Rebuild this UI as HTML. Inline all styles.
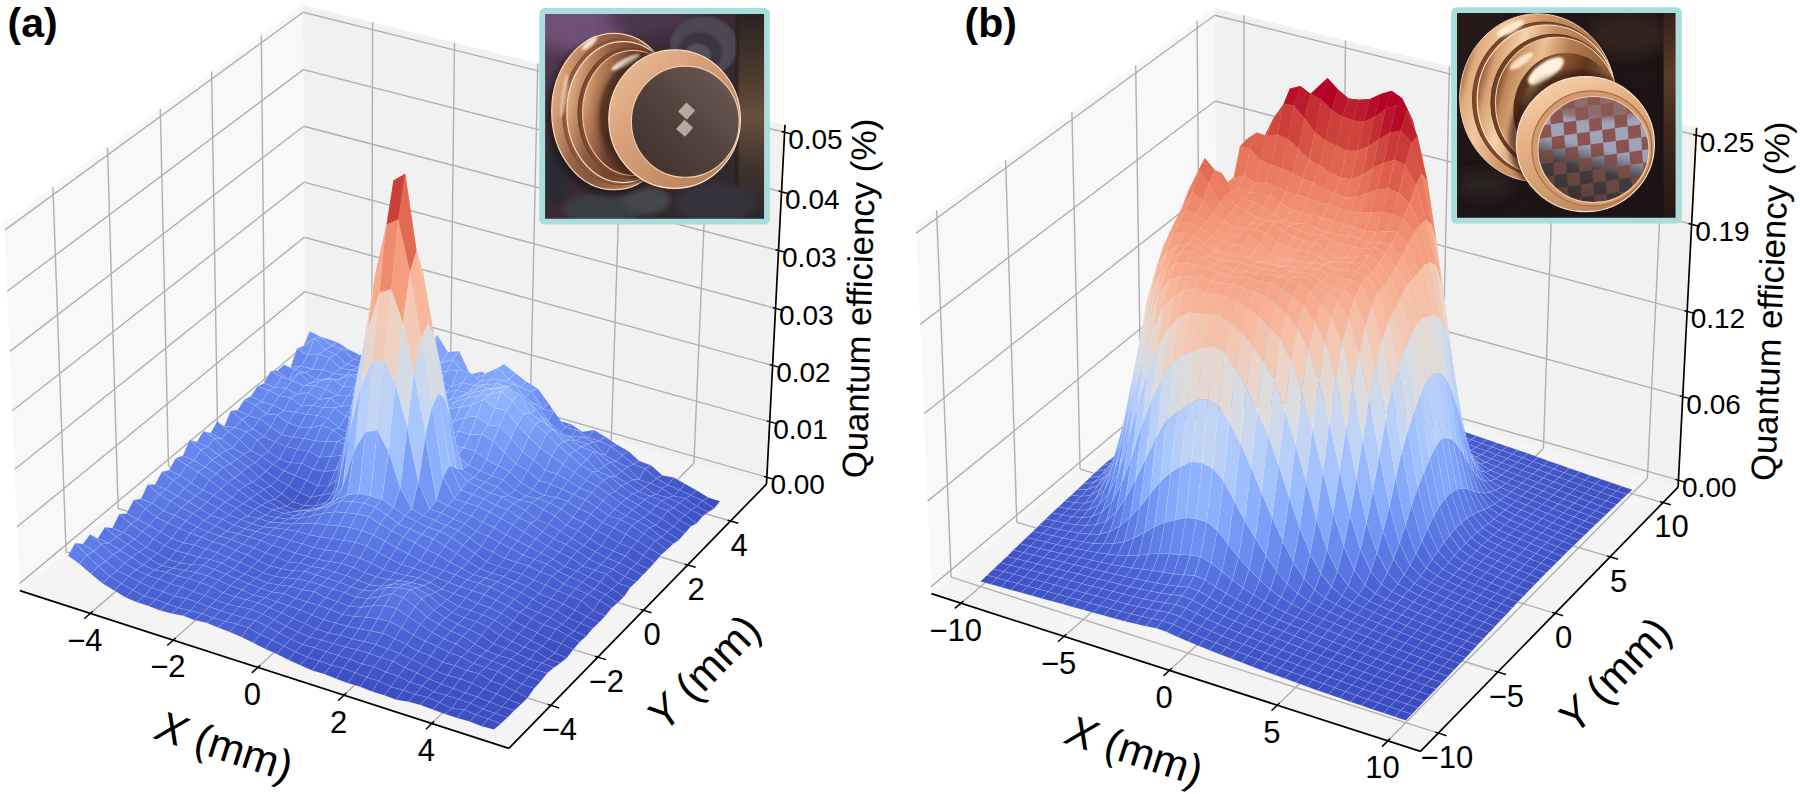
<!DOCTYPE html>
<html><head><meta charset="utf-8"><title>Quantum efficiency maps</title>
<style>html,body{margin:0;padding:0;background:#fff}svg{display:block}</style></head>
<body>
<svg width="1800" height="794" viewBox="0 0 1800 794" font-family="Liberation Sans, Arial, Helvetica, sans-serif" fill="#000">
<rect width="1800" height="794" fill="#fff"/>
<g id="pa"><polygon points="19.8,590.6 508.9,748.4 766.5,484.1 305.1,352" fill="#f4f4f4"/>
<polygon points="19.8,590.6 305.1,352 303,5 4.4,222.4" fill="#f8f8f8"/>
<polygon points="305.1,352 766.5,484.1 785,124.8 303,5" fill="#f1f1f1"/>
<g><line x1="90.3" y1="613.4" x2="371.8" y2="371.1" stroke="#b0b0b0" stroke-width="1.4" /><line x1="371.8" y1="371.1" x2="372.6" y2="22.3" stroke="#b0b0b0" stroke-width="1.4" /><line x1="173.3" y1="640.1" x2="450.3" y2="393.6" stroke="#b0b0b0" stroke-width="1.4" /><line x1="450.3" y1="393.6" x2="454.5" y2="42.7" stroke="#b0b0b0" stroke-width="1.4" /><line x1="257.8" y1="667.4" x2="530.1" y2="416.4" stroke="#b0b0b0" stroke-width="1.4" /><line x1="530.1" y1="416.4" x2="537.8" y2="63.4" stroke="#b0b0b0" stroke-width="1.4" /><line x1="343.9" y1="695.2" x2="611.3" y2="439.7" stroke="#b0b0b0" stroke-width="1.4" /><line x1="611.3" y1="439.7" x2="622.7" y2="84.5" stroke="#b0b0b0" stroke-width="1.4" /><line x1="431.7" y1="723.5" x2="693.9" y2="463.3" stroke="#b0b0b0" stroke-width="1.4" /><line x1="693.9" y1="463.3" x2="709" y2="105.9" stroke="#b0b0b0" stroke-width="1.4" /><line x1="66.1" y1="551.9" x2="550.9" y2="705.4" stroke="#b0b0b0" stroke-width="1.4" /><line x1="66.1" y1="551.9" x2="52.9" y2="187.1" stroke="#b0b0b0" stroke-width="1.4" /><line x1="118.1" y1="508.4" x2="597.9" y2="657.1" stroke="#b0b0b0" stroke-width="1.4" /><line x1="118.1" y1="508.4" x2="107.5" y2="147.4" stroke="#b0b0b0" stroke-width="1.4" /><line x1="168.5" y1="466.2" x2="643.5" y2="610.3" stroke="#b0b0b0" stroke-width="1.4" /><line x1="168.5" y1="466.2" x2="160.3" y2="108.9" stroke="#b0b0b0" stroke-width="1.4" /><line x1="217.5" y1="425.2" x2="687.7" y2="565" stroke="#b0b0b0" stroke-width="1.4" /><line x1="217.5" y1="425.2" x2="211.6" y2="71.6" stroke="#b0b0b0" stroke-width="1.4" /><line x1="265" y1="385.5" x2="730.5" y2="521" stroke="#b0b0b0" stroke-width="1.4" /><line x1="265" y1="385.5" x2="261.3" y2="35.4" stroke="#b0b0b0" stroke-width="1.4" /><line x1="19.5" y1="583.6" x2="305" y2="345.3" stroke="#b0b0b0" stroke-width="1.4" /><line x1="305" y1="345.3" x2="766.9" y2="477.2" stroke="#b0b0b0" stroke-width="1.4" /><line x1="17.1" y1="526.8" x2="304.7" y2="291.6" stroke="#b0b0b0" stroke-width="1.4" /><line x1="304.7" y1="291.6" x2="769.7" y2="421.7" stroke="#b0b0b0" stroke-width="1.4" /><line x1="14.7" y1="469.2" x2="304.4" y2="237.2" stroke="#b0b0b0" stroke-width="1.4" /><line x1="304.4" y1="237.2" x2="772.6" y2="365.5" stroke="#b0b0b0" stroke-width="1.4" /><line x1="12.3" y1="410.7" x2="304.1" y2="182.1" stroke="#b0b0b0" stroke-width="1.4" /><line x1="304.1" y1="182.1" x2="775.5" y2="308.4" stroke="#b0b0b0" stroke-width="1.4" /><line x1="9.8" y1="351.4" x2="303.7" y2="126.3" stroke="#b0b0b0" stroke-width="1.4" /><line x1="303.7" y1="126.3" x2="778.5" y2="250.5" stroke="#b0b0b0" stroke-width="1.4" /><line x1="7.2" y1="291.2" x2="303.4" y2="69.6" stroke="#b0b0b0" stroke-width="1.4" /><line x1="303.4" y1="69.6" x2="781.5" y2="191.8" stroke="#b0b0b0" stroke-width="1.4" /><line x1="4.7" y1="230.1" x2="303.1" y2="12.3" stroke="#b0b0b0" stroke-width="1.4" /><line x1="303.1" y1="12.3" x2="784.6" y2="132.3" stroke="#b0b0b0" stroke-width="1.4" /></g>
<g transform="scale(.1)" stroke="#fff" stroke-width="5.5" stroke-linejoin="round"><g stroke-opacity="0.22">
<path d="m3098 3312l109 58 64 17-108-16z" fill="#6f92f3"/>
<path d="m3207 3370l108 88 64-32-108-39z" fill="#6e90f2"/>
<path d="m3315 3458l109 33 64 5-109-70z" fill="#6b8df0"/>
<path d="m3424 3491l109 105 64-46-109-54z" fill="#6788ee"/>
<path d="m3533 3596l109 13 64-77-109 18z" fill="#6687ed"/>
<path d="m3642 3609l110 63 63-73-109-67z" fill="#6687ed"/>
<path d="m3752 3672l110-91 64-90-111 108z" fill="#6b8df0"/>
<path d="m3862 3581l110 61 63-95-109-56z" fill="#7093f3"/>
<path d="m3972 3642l111-52 63-1-111-42z" fill="#7295f4"/>
<path d="m4083 3590l111 74 63-126-111 51z" fill="#7597f6"/>
<path d="m4194 3664l111-54 65-265-113 193z" fill="#7ea1fa"/>
<path d="m4305 3610l112 17 63-107-110-175z" fill="#82a6fb"/>
<path d="m4417 3627l112-30 63-87-112 10z" fill="#82a6fb"/>
<path d="m4529 3597l111 135 61 14-109-236z" fill="#7da0f9"/>
<path d="m4640 3732l112 56 62-74-113 32z" fill="#7699f6"/>
<path d="m4752 3788l113-59 61 49-112-64z" fill="#779af7"/>
<path d="m4865 3729l115-49 61-40-115 138z" fill="#80a3fa"/>
<path d="m4980 3680l111 116 62-66-112-90z" fill="#84a7fc"/>
<path d="m5091 3796l113 75 61-53-112-88z" fill="#7da0f9"/>
<path d="m5204 3871l113 46 61-32-113-67z" fill="#799cf8"/>
<path d="m5317 3917l110 173 61-56-110-149z" fill="#7093f3"/>
<path d="m5427 4090l114 25 57 93-110-174z" fill="#6687ed"/>
<path d="m5541 4115l111 161 60-34-114-34z" fill="#5f7fe8"/>
<path d="m5652 4276l115 24 58 18-113-76z" fill="#5b7ae5"/>
<path d="m5767 4300l113 78 61-78-116 18z" fill="#5b7ae5"/>
<path d="m5880 4378l115 32 59-42-113-68z" fill="#5a78e4"/>
<path d="m5995 4410l114 55 59-19-114-78z" fill="#5875e1"/>
<path d="m6109 4465l113 88 60-44-114-63z" fill="#5470de"/>
<path d="m6222 4553l114 88 58-31-112-101z" fill="#4f69d9"/>
<path d="m6336 4641l115 47 59-35-116-43z" fill="#4b64d5"/>
<path d="m6451 4688l114 96 58-32-113-99z" fill="#485fd1"/>
<path d="m6565 4784l114 66 60-74-116-24z" fill="#445acc"/>
<path d="m6679 4850l116 49 59-60-115-63z" fill="#4358cb"/>
<path d="m6795 4899l116 55 58-48-115-67z" fill="#4055c8"/>
<path d="m6911 4954l116 53 57-32-115-69z" fill="#3e51c5"/>
<path d="m7027 5007l115 77 59-71-117-38z" fill="#3c4ec2"/>
<path d="m3034 3461l108-77 65-14-109-58z" fill="#7396f5"/>
<path d="m3142 3384l109 116 64-42-108-88z" fill="#7295f4"/>
<path d="m3251 3500l109 44 64-53-109-33z" fill="#6e90f2"/>
<path d="m3360 3544l109 100 64-48-109-105z" fill="#688aef"/>
<path d="m3469 3644l110 29 63-64-109-13z" fill="#6687ed"/>
<path d="m3579 3673l110-39 63 38-110-63z" fill="#6788ee"/>
<path d="m3689 3634l109 53 64-106-110 91z" fill="#6b8df0"/>
<path d="m3798 3687l111 32 63-77-110-61z" fill="#6c8ff1"/>
<path d="m3909 3719l110-13 64-116-111 52z" fill="#6f92f3"/>
<path d="m4019 3706l111 12 64-54-111-74z" fill="#7295f4"/>
<path d="m4130 3718l111 76 64-184-111 54z" fill="#7396f5"/>
<path d="m4241 3794l113-64 63-103-112-17z" fill="#779af7"/>
<path d="m4354 3730l112-18 63-115-112 30z" fill="#7da0f9"/>
<path d="m4466 3712l112-6 62 26-111-135z" fill="#7ea1fa"/>
<path d="m4578 3706l113 13 61 69-112-56z" fill="#7da0f9"/>
<path d="m4691 3719l112 96 62-86-113 59z" fill="#7da0f9"/>
<path d="m4803 3815l114-27 63-108-115 49z" fill="#81a4fb"/>
<path d="m4917 3788l113 15 61-7-111-116z" fill="#84a7fc"/>
<path d="m5030 3803l114 41 60 27-113-75z" fill="#80a3fa"/>
<path d="m5144 3844l111 137 62-64-113-46z" fill="#7b9ff9"/>
<path d="m5255 3981l113 67 59 42-110-173z" fill="#7396f5"/>
<path d="m5368 4048l111 160 62-93-114-25z" fill="#6c8ff1"/>
<path d="m5479 4208l112 133 61-65-111-161z" fill="#6384eb"/>
<path d="m5591 4341l115 23 61-64-115-24z" fill="#5e7de7"/>
<path d="m5706 4364l115 5 59 9-113-78z" fill="#5e7de7"/>
<path d="m5821 4369l115 54 59-13-115-32z" fill="#5d7ce6"/>
<path d="m5936 4423l112 128 61-86-114-55z" fill="#5977e3"/>
<path d="m6048 4551l114 65 60-63-113-88z" fill="#5470de"/>
<path d="m6162 4616l115 56 59-31-114-88z" fill="#506bda"/>
<path d="m6277 4672l113 123 61-107-115-47z" fill="#4c66d6"/>
<path d="m6390 4795l116 38 59-49-114-96z" fill="#485fd1"/>
<path d="m6506 4833l115 51 58-34-114-66z" fill="#455cce"/>
<path d="m6621 4884l115 77 59-62-116-49z" fill="#4358cb"/>
<path d="m6736 4961l117 23 58-30-116-55z" fill="#4257c9"/>
<path d="m6853 4984l115 81 59-58-116-53z" fill="#3f53c6"/>
<path d="m6968 5065l117 54 57-35-115-77z" fill="#3d50c3"/>
<path d="m2969 3486l109 66 64-168-108 77z" fill="#6f92f3"/>
<path d="m3078 3552l109-12 64-40-109-116z" fill="#7093f3"/>
<path d="m3187 3540l109 40 64-36-109-44z" fill="#6e90f2"/>
<path d="m3296 3580l109 104 64-40-109-100z" fill="#6a8bef"/>
<path d="m3405 3684l110 17 64-28-110-29z" fill="#6788ee"/>
<path d="m3515 3701l110 23 64-90-110 39z" fill="#6a8bef"/>
<path d="m3625 3724l110 1 63-38-109-53z" fill="#6b8df0"/>
<path d="m3735 3725l110 98 64-104-111-32z" fill="#6a8bef"/>
<path d="m3845 3823l111-21 63-96-110 13z" fill="#6b8df0"/>
<path d="m3956 3802l111-16 63-68-111-12z" fill="#6f92f3"/>
<path d="m4067 3786l111 65 63-57-111-76z" fill="#6f92f3"/>
<path d="m4178 3851l112-25 64-96-113 64z" fill="#7093f3"/>
<path d="m4290 3826l112-12 64-102-112 18z" fill="#779af7"/>
<path d="m4402 3814l112 56 64-164-112 6z" fill="#7a9df8"/>
<path d="m4514 3870l114-42 63-109-113-13z" fill="#7da0f9"/>
<path d="m4628 3828l112 27 63-40-112-96z" fill="#7ea1fa"/>
<path d="m4740 3855l114-11 63-56-114 27z" fill="#80a3fa"/>
<path d="m4854 3844l114-7 62-34-113-15z" fill="#84a7fc"/>
<path d="m4968 3837l114 29 62-22-114-41z" fill="#85a8fc"/>
<path d="m5082 3866l112 145 61-30-111-137z" fill="#80a3fa"/>
<path d="m5194 4011l114 23 60 14-113-67z" fill="#799cf8"/>
<path d="m5308 4034l112 142 59 32-111-160z" fill="#7295f4"/>
<path d="m5420 4176l113 79 58 86-112-133z" fill="#6788ee"/>
<path d="m5533 4255l114 92 59 17-115-23z" fill="#6384eb"/>
<path d="m5647 4347l114 59 60-37-115-5z" fill="#6282ea"/>
<path d="m5761 4406l115 35 60-18-115-54z" fill="#6180e9"/>
<path d="m5876 4441l114 96 58 14-112-128z" fill="#5d7ce6"/>
<path d="m5990 4537l114 87 58-8-114-65z" fill="#5673e0"/>
<path d="m6104 4624l114 88 59-40-115-56z" fill="#536edd"/>
<path d="m6218 4712l114 86 58-3-113-123z" fill="#4e68d8"/>
<path d="m6332 4798l115 76 59-41-116-38z" fill="#4961d2"/>
<path d="m6447 4874l115 71 59-61-115-51z" fill="#465ecf"/>
<path d="m6562 4945l116 31 58-15-115-77z" fill="#445acc"/>
<path d="m6678 4976l117 54 58-46-117-23z" fill="#4358cb"/>
<path d="m6795 5030l116 67 57-32-115-81z" fill="#4257c9"/>
<path d="m6911 5097l116 65 58-43-117-54z" fill="#3e51c5"/>
<path d="m2905 3674l108-14 65-108-109-66z" fill="#688aef"/>
<path d="m3013 3660l109 32 65-152-109 12z" fill="#6a8bef"/>
<path d="m3122 3692l109 6 65-118-109-40z" fill="#6b8df0"/>
<path d="m3231 3698l110 39 64-53-109-104z" fill="#6a8bef"/>
<path d="m3341 3737l109 16 65-52-110-17z" fill="#688aef"/>
<path d="m3450 3753l110-5 65-24-110-23z" fill="#6a8bef"/>
<path d="m3560 3748l111 20 64-43-110-1z" fill="#6c8ff1"/>
<path d="m3671 3768l110 30 64 25-110-98z" fill="#6b8df0"/>
<path d="m3781 3798l111 52 64-48-111 21z" fill="#6b8df0"/>
<path d="m3892 3850l111 15 64-79-111 16z" fill="#6e90f2"/>
<path d="m4003 3865l111 115 64-129-111-65z" fill="#6c8ff1"/>
<path d="m4114 3980l113-79 63-75-112 25z" fill="#6e90f2"/>
<path d="m4227 3901l112 30 63-117-112 12z" fill="#7396f5"/>
<path d="m4339 3931l112-1 63-60-112-56z" fill="#7597f6"/>
<path d="m4451 3930l114-28 63-74-114 42z" fill="#799cf8"/>
<path d="m4565 3902l113 28 62-75-112-27z" fill="#7da0f9"/>
<path d="m4678 3930l114-69 62-17-114 11z" fill="#81a4fb"/>
<path d="m4792 3861l114 26 62-50-114 7z" fill="#85a8fc"/>
<path d="m4906 3887l115-21 61 0-114-29z" fill="#88abfd"/>
<path d="m5021 3866l113 70 60 75-112-145z" fill="#85a8fc"/>
<path d="m5134 3936l114 68 60 30-114-23z" fill="#81a4fb"/>
<path d="m5248 4004l114 89 58 83-112-142z" fill="#7b9ff9"/>
<path d="m5362 4093l112 154 59 8-113-79z" fill="#7396f5"/>
<path d="m5474 4247l113 85 60 15-114-92z" fill="#6c8ff1"/>
<path d="m5587 4332l114 69 60 5-114-59z" fill="#6788ee"/>
<path d="m5701 4401l115 67 60-27-115-35z" fill="#6485ec"/>
<path d="m5816 4468l115 50 59 19-114-96z" fill="#6282ea"/>
<path d="m5931 4518l113 139 60-33-114-87z" fill="#5b7ae5"/>
<path d="m6044 4657l113 107 61-52-114-88z" fill="#5572df"/>
<path d="m6157 4764l115 72 60-38-114-86z" fill="#506bda"/>
<path d="m6272 4836l115 79 60-41-115-76z" fill="#4b64d5"/>
<path d="m6387 4915l116 47 59-17-115-71z" fill="#4961d2"/>
<path d="m6503 4962l117 46 58-32-116-31z" fill="#465ecf"/>
<path d="m6620 5008l116 72 59-50-117-54z" fill="#455cce"/>
<path d="m6736 5080l116 73 59-56-116-67z" fill="#4358cb"/>
<path d="m6852 5153l115 79 60-70-116-65z" fill="#3f53c6"/>
<path d="m2839 3647l109 47 65-34-108 14z" fill="#6687ed"/>
<path d="m2948 3694l109 34 65-36-109-32z" fill="#6788ee"/>
<path d="m3057 3728l110 66 64-96-109-6z" fill="#6687ed"/>
<path d="m3167 3794l109-8 65-49-110-39z" fill="#6788ee"/>
<path d="m3276 3786l110 10 64-43-109-16z" fill="#688aef"/>
<path d="m3386 3796l110-50 64 2-110 5z" fill="#6c8ff1"/>
<path d="m3496 3746l111 63 64-41-111-20z" fill="#6f92f3"/>
<path d="m3607 3809l110 19 64-30-110-30z" fill="#6f92f3"/>
<path d="m3717 3828l111 21 64 1-111-52z" fill="#6f92f3"/>
<path d="m3828 3849l112 58 63-42-111-15z" fill="#6f92f3"/>
<path d="m3940 3907l111 63 63 10-111-115z" fill="#6b8df0"/>
<path d="m4051 3970l112 11 64-80-113 79z" fill="#6c8ff1"/>
<path d="m4163 3981l112 62 64-112-112-30z" fill="#6f92f3"/>
<path d="m4275 4043l113-50 63-63-112 1z" fill="#7295f4"/>
<path d="m4388 3993l113 6 64-97-114 28z" fill="#7699f6"/>
<path d="m4501 3999l114-39 63-30-113-28z" fill="#7b9ff9"/>
<path d="m4615 3960l114-33 63-66-114 69z" fill="#81a4fb"/>
<path d="m4729 3927l115-27 62-13-114-26z" fill="#88abfd"/>
<path d="m4844 3900l115-11 62-23-115 21z" fill="#8caffe"/>
<path d="m4959 3889l115-14 60 61-113-70z" fill="#8fb1fe"/>
<path d="m5074 3875l114 62 60 67-114-68z" fill="#8db0fe"/>
<path d="m5188 3937l112 195 62-39-114-89z" fill="#85a8fc"/>
<path d="m5300 4132l114 74 60 41-112-154z" fill="#7b9ff9"/>
<path d="m5414 4206l114 87 59 39-113-85z" fill="#7597f6"/>
<path d="m5528 4293l113 122 60-14-114-69z" fill="#6f92f3"/>
<path d="m5641 4415l114 89 61-36-115-67z" fill="#688aef"/>
<path d="m5755 4504l115 93 61-79-115-50z" fill="#6485ec"/>
<path d="m5870 4597l113 116 61-56-113-139z" fill="#5e7de7"/>
<path d="m5983 4713l116 51 58 0-113-107z" fill="#5875e1"/>
<path d="m6099 4764l114 96 59-24-115-72z" fill="#536edd"/>
<path d="m6213 4860l115 78 59-23-115-79z" fill="#4e68d8"/>
<path d="m6328 4938l116 62 59-38-116-47z" fill="#4b64d5"/>
<path d="m6444 5000l116 59 60-51-117-46z" fill="#4961d2"/>
<path d="m6560 5059l117 52 59-31-116-72z" fill="#485fd1"/>
<path d="m6677 5111l116 91 59-49-116-73z" fill="#445acc"/>
<path d="m6793 5202l116 63 58-33-115-79z" fill="#3f53c6"/>
<path d="m2774 3705l109 97 65-108-109-47z" fill="#6788ee"/>
<path d="m2883 3802l109-76 65 2-109-34z" fill="#6788ee"/>
<path d="m2992 3726l110 108 65-40-110-66z" fill="#6788ee"/>
<path d="m3102 3834l109-28 65-20-109 8z" fill="#6788ee"/>
<path d="m3211 3806l110-16 65 6-110-10z" fill="#6b8df0"/>
<path d="m3321 3790l110 77 65-121-110 50z" fill="#6f92f3"/>
<path d="m3431 3867l111 4 65-62-111-63z" fill="#6f92f3"/>
<path d="m3542 3871l111 54 64-97-110-19z" fill="#6f92f3"/>
<path d="m3653 3925l111 0 64-76-111-21z" fill="#7093f3"/>
<path d="m3764 3925l111 53 65-71-112-58z" fill="#7093f3"/>
<path d="m3875 3978l112 16 64-24-111-63z" fill="#6e90f2"/>
<path d="m3987 3994l112 65 64-78-112-11z" fill="#6e90f2"/>
<path d="m4099 4059l112 59 64-75-112-62z" fill="#6b8df0"/>
<path d="m4211 4118l113-35 64-90-113 50z" fill="#6e90f2"/>
<path d="m4324 4083l114-42 63-42-113-6z" fill="#7597f6"/>
<path d="m4438 4041l114-20 63-61-114 39z" fill="#7b9ff9"/>
<path d="m4552 4021l114-39 63-55-114 33z" fill="#82a6fb"/>
<path d="m4666 3982l115-26 63-56-115 27z" fill="#88abfd"/>
<path d="m4781 3956l115-13 63-54-115 11z" fill="#8db0fe"/>
<path d="m4896 3943l116-29 62-39-115 14z" fill="#93b5fe"/>
<path d="m5012 3914l113 100 63-77-114-62z" fill="#93b5fe"/>
<path d="m5125 4014l114 123 61-5-112-195z" fill="#8badfd"/>
<path d="m5239 4137l113 110 62-41-114-74z" fill="#81a4fb"/>
<path d="m5352 4247l114 91 62-45-114-87z" fill="#7a9df8"/>
<path d="m5466 4338l114 117 61-40-113-122z" fill="#7396f5"/>
<path d="m5580 4455l114 90 61-41-114-89z" fill="#6b8df0"/>
<path d="m5694 4545l114 104 62-52-115-93z" fill="#6687ed"/>
<path d="m5808 4649l116 69 59-5-113-116z" fill="#5f7fe8"/>
<path d="m5924 4718l114 86 61-40-116-51z" fill="#5a78e4"/>
<path d="m6038 4804l115 112 60-56-114-96z" fill="#5572df"/>
<path d="m6153 4916l115 69 60-47-115-78z" fill="#506bda"/>
<path d="m6268 4985l116 64 60-49-116-62z" fill="#4c66d6"/>
<path d="m6384 5049l116 76 60-66-116-59z" fill="#4a63d3"/>
<path d="m6500 5125l117 61 60-75-117-52z" fill="#485fd1"/>
<path d="m6617 5186l116 79 60-63-116-91z" fill="#445acc"/>
<path d="m6733 5265l116 68 60-68-116-63z" fill="#4055c8"/>
<path d="m2707 3711l110 59 66 32-109-97z" fill="#6a8bef"/>
<path d="m2817 3770l109 37 66-81-109 76z" fill="#6a8bef"/>
<path d="m2926 3807l110 51 66-24-110-108z" fill="#6a8bef"/>
<path d="m3036 3858l110 0 65-52-109 28z" fill="#6a8bef"/>
<path d="m3146 3858l110 33 65-101-110 16z" fill="#6e90f2"/>
<path d="m3256 3891l111 61 64-85-110-77z" fill="#6c8ff1"/>
<path d="m3367 3952l110 11 65-92-111-4z" fill="#6b8df0"/>
<path d="m3477 3963l111-35 65-3-111-54z" fill="#6e90f2"/>
<path d="m3588 3928l112 52 64-55-111 0z" fill="#6f92f3"/>
<path d="m3700 3980l111 33 64-35-111-53z" fill="#6f92f3"/>
<path d="m3811 4013l112 89 64-108-112-16z" fill="#6e90f2"/>
<path d="m3923 4102l112 43 64-86-112-65z" fill="#6b8df0"/>
<path d="m4035 4145l112 18 64-45-112-59z" fill="#6a8bef"/>
<path d="m4147 4163l113 30 64-110-113 35z" fill="#6c8ff1"/>
<path d="m4260 4193l113-11 65-141-114 42z" fill="#7093f3"/>
<path d="m4373 4182l115-96 64-65-114 20z" fill="#799cf8"/>
<path d="m4488 4086l114-11 64-93-114 39z" fill="#81a4fb"/>
<path d="m4602 4075l115-27 64-92-115 26z" fill="#86a9fc"/>
<path d="m4717 4048l116-53 63-52-115 13z" fill="#8db0fe"/>
<path d="m4833 3995l114 86 65-167-116 29z" fill="#92b4fe"/>
<path d="m4947 4081l115 25 63-92-113-100z" fill="#90b2fe"/>
<path d="m5062 4106l113 147 64-116-114-123z" fill="#89acfd"/>
<path d="m5175 4253l113 116 64-122-113-110z" fill="#80a3fa"/>
<path d="m5288 4369l114 112 64-143-114-91z" fill="#779af7"/>
<path d="m5402 4481l115 80 63-106-114-117z" fill="#7093f3"/>
<path d="m5517 4561l114 85 63-101-114-90z" fill="#6a8bef"/>
<path d="m5631 4646l115 80 62-77-114-104z" fill="#6485ec"/>
<path d="m5746 4726l116 77 62-85-116-69z" fill="#5f7fe8"/>
<path d="m5862 4803l115 60 61-59-114-86z" fill="#5b7ae5"/>
<path d="m5977 4863l116 80 60-27-115-112z" fill="#5673e0"/>
<path d="m6093 4943l115 88 60-46-115-69z" fill="#516ddb"/>
<path d="m6208 5031l116 69 60-51-116-64z" fill="#4e68d8"/>
<path d="m6324 5100l116 74 60-49-116-76z" fill="#4a63d3"/>
<path d="m6440 5174l116 78 61-66-117-61z" fill="#485fd1"/>
<path d="m6556 5252l117 68 60-55-116-79z" fill="#445acc"/>
<path d="m6673 5320l117 80 59-67-116-68z" fill="#4055c8"/>
<path d="m2642 3830l109 47 66-107-110-59z" fill="#6a8bef"/>
<path d="m2751 3877l110 5 65-75-109-37z" fill="#6a8bef"/>
<path d="m2861 3882l110 64 65-88-110-51z" fill="#688aef"/>
<path d="m2971 3946l109-19 66-69-110 0z" fill="#6a8bef"/>
<path d="m3080 3927l111 67 65-103-110-33z" fill="#6b8df0"/>
<path d="m3191 3994l110-12 66-30-111-61z" fill="#6a8bef"/>
<path d="m3301 3982l111 83 65-102-110-11z" fill="#6a8bef"/>
<path d="m3412 4065l111-13 65-124-111 35z" fill="#6b8df0"/>
<path d="m3523 4052l112 27 65-99-112-52z" fill="#6e90f2"/>
<path d="m3635 4079l111 41 65-107-111-33z" fill="#6e90f2"/>
<path d="m3746 4120l112 16 65-34-112-89z" fill="#6c8ff1"/>
<path d="m3858 4136l112 93 65-84-112-43z" fill="#6a8bef"/>
<path d="m3970 4229l113-6 64-60-112-18z" fill="#688aef"/>
<path d="m4083 4223l113 26 64-56-113-30z" fill="#6b8df0"/>
<path d="m4196 4249l113 50 64-117-113 11z" fill="#6b8df0"/>
<path d="m4309 4299l114-42 65-171-115 96z" fill="#7295f4"/>
<path d="m4423 4257l115-42 64-140-114 11z" fill="#7a9df8"/>
<path d="m4538 4215l115-40 64-127-115 27z" fill="#81a4fb"/>
<path d="m4653 4175l115-12 65-168-116 53z" fill="#88abfd"/>
<path d="m4768 4163l114 88 65-170-114-86z" fill="#88abfd"/>
<path d="m4882 4251l115 10 65-155-115-25z" fill="#86a9fc"/>
<path d="m4997 4261l114 121 64-129-113-147z" fill="#82a6fb"/>
<path d="m5111 4382l113 135 64-148-113-116z" fill="#779af7"/>
<path d="m5224 4517l114 84 64-120-114-112z" fill="#6f92f3"/>
<path d="m5338 4601l115 103 64-143-115-80z" fill="#688aef"/>
<path d="m5453 4704l116 36 62-94-114-85z" fill="#6485ec"/>
<path d="m5569 4740l115 67 62-81-115-80z" fill="#6282ea"/>
<path d="m5684 4807l115 72 63-76-116-77z" fill="#5e7de7"/>
<path d="m5799 4879l117 51 61-67-115-60z" fill="#5a78e4"/>
<path d="m5916 4930l115 79 62-66-116-80z" fill="#5875e1"/>
<path d="m6031 5009l116 83 61-61-115-88z" fill="#536edd"/>
<path d="m6147 5092l116 68 61-60-116-69z" fill="#4f69d9"/>
<path d="m6263 5160l117 53 60-39-116-74z" fill="#4b64d5"/>
<path d="m6380 5213l117 65 59-26-116-78z" fill="#4961d2"/>
<path d="m6497 5278l116 94 60-52-117-68z" fill="#445acc"/>
<path d="m6613 5372l117 67 60-39-117-80z" fill="#4055c8"/>
<path d="m2575 3862l110 42 66-27-109-47z" fill="#688aef"/>
<path d="m2685 3904l110 51 66-73-110-5z" fill="#6788ee"/>
<path d="m2795 3955l110 25 66-34-110-64z" fill="#6788ee"/>
<path d="m2905 3980l110 80 65-133-109 19z" fill="#6788ee"/>
<path d="m3015 4060l110-4 66-62-111-67z" fill="#6788ee"/>
<path d="m3125 4056l111 19 65-93-110 12z" fill="#688aef"/>
<path d="m3236 4075l111 2 65-12-111-83z" fill="#6a8bef"/>
<path d="m3347 4077l111 88 65-113-111 13z" fill="#688aef"/>
<path d="m3458 4165l112 47 65-133-112-27z" fill="#688aef"/>
<path d="m3570 4212l111 52 65-144-111-41z" fill="#6788ee"/>
<path d="m3681 4264l113-15 64-113-112-16z" fill="#688aef"/>
<path d="m3794 4249l112 28 64-48-112-93z" fill="#688aef"/>
<path d="m3906 4277l112 66 65-120-113 6z" fill="#6788ee"/>
<path d="m4018 4343l113 23 65-117-113-26z" fill="#6788ee"/>
<path d="m4131 4366l114-15 64-52-113-50z" fill="#688aef"/>
<path d="m4245 4351l114-29 64-65-114 42z" fill="#6c8ff1"/>
<path d="m4359 4322l114 26 65-133-115 42z" fill="#7396f5"/>
<path d="m4473 4348l115-39 65-134-115 40z" fill="#799cf8"/>
<path d="m4588 4309l114 40 66-186-115 12z" fill="#7ea1fa"/>
<path d="m4702 4349l116-7 64-91-114-88z" fill="#7ea1fa"/>
<path d="m4818 4342l114 69 65-150-115-10z" fill="#7da0f9"/>
<path d="m4932 4411l114 117 65-146-114-121z" fill="#799cf8"/>
<path d="m5046 4528l114 112 64-123-113-135z" fill="#6f92f3"/>
<path d="m5160 4640l115 66 63-105-114-84z" fill="#688aef"/>
<path d="m5275 4706l114 101 64-103-115-103z" fill="#6384eb"/>
<path d="m5389 4807l116 36 64-103-116-36z" fill="#5f7fe8"/>
<path d="m5505 4843l116 51 63-87-115-67z" fill="#5e7de7"/>
<path d="m5621 4894l116 50 62-65-115-72z" fill="#5b7ae5"/>
<path d="m5737 4944l117 56 62-70-117-51z" fill="#5977e3"/>
<path d="m5854 5000l116 76 61-67-115-79z" fill="#5673e0"/>
<path d="m5970 5076l116 79 61-63-116-83z" fill="#536edd"/>
<path d="m6086 5155l117 40 60-35-116-68z" fill="#4f69d9"/>
<path d="m6203 5195l117 62 60-44-117-53z" fill="#4c66d6"/>
<path d="m6320 5257l117 81 60-60-117-65z" fill="#4a63d3"/>
<path d="m6437 5338l117 73 59-39-116-94z" fill="#465ecf"/>
<path d="m6554 5411l116 87 60-59-117-67z" fill="#4257c9"/>
<path d="m2509 3961l110 60 66-117-110-42z" fill="#6788ee"/>
<path d="m2619 4021l110 29 66-95-110-51z" fill="#6687ed"/>
<path d="m2729 4050l110 57 66-127-110-25z" fill="#6485ec"/>
<path d="m2839 4107l110 14 66-61-110-80z" fill="#6384eb"/>
<path d="m2949 4121l111 22 65-87-110 4z" fill="#6384eb"/>
<path d="m3060 4143l110 12 66-80-111-19z" fill="#6687ed"/>
<path d="m3170 4155l111 31 66-109-111-2z" fill="#6788ee"/>
<path d="m3281 4186l112 95 65-116-111-88z" fill="#6687ed"/>
<path d="m3393 4281l112 56 65-125-112-47z" fill="#6282ea"/>
<path d="m3505 4337l111-9 65-64-111-52z" fill="#6180e9"/>
<path d="m3616 4328l112 27 66-106-113 15z" fill="#6384eb"/>
<path d="m3728 4355l113-10 65-68-112-28z" fill="#6687ed"/>
<path d="m3841 4345l113 34 64-36-112-66z" fill="#6687ed"/>
<path d="m3954 4379l114-90 63 77-113-23z" fill="#688aef"/>
<path d="m4068 4289l115-174 62 236-114 15z" fill="#7295f4"/>
<path d="m4183 4115l114-13 62 220-114 29z" fill="#7b9ff9"/>
<path d="m4297 4102l113 152 63 94-114-26z" fill="#7b9ff9"/>
<path d="m4410 4254l113 195 65-140-115 39z" fill="#7699f6"/>
<path d="m4523 4449l114 28 65-128-114-40z" fill="#7597f6"/>
<path d="m4637 4477l115 34 66-169-116 7z" fill="#7597f6"/>
<path d="m4752 4511l115 88 65-188-114-69z" fill="#7396f5"/>
<path d="m4867 4599l114 58 65-129-114-117z" fill="#6f92f3"/>
<path d="m4981 4657l115 61 64-78-114-112z" fill="#6a8bef"/>
<path d="m5096 4718l115 108 64-120-115-66z" fill="#6384eb"/>
<path d="m5211 4826l115 71 63-90-114-101z" fill="#5e7de7"/>
<path d="m5326 4897l116 59 63-113-116-36z" fill="#5b7ae5"/>
<path d="m5442 4956l117 17 62-79-116-51z" fill="#5a78e4"/>
<path d="m5559 4973l116 41 62-70-116-50z" fill="#5a78e4"/>
<path d="m5675 5014l116 73 63-87-117-56z" fill="#5875e1"/>
<path d="m5791 5087l117 52 62-63-116-76z" fill="#5572df"/>
<path d="m5908 5139l116 85 62-69-116-79z" fill="#516ddb"/>
<path d="m6024 5224l117 56 62-85-117-40z" fill="#4f69d9"/>
<path d="m6141 5280l117 64 62-87-117-62z" fill="#4c66d6"/>
<path d="m6258 5344l117 67 62-73-117-81z" fill="#4a63d3"/>
<path d="m6375 5411l117 72 62-72-117-73z" fill="#465ecf"/>
<path d="m6492 5483l118 67 60-52-116-87z" fill="#4358cb"/>
<path d="m2442 3998l110 54 67-31-110-60z" fill="#6485ec"/>
<path d="m2552 4052l111 87 66-89-110-29z" fill="#6384eb"/>
<path d="m2663 4139l110 10 66-42-110-57z" fill="#6180e9"/>
<path d="m2773 4149l110 81 66-109-110-14z" fill="#6180e9"/>
<path d="m2883 4230l111 39 66-126-111-22z" fill="#5f7fe8"/>
<path d="m2994 4269l111 10 65-124-110-12z" fill="#6180e9"/>
<path d="m3105 4279l111-27 65-66-111-31z" fill="#6384eb"/>
<path d="m3216 4252l111 46 66-17-112-95z" fill="#6384eb"/>
<path d="m3327 4298l112 88 66-49-112-56z" fill="#5f7fe8"/>
<path d="m3439 4386l112 3 65-61-111 9z" fill="#5f7fe8"/>
<path d="m3551 4389l112-10 65-24-112-27z" fill="#6282ea"/>
<path d="m3663 4379l113 49 65-83-113 10z" fill="#6485ec"/>
<path d="m3776 4428l115-376 63 327-113-34z" fill="#6f92f3"/>
<path d="m3891 4052l116-386 61 623-114 90z" fill="#88abfd"/>
</g>
<g stroke-opacity="0.1">
<path d="m4007 3666l116-175 60 624-115 174z" fill="#a1c0ff"/>
<path d="m4123 3491l115-7 59 618-114 13z" fill="#aec9fc"/>
<path d="m4238 3484l114 232 58 538-113-152z" fill="#a9c6fd"/>
</g>
<g stroke-opacity="0.22">
<path d="m4352 3716l111 374 60 359-113-195z" fill="#93b5fe"/>
<path d="m4463 4090l110 467 64-80-114-28z" fill="#7a9df8"/>
<path d="m4573 4557l114 96 65-142-115-34z" fill="#6e90f2"/>
<path d="m4687 4653l115 56 65-110-115-88z" fill="#6a8bef"/>
<path d="m4802 4709l115 49 64-101-114-58z" fill="#6788ee"/>
<path d="m4917 4758l116 43 63-83-115-61z" fill="#6687ed"/>
<path d="m5033 4801l114 98 64-73-115-108z" fill="#6180e9"/>
<path d="m5147 4899l116 60 63-62-115-71z" fill="#5b7ae5"/>
<path d="m5263 4959l117 26 62-29-116-59z" fill="#5a78e4"/>
<path d="m5380 4985l116 42 63-54-117-17z" fill="#5a78e4"/>
<path d="m5496 5027l116 63 63-76-116-41z" fill="#5977e3"/>
<path d="m5612 5090l116 85 63-88-116-73z" fill="#5673e0"/>
<path d="m5728 5175l117 54 63-90-117-52z" fill="#536edd"/>
<path d="m5845 5229l117 76 62-81-116-85z" fill="#506bda"/>
<path d="m5962 5305l117 58 62-83-117-56z" fill="#4c66d6"/>
<path d="m6079 5363l117 72 62-91-117-64z" fill="#4a63d3"/>
<path d="m6196 5435l118 44 61-68-117-67z" fill="#485fd1"/>
<path d="m6314 5479l117 76 61-72-117-72z" fill="#455cce"/>
<path d="m6431 5555l118 67 61-72-118-67z" fill="#4257c9"/>
<path d="m2376 4100l110 58 66-106-110-54z" fill="#6384eb"/>
<path d="m2486 4158l110 28 67-47-111-87z" fill="#6282ea"/>
<path d="m2596 4186l111 82 66-119-110-10z" fill="#5f7fe8"/>
<path d="m2707 4268l110 79 66-117-110-81z" fill="#5d7ce6"/>
<path d="m2817 4347l111 25 66-103-111-39z" fill="#5a78e4"/>
<path d="m2928 4372l111 13 66-106-111-10z" fill="#5b7ae5"/>
<path d="m3039 4385l111 24 66-157-111 27z" fill="#5e7de7"/>
<path d="m3150 4409l112 5 65-116-111-46z" fill="#6180e9"/>
<path d="m3262 4414l111 0 66-28-112-88z" fill="#5f7fe8"/>
<path d="m3373 4414l112 40 66-65-112-3z" fill="#5f7fe8"/>
<path d="m3485 4454l113-4 65-71-112 10z" fill="#6282ea"/>
<path d="m3598 4450l113-299 65 277-113-49z" fill="#6c8ff1"/>
<path d="m3711 4151l116-520 64 421-115 376z" fill="#8fb1fe"/>
</g>
<g stroke-opacity="0.1">
<path d="m3827 3631l117-499 63 534-116 386z" fill="#bfd3f6"/>
<path d="m3944 3132l118-243 61 602-116 175z" fill="#dddcdc"/>
<path d="m4062 2889l116-9 60 604-115 7z" fill="#e7d7ce"/>
<path d="m4178 2880l114 301 60 535-114-232z" fill="#e0dbd8"/>
<path d="m4292 3181l112 468 59 441-111-374z" fill="#c7d7f0"/>
</g>
<g stroke-opacity="0.22">
<path d="m4404 3649l110 583 59 325-110-467z" fill="#9dbdff"/>
<path d="m4514 4232l109 462 64-41-114-96z" fill="#7699f6"/>
<path d="m4623 4694l115 83 64-68-115-56z" fill="#6788ee"/>
<path d="m4738 4777l115 45 64-64-115-49z" fill="#6485ec"/>
<path d="m4853 4822l116 46 64-67-116-43z" fill="#6384eb"/>
<path d="m4969 4868l115 89 63-58-114-98z" fill="#5f7fe8"/>
<path d="m5084 4957l116 44 63-42-116-60z" fill="#5b7ae5"/>
<path d="m5200 5001l117 27 63-43-117-26z" fill="#5b7ae5"/>
<path d="m5317 5028l116 69 63-70-116-42z" fill="#5b7ae5"/>
<path d="m5433 5097l117 61 62-68-116-63z" fill="#5977e3"/>
<path d="m5550 5158l115 97 63-80-116-85z" fill="#5572df"/>
<path d="m5665 5255l117 51 63-77-117-54z" fill="#516ddb"/>
<path d="m5782 5306l117 83 63-84-117-76z" fill="#4e68d8"/>
<path d="m5899 5389l117 71 63-97-117-58z" fill="#4a63d3"/>
<path d="m6016 5460l118 50 62-75-117-72z" fill="#485fd1"/>
<path d="m6134 5510l118 51 62-82-118-44z" fill="#465ecf"/>
<path d="m6252 5561l117 76 62-82-117-76z" fill="#445acc"/>
<path d="m6369 5637l119 53 61-68-118-67z" fill="#4055c8"/>
<path d="m2308 4108l110 88 68-38-110-58z" fill="#6384eb"/>
<path d="m2418 4196l111 95 67-105-110-28z" fill="#5f7fe8"/>
<path d="m2529 4291l111 76 67-99-111-82z" fill="#5b7ae5"/>
<path d="m2640 4367l111 52 66-72-110-79z" fill="#5875e1"/>
<path d="m2751 4419l111 49 66-96-111-25z" fill="#5673e0"/>
<path d="m2862 4468l111 23 66-106-111-13z" fill="#5673e0"/>
<path d="m2973 4491l111 24 66-106-111-24z" fill="#5875e1"/>
<path d="m3084 4515l112 57 66-158-112-5z" fill="#5977e3"/>
<path d="m3196 4572l112-6 65-152-111 0z" fill="#5a78e4"/>
<path d="m3308 4566l112-10 65-102-112-40z" fill="#5d7ce6"/>
<path d="m3420 4556l112 21 66-127-113 4z" fill="#5f7fe8"/>
<path d="m3532 4577l114-616 65 190-113 299z" fill="#7a9df8"/>
</g>
<g stroke-opacity="0.1">
<path d="m3646 3961l116-597 65 267-116 520z" fill="#b2ccfb"/>
<path d="m3762 3364l118-599 64 367-117 499z" fill="#e4d9d2"/>
<path d="m3880 2765l119-441 63 565-118 243z" fill="#f7b89c"/>
<path d="m3999 2324l117 12 62 544-116 9z" fill="#f6a385"/>
<path d="m4116 2336l115 388 61 457-114-301z" fill="#f7b194"/>
<path d="m4231 2724l111 634 62 291-112-468z" fill="#ecd3c5"/>
<path d="m4342 3358l110 642 62 232-110-583z" fill="#c1d4f4"/>
</g>
<g stroke-opacity="0.22">
<path d="m4452 4000l108 679 63 15-109-462z" fill="#89acfd"/>
<path d="m4560 4679l114 134 64-36-115-83z" fill="#6a8bef"/>
<path d="m4674 4813l116 59 63-50-115-45z" fill="#6485ec"/>
<path d="m4790 4872l115 61 64-65-116-46z" fill="#6384eb"/>
<path d="m4905 4933l116 37 63-13-115-89z" fill="#6180e9"/>
<path d="m5021 4970l116 68 63-37-116-44z" fill="#5e7de7"/>
<path d="m5137 5038l116 68 64-78-117-27z" fill="#5d7ce6"/>
<path d="m5253 5106l116 90 64-99-116-69z" fill="#5a78e4"/>
<path d="m5369 5196l117 47 64-85-117-61z" fill="#5673e0"/>
<path d="m5486 5243l117 68 62-56-115-97z" fill="#5470de"/>
<path d="m5603 5311l117 73 62-78-117-51z" fill="#506bda"/>
<path d="m5720 5384l117 71 62-66-117-83z" fill="#4c66d6"/>
<path d="m5837 5455l117 63 62-58-117-71z" fill="#4961d2"/>
<path d="m5954 5518l118 61 62-69-118-50z" fill="#465ecf"/>
<path d="m6072 5579l118 50 62-68-118-51z" fill="#455cce"/>
<path d="m6190 5629l118 58 61-50-117-76z" fill="#4358cb"/>
<path d="m6308 5687l118 65 62-62-119-53z" fill="#4055c8"/>
<path d="m2242 4263l109 11 67-78-110-88z" fill="#6282ea"/>
<path d="m2351 4274l111 45 67-28-111-95z" fill="#5f7fe8"/>
<path d="m2462 4319l111 81 67-33-111-76z" fill="#5b7ae5"/>
<path d="m2573 4400l111 117 67-98-111-52z" fill="#5673e0"/>
<path d="m2684 4517l112 74 66-123-111-49z" fill="#536edd"/>
<path d="m2796 4591l111 38 66-138-111-23z" fill="#516ddb"/>
<path d="m2907 4629l111 4 66-118-111-24z" fill="#516ddb"/>
<path d="m3018 4633l112 59 66-120-112-57z" fill="#516ddb"/>
<path d="m3130 4692l112 23 66-149-112 6z" fill="#516ddb"/>
<path d="m3242 4715l112-9 66-150-112 10z" fill="#5572df"/>
<path d="m3354 4706l112-92 66-37-112-21z" fill="#5a78e4"/>
<path d="m3466 4614l114-649 66-4-114 616z" fill="#80a3fa"/>
</g>
<g stroke-opacity="0.1">
<path d="m3580 3965l115-664 67 63-116 597z" fill="#c4d5f3"/>
<path d="m3695 3301l118-673 67 137-118 599z" fill="#f2c9b4"/>
<path d="m3813 2628l121-822 65 518-119 441z" fill="#ee8669"/>
<path d="m3934 1806l119-69 63 599-117-12z" fill="#d65244"/>
<path d="m4053 1737l113 775 65 212-115-388z" fill="#e8765c"/>
<path d="m4166 2512l112 726 64 120-111-634z" fill="#f7ba9f"/>
<path d="m4278 3238l110 698 64 64-110-642z" fill="#d6dce4"/>
</g>
<g stroke-opacity="0.22">
<path d="m4388 3936l108 713 64 30-108-679z" fill="#98b9ff"/>
<path d="m4496 4649l113 250 65-86-114-134z" fill="#6e90f2"/>
<path d="m4609 4899l116 45 65-72-116-59z" fill="#6485ec"/>
<path d="m4725 4944l116 47 64-58-115-61z" fill="#6384eb"/>
<path d="m4841 4991l116 62 64-83-116-37z" fill="#6180e9"/>
<path d="m4957 5053l117 42 63-57-116-68z" fill="#5f7fe8"/>
<path d="m5074 5095l116 82 63-71-116-68z" fill="#5d7ce6"/>
<path d="m5190 5177l116 56 63-37-116-90z" fill="#5977e3"/>
<path d="m5306 5233l117 84 63-74-117-47z" fill="#5572df"/>
<path d="m5423 5317l117 70 63-76-117-68z" fill="#536edd"/>
<path d="m5540 5387l117 58 63-61-117-73z" fill="#4f69d9"/>
<path d="m5657 5445l117 66 63-56-117-71z" fill="#4c66d6"/>
<path d="m5774 5511l117 79 63-72-117-63z" fill="#4961d2"/>
<path d="m5891 5590l118 58 63-69-118-61z" fill="#465ecf"/>
<path d="m6009 5648l119 45 62-64-118-50z" fill="#455cce"/>
<path d="m6128 5693l118 71 62-77-118-58z" fill="#4358cb"/>
<path d="m6246 5764l119 54 61-66-118-65z" fill="#4055c8"/>
<path d="m2172 4212l111 102 68-40-109-11z" fill="#6282ea"/>
<path d="m2283 4314l111 81 68-76-111-45z" fill="#5f7fe8"/>
<path d="m2394 4395l112 109 67-104-111-81z" fill="#5a78e4"/>
<path d="m2506 4504l111 60 67-47-111-117z" fill="#5572df"/>
<path d="m2617 4564l112 81 67-54-112-74z" fill="#506bda"/>
<path d="m2729 4645l111 64 67-80-111-38z" fill="#4c66d6"/>
<path d="m2840 4709l112 45 66-121-111-4z" fill="#4c66d6"/>
<path d="m2952 4754l112 50 66-112-112-59z" fill="#4c66d6"/>
<path d="m3064 4804l112 57 66-146-112-23z" fill="#4b64d5"/>
<path d="m3176 4861l112-1 66-154-112 9z" fill="#4c66d6"/>
<path d="m3288 4860l112-89 66-157-112 92z" fill="#5470de"/>
<path d="m3400 4771l113-636 67-170-114 649z" fill="#7da0f9"/>
</g>
<g stroke-opacity="0.1">
<path d="m3513 4135l115-657 67-177-115 664z" fill="#c3d5f4"/>
<path d="m3628 3478l117-695 68-155-118 673z" fill="#f3c8b2"/>
<path d="m3745 2783l120-538 69-439-121 822z" fill="#ea7b60"/>
<path d="m3865 2245l118-48 70-460-119 69z" fill="#cc403a"/>
<path d="m3983 2197l115 526 68-211-113-775z" fill="#e26952"/>
<path d="m4098 2723l113 662 67-147-112-726z" fill="#f7b599"/>
<path d="m4211 3385l111 679 66-128-110-698z" fill="#d8dce2"/>
</g>
<g stroke-opacity="0.22">
<path d="m4322 4064l109 703 65-118-108-713z" fill="#9bbcff"/>
<path d="m4431 4767l113 220 65-88-113-250z" fill="#6c8ff1"/>
<path d="m4544 4987l116 40 65-83-116-45z" fill="#6282ea"/>
<path d="m4660 5027l117 36 64-72-116-47z" fill="#6282ea"/>
<path d="m4777 5063l116 56 64-66-116-62z" fill="#6180e9"/>
<path d="m4893 5119l116 65 65-89-117-42z" fill="#5e7de7"/>
<path d="m5009 5184l117 65 64-72-116-82z" fill="#5b7ae5"/>
<path d="m5126 5249l116 75 64-91-116-56z" fill="#5875e1"/>
<path d="m5242 5324l117 67 64-74-117-84z" fill="#5572df"/>
<path d="m5359 5391l117 69 64-73-117-70z" fill="#516ddb"/>
<path d="m5476 5460l117 63 64-78-117-58z" fill="#4e68d8"/>
<path d="m5593 5523l118 57 63-69-117-66z" fill="#4b64d5"/>
<path d="m5711 5580l117 80 63-70-117-79z" fill="#4961d2"/>
<path d="m5828 5660l119 42 62-54-118-58z" fill="#465ecf"/>
<path d="m5947 5702l119 40 62-49-119-45z" fill="#455cce"/>
<path d="m6066 5742l118 93 62-71-118-71z" fill="#4358cb"/>
<path d="m6184 5835l119 40 62-57-119-54z" fill="#4055c8"/>
<path d="m2105 4331l110 57 68-74-111-102z" fill="#6384eb"/>
<path d="m2215 4388l112 93 67-86-111-81z" fill="#5e7de7"/>
<path d="m2327 4481l111 64 68-41-112-109z" fill="#5977e3"/>
<path d="m2438 4545l112 82 67-63-111-60z" fill="#5470de"/>
<path d="m2550 4627l111 85 68-67-112-81z" fill="#506bda"/>
<path d="m2661 4712l112 83 67-86-111-64z" fill="#4b64d5"/>
<path d="m2773 4795l112 62 67-103-112-45z" fill="#4961d2"/>
<path d="m2885 4857l112 68 67-121-112-50z" fill="#465ecf"/>
<path d="m2997 4925l112 49 67-113-112-57z" fill="#455cce"/>
<path d="m3109 4974l112-24 67-90-112 1z" fill="#465ecf"/>
<path d="m3221 4950l113-23 66-156-112 89z" fill="#4c66d6"/>
<path d="m3334 4927l112-490 67-302-113 636z" fill="#6e90f2"/>
</g>
<g stroke-opacity="0.1">
<path d="m3446 4437l115-614 67-345-115 657z" fill="#afcafc"/>
<path d="m3561 3823l116-524 68-516-117 695z" fill="#e7d7ce"/>
<path d="m3677 3299l118-371 70-683-120 538z" fill="#f7aa8c"/>
<path d="m3795 2928l117-33 71-698-118 48z" fill="#f08a6c"/>
<path d="m3912 2895l116 336 70-508-115-526z" fill="#f59d7e"/>
<path d="m4028 3231l114 517 69-363-113-662z" fill="#f2cab5"/>
<path d="m4142 3748l111 619 69-303-111-679z" fill="#cad8ef"/>
</g>
<g stroke-opacity="0.22">
<path d="m4253 4367l111 635 67-235-109-703z" fill="#8caffe"/>
<path d="m4364 5002l115 55 65-70-113-220z" fill="#6687ed"/>
<path d="m4479 5057l116 54 65-84-116-40z" fill="#6180e9"/>
<path d="m4595 5111l117 50 65-98-117-36z" fill="#5f7fe8"/>
<path d="m4712 5161l116 62 65-104-116-56z" fill="#5e7de7"/>
<path d="m4828 5223l116 55 65-94-116-65z" fill="#5b7ae5"/>
<path d="m4944 5278l117 73 65-102-117-65z" fill="#5977e3"/>
<path d="m5061 5351l117 60 64-87-116-75z" fill="#5572df"/>
<path d="m5178 5411l117 58 64-78-117-67z" fill="#536edd"/>
<path d="m5295 5469l117 62 64-71-117-69z" fill="#506bda"/>
<path d="m5412 5531l118 58 63-66-117-63z" fill="#4e68d8"/>
<path d="m5530 5589l118 76 63-85-118-57z" fill="#4a63d3"/>
<path d="m5648 5665l118 44 62-49-117-80z" fill="#485fd1"/>
<path d="m5766 5709l118 58 63-65-119-42z" fill="#465ecf"/>
<path d="m5884 5767l119 56 63-81-119-40z" fill="#455cce"/>
<path d="m6003 5823l119 67 62-55-118-93z" fill="#4358cb"/>
<path d="m6122 5890l118 78 63-93-119-40z" fill="#3f53c6"/>
<path d="m2035 4310l111 74 69 4-110-57z" fill="#6485ec"/>
<path d="m2146 4384l112 122 69-25-112-93z" fill="#5f7fe8"/>
<path d="m2258 4506l112 88 68-49-111-64z" fill="#5977e3"/>
<path d="m2370 4594l112 77 68-44-112-82z" fill="#5572df"/>
<path d="m2482 4671l112 100 67-59-111-85z" fill="#506bda"/>
<path d="m2594 4771l112 88 67-64-112-83z" fill="#4b64d5"/>
<path d="m2706 4859l112 79 67-81-112-62z" fill="#465ecf"/>
<path d="m2818 4938l112 82 67-95-112-68z" fill="#4358cb"/>
<path d="m2930 5020l113 34 66-80-112-49z" fill="#4055c8"/>
<path d="m3043 5054l112 7 66-111-112 24z" fill="#4358cb"/>
<path d="m3155 5061l112-42 67-92-113 23z" fill="#485fd1"/>
<path d="m3267 5019l113-153 66-429-112 490z" fill="#5b7ae5"/>
<path d="m3380 4866l114-531 67-512-115 614z" fill="#8db0fe"/>
</g>
<g stroke-opacity="0.1">
<path d="m3494 4335l115-472 68-564-116 524z" fill="#c6d6f1"/>
<path d="m3609 3863l116-247 70-688-118 371z" fill="#e8d6cc"/>
<path d="m3725 3616l117-13 70-708-117 33z" fill="#f2cab5"/>
<path d="m3842 3603l116 262 70-634-116-336z" fill="#edd1c2"/>
<path d="m3958 3865l114 418 70-535-114-517z" fill="#d5dbe5"/>
<path d="m4072 4283l112 536 69-452-111-619z" fill="#a9c6fd"/>
</g>
<g stroke-opacity="0.22">
<path d="m4184 4819l114 275 66-92-111-635z" fill="#7699f6"/>
<path d="m4298 5094l116 34 65-71-115-55z" fill="#6180e9"/>
<path d="m4414 5128l116 61 65-78-116-54z" fill="#5f7fe8"/>
<path d="m4530 5189l116 49 66-77-117-50z" fill="#5d7ce6"/>
<path d="m4646 5238l117 75 65-90-116-62z" fill="#5a78e4"/>
<path d="m4763 5313l117 50 64-85-116-55z" fill="#5875e1"/>
<path d="m4880 5363l116 65 65-77-117-73z" fill="#5673e0"/>
<path d="m4996 5428l117 59 65-76-117-60z" fill="#536edd"/>
<path d="m5113 5487l118 62 64-80-117-58z" fill="#506bda"/>
<path d="m5231 5549l118 47 63-65-117-62z" fill="#4f69d9"/>
<path d="m5349 5596l118 45 63-52-118-58z" fill="#4c66d6"/>
<path d="m5467 5641l118 72 63-48-118-76z" fill="#4a63d3"/>
<path d="m5585 5713l118 56 63-60-118-44z" fill="#485fd1"/>
<path d="m5703 5769l119 53 62-55-118-58z" fill="#465ecf"/>
<path d="m5822 5822l118 68 63-67-119-56z" fill="#445acc"/>
<path d="m5940 5890l119 55 63-55-119-67z" fill="#4257c9"/>
<path d="m6059 5945l119 83 62-60-118-78z" fill="#3f53c6"/>
<path d="m1967 4420l111 47 68-83-111-74z" fill="#6687ed"/>
<path d="m2078 4467l112 85 68-46-112-122z" fill="#6282ea"/>
<path d="m2190 4552l112 85 68-43-112-88z" fill="#5b7ae5"/>
<path d="m2302 4637l112 87 68-53-112-77z" fill="#5673e0"/>
<path d="m2414 4724l112 98 68-51-112-100z" fill="#506bda"/>
<path d="m2526 4822l112 70 68-33-112-88z" fill="#4b64d5"/>
<path d="m2638 4892l113 98 67-52-112-79z" fill="#465ecf"/>
<path d="m2751 4990l112 72 67-42-112-82z" fill="#4257c9"/>
<path d="m2863 5062l112 45 68-53-113-34z" fill="#4055c8"/>
<path d="m2975 5107l113-11 67-35-112-7z" fill="#4257c9"/>
<path d="m3088 5096l112-22 67-55-112 42z" fill="#465ecf"/>
<path d="m3200 5074l114-54 66-154-113 153z" fill="#506bda"/>
<path d="m3314 5020l113-155 67-530-114 531z" fill="#688aef"/>
<path d="m3427 4865l114-359 68-643-115 472z" fill="#94b6ff"/>
</g>
<g stroke-opacity="0.1">
<path d="m3541 4506l116-183 68-707-116 247z" fill="#b7cff9"/>
<path d="m3657 4323l116-18 69-702-117 13z" fill="#c5d6f2"/>
<path d="m3773 4305l115 213 70-653-116-262z" fill="#bed2f6"/>
<path d="m3888 4518l114 360 70-595-114-418z" fill="#a2c1ff"/>
</g>
<g stroke-opacity="0.22">
<path d="m4002 4878l115 213 67-272-112-536z" fill="#7ea1fa"/>
<path d="m4117 5091l115 65 66-62-114-275z" fill="#6687ed"/>
<path d="m4232 5156l116 49 66-77-116-34z" fill="#5f7fe8"/>
<path d="m4348 5205l117 49 65-65-116-61z" fill="#5e7de7"/>
<path d="m4465 5254l116 50 65-66-116-49z" fill="#5b7ae5"/>
<path d="m4581 5304l117 74 65-65-117-75z" fill="#5977e3"/>
<path d="m4698 5378l116 88 66-103-117-50z" fill="#5673e0"/>
<path d="m4814 5466l117 54 65-92-116-65z" fill="#536edd"/>
<path d="m4931 5520l117 65 65-98-117-59z" fill="#506bda"/>
<path d="m5048 5585l118 37 65-73-118-62z" fill="#4f69d9"/>
<path d="m5166 5622l119 38 64-64-118-47z" fill="#4e68d8"/>
<path d="m5285 5660l118 59 64-78-118-45z" fill="#4c66d6"/>
<path d="m5403 5719l118 44 64-50-118-72z" fill="#4b64d5"/>
<path d="m5521 5763l118 79 64-73-118-56z" fill="#4961d2"/>
<path d="m5639 5842l119 45 64-65-119-53z" fill="#465ecf"/>
<path d="m5758 5887l120 56 62-53-118-68z" fill="#455cce"/>
<path d="m5878 5943l119 64 62-62-119-55z" fill="#4358cb"/>
<path d="m5997 6007l119 72 62-51-119-83z" fill="#3f53c6"/>
<path d="m1896 4400l113 100 69-33-111-47z" fill="#6788ee"/>
<path d="m2009 4500l112 100 69-48-112-85z" fill="#6282ea"/>
<path d="m2121 4600l112 76 69-39-112-85z" fill="#5d7ce6"/>
<path d="m2233 4676l112 103 69-55-112-87z" fill="#5875e1"/>
<path d="m2345 4779l112 77 69-34-112-98z" fill="#516ddb"/>
<path d="m2457 4856l113 85 68-49-112-70z" fill="#4c66d6"/>
<path d="m2570 4941l112 73 69-24-113-98z" fill="#4961d2"/>
<path d="m2682 5014l113 69 68-21-112-72z" fill="#445acc"/>
<path d="m2795 5083l113 40 67-16-112-45z" fill="#4358cb"/>
<path d="m2908 5123l112-15 68-12-113 11z" fill="#445acc"/>
<path d="m3020 5108l113-5 67-29-112 22z" fill="#4961d2"/>
<path d="m3133 5103l113-39 68-44-114 54z" fill="#4f69d9"/>
<path d="m3246 5064l114-64 67-135-113 155z" fill="#5977e3"/>
<path d="m3360 5000l114-51 67-443-114 359z" fill="#6c8ff1"/>
<path d="m3474 4949l115-16 68-610-116 183z" fill="#80a3fa"/>
<path d="m3589 4933l115 28 69-656-116 18z" fill="#88abfd"/>
<path d="m3704 4961l116 35 68-478-115-213z" fill="#85a8fc"/>
<path d="m3820 4996l115 80 67-198-114-360z" fill="#779af7"/>
<path d="m3935 5076l116 78 66-63-115-213z" fill="#6788ee"/>
<path d="m4051 5154l115 62 66-60-115-65z" fill="#6180e9"/>
<path d="m4166 5216l117 58 65-69-116-49z" fill="#5e7de7"/>
<path d="m4283 5274l116 38 66-58-117-49z" fill="#5d7ce6"/>
<path d="m4399 5312l117 63 65-71-116-50z" fill="#5b7ae5"/>
<path d="m4516 5375l116 79 66-76-117-74z" fill="#5977e3"/>
<path d="m4632 5454l117 80 65-68-116-88z" fill="#5470de"/>
<path d="m4749 5534l117 86 65-100-117-54z" fill="#506bda"/>
<path d="m4866 5620l118 43 64-78-117-65z" fill="#4e68d8"/>
<path d="m4984 5663l118 41 64-82-118-37z" fill="#4c66d6"/>
<path d="m5102 5704l118 39 65-83-119-38z" fill="#4c66d6"/>
<path d="m5220 5743l118 59 65-83-118-59z" fill="#4b64d5"/>
<path d="m5338 5802l119 49 64-88-118-44z" fill="#4a63d3"/>
<path d="m5457 5851l119 56 63-65-118-79z" fill="#485fd1"/>
<path d="m5576 5907l119 48 63-68-119-45z" fill="#465ecf"/>
<path d="m5695 5955l119 52 64-64-120-56z" fill="#455cce"/>
<path d="m5814 6007l118 99 65-99-119-64z" fill="#4257c9"/>
<path d="m5932 6106l120 54 64-81-119-72z" fill="#3f53c6"/>
<path d="m1829 4558l111 46 69-104-113-100z" fill="#6687ed"/>
<path d="m1940 4604l112 67 69-71-112-100z" fill="#6180e9"/>
<path d="m2052 4671l112 67 69-62-112-76z" fill="#5d7ce6"/>
<path d="m2164 4738l112 87 69-46-112-103z" fill="#5875e1"/>
<path d="m2276 4825l113 77 68-46-112-77z" fill="#536edd"/>
<path d="m2389 4902l113 87 68-48-113-85z" fill="#4f69d9"/>
<path d="m2502 4989l112 65 68-40-112-73z" fill="#4a63d3"/>
<path d="m2614 5054l113 43 68-14-113-69z" fill="#485fd1"/>
<path d="m2727 5097l113 36 68-10-113-40z" fill="#465ecf"/>
<path d="m2840 5133l113 26 67-51-112 15z" fill="#485fd1"/>
<path d="m2953 5159l112-40 68-16-113 5z" fill="#4b64d5"/>
<path d="m3065 5119l114-24 67-31-113 39z" fill="#516ddb"/>
<path d="m3179 5095l114-34 67-61-114 64z" fill="#5977e3"/>
<path d="m3293 5061l114-50 67-62-114 51z" fill="#6180e9"/>
<path d="m3407 5011l115 5 67-83-115 16z" fill="#6788ee"/>
<path d="m3522 5016l115 16 67-71-115-28z" fill="#6a8bef"/>
<path d="m3637 5032l116 39 67-75-116-35z" fill="#6a8bef"/>
<path d="m3753 5071l115 78 67-73-115-80z" fill="#688aef"/>
<path d="m3868 5149l116 90 67-85-116-78z" fill="#6384eb"/>
<path d="m3984 5239l116 51 66-74-115-62z" fill="#5f7fe8"/>
<path d="m4100 5290l117 54 66-70-117-58z" fill="#5e7de7"/>
<path d="m4217 5344l116 45 66-77-116-38z" fill="#5d7ce6"/>
<path d="m4333 5389l117 72 66-86-117-63z" fill="#5a78e4"/>
<path d="m4450 5461l117 74 65-81-116-79z" fill="#5875e1"/>
<path d="m4567 5535l117 79 65-80-117-80z" fill="#536edd"/>
<path d="m4684 5614l117 74 65-68-117-86z" fill="#4f69d9"/>
<path d="m4801 5688l118 44 65-69-118-43z" fill="#4c66d6"/>
<path d="m4919 5732l118 32 65-60-118-41z" fill="#4c66d6"/>
<path d="m5037 5764l118 53 65-74-118-39z" fill="#4b64d5"/>
<path d="m5155 5817l119 46 64-61-118-59z" fill="#4a63d3"/>
<path d="m5274 5863l118 75 65-87-119-49z" fill="#4961d2"/>
<path d="m5392 5938l119 48 65-79-119-56z" fill="#465ecf"/>
<path d="m5511 5986l120 53 64-84-119-48z" fill="#455cce"/>
<path d="m5631 6039l119 63 64-95-119-52z" fill="#445acc"/>
<path d="m5750 6102l119 64 63-60-118-99z" fill="#4055c8"/>
<path d="m5869 6166l120 62 63-68-120-54z" fill="#3e51c5"/>
<path d="m1759 4579l111 74 70-49-111-46z" fill="#6384eb"/>
<path d="m1870 4653l112 66 70-48-112-67z" fill="#6180e9"/>
<path d="m1982 4719l113 79 69-60-112-67z" fill="#5d7ce6"/>
<path d="m2095 4798l113 92 68-65-112-87z" fill="#5875e1"/>
<path d="m2208 4890l112 85 69-73-113-77z" fill="#536edd"/>
<path d="m2320 4975l113 62 69-48-113-87z" fill="#4f69d9"/>
<path d="m2433 5037l113 56 68-39-112-65z" fill="#4b64d5"/>
<path d="m2546 5093l113 60 68-56-113-43z" fill="#4a63d3"/>
<path d="m2659 5153l112 25 69-45-113-36z" fill="#4961d2"/>
<path d="m2771 5178l113 13 69-32-113-26z" fill="#4a63d3"/>
<path d="m2884 5191l114-9 67-63-112 40z" fill="#4e68d8"/>
<path d="m2998 5182l113-20 68-67-114 24z" fill="#536edd"/>
<path d="m3111 5162l114-28 68-73-114 34z" fill="#5977e3"/>
<path d="m3225 5134l115-15 67-108-114 50z" fill="#5f7fe8"/>
<path d="m3340 5119l115 9 67-112-115-5z" fill="#6485ec"/>
<path d="m3455 5128l115 11 67-107-115-16z" fill="#6687ed"/>
<path d="m3570 5139l116 27 67-95-116-39z" fill="#6788ee"/>
<path d="m3686 5166l115 73 67-90-115-78z" fill="#6687ed"/>
<path d="m3801 5239l116 69 67-69-116-90z" fill="#6282ea"/>
<path d="m3917 5308l117 63 66-81-116-51z" fill="#5e7de7"/>
<path d="m4034 5371l116 58 67-85-117-54z" fill="#5d7ce6"/>
<path d="m4150 5429l117 69 66-109-116-45z" fill="#5a78e4"/>
<path d="m4267 5498l117 52 66-89-117-72z" fill="#5875e1"/>
<path d="m4384 5550l117 74 66-89-117-74z" fill="#5572df"/>
<path d="m4501 5624l117 59 66-69-117-79z" fill="#516ddb"/>
<path d="m4618 5683l117 65 66-60-117-74z" fill="#4e68d8"/>
<path d="m4735 5748l119 33 65-49-118-44z" fill="#4c66d6"/>
<path d="m4854 5781l118 37 65-54-118-32z" fill="#4c66d6"/>
<path d="m4972 5818l119 49 64-50-118-53z" fill="#4b64d5"/>
<path d="m5091 5867l118 59 65-63-119-46z" fill="#4a63d3"/>
<path d="m5209 5926l119 66 64-54-118-75z" fill="#485fd1"/>
<path d="m5328 5992l119 68 64-74-119-48z" fill="#455cce"/>
<path d="m5447 6060l119 47 65-68-120-53z" fill="#445acc"/>
<path d="m5566 6107l120 75 64-80-119-63z" fill="#4257c9"/>
<path d="m5686 6182l120 51 63-67-119-64z" fill="#3f53c6"/>
<path d="m5806 6233l120 52 63-57-120-62z" fill="#3e51c5"/>
<path d="m1690 4703l112 53 68-103-111-74z" fill="#6282ea"/>
<path d="m1802 4756l112 72 68-109-112-66z" fill="#5e7de7"/>
<path d="m1914 4828l112 74 69-104-113-79z" fill="#5a78e4"/>
<path d="m2026 4902l112 51 70-63-113-92z" fill="#5673e0"/>
<path d="m2138 4953l113 69 69-47-112-85z" fill="#536edd"/>
<path d="m2251 5022l113 59 69-44-113-62z" fill="#4f69d9"/>
<path d="m2364 5081l113 82 69-70-113-56z" fill="#4c66d6"/>
<path d="m2477 5163l113 21 69-31-113-60z" fill="#4b64d5"/>
<path d="m2590 5184l113 38 68-44-112-25z" fill="#4a63d3"/>
<path d="m2703 5222l113 8 68-39-113-13z" fill="#4c66d6"/>
<path d="m2816 5230l114 9 68-57-114 9z" fill="#4f69d9"/>
<path d="m2930 5239l113-5 68-72-113 20z" fill="#536edd"/>
<path d="m3043 5234l115-2 67-98-114 28z" fill="#5875e1"/>
<path d="m3158 5232l114 18 68-131-115 15z" fill="#5b7ae5"/>
<path d="m3272 5250l115 7 68-129-115-9z" fill="#5e7de7"/>
<path d="m3387 5257l115 21 68-139-115-11z" fill="#6180e9"/>
<path d="m3502 5278l116 29 68-141-116-27z" fill="#6282ea"/>
<path d="m3618 5307l116 43 67-111-115-73z" fill="#6180e9"/>
<path d="m3734 5350l116 63 67-105-116-69z" fill="#5e7de7"/>
<path d="m3850 5413l117 68 67-110-117-63z" fill="#5b7ae5"/>
<path d="m3967 5481l116 58 67-110-116-58z" fill="#5977e3"/>
<path d="m4083 5539l117 70 67-111-117-69z" fill="#5673e0"/>
<path d="m4200 5609l117 52 67-111-117-52z" fill="#5470de"/>
<path d="m4317 5661l117 44 67-81-117-74z" fill="#516ddb"/>
<path d="m4434 5705l118 43 66-65-117-59z" fill="#506bda"/>
<path d="m4552 5748l118 50 65-50-117-65z" fill="#4f69d9"/>
<path d="m4670 5798l118 35 66-52-119-33z" fill="#4e68d8"/>
<path d="m4788 5833l119 37 65-52-118-37z" fill="#4e68d8"/>
<path d="m4907 5870l119 62 65-65-119-49z" fill="#4c66d6"/>
<path d="m5026 5932l118 61 65-67-118-59z" fill="#4a63d3"/>
<path d="m5144 5993l119 81 65-82-119-66z" fill="#485fd1"/>
<path d="m5263 6074l119 50 65-64-119-68z" fill="#455cce"/>
<path d="m5382 6124l120 51 64-68-119-47z" fill="#445acc"/>
<path d="m5502 6175l119 70 65-63-120-75z" fill="#4257c9"/>
<path d="m5621 6245l120 64 65-76-120-51z" fill="#3f53c6"/>
<path d="m5741 6309l121 54 64-78-120-52z" fill="#3d50c3"/>
<path d="m1619 4718l112 86 71-48-112-53z" fill="#6180e9"/>
<path d="m1731 4804l113 80 70-56-112-72z" fill="#5d7ce6"/>
<path d="m1844 4884l113 75 69-57-112-74z" fill="#5977e3"/>
<path d="m1957 4959l112 61 69-67-112-51z" fill="#5572df"/>
<path d="m2069 5020l113 63 69-61-113-69z" fill="#536edd"/>
<path d="m2182 5083l113 67 69-69-113-59z" fill="#506bda"/>
<path d="m2295 5150l113 46 69-33-113-82z" fill="#4e68d8"/>
<path d="m2408 5196l113 41 69-53-113-21z" fill="#4c66d6"/>
<path d="m2521 5237l113 32 69-47-113-38z" fill="#4c66d6"/>
<path d="m2634 5269l113 11 69-50-113-8z" fill="#4e68d8"/>
<path d="m2747 5280l114 15 69-56-114-9z" fill="#506bda"/>
<path d="m2861 5295l114 20 68-81-113 5z" fill="#516ddb"/>
<path d="m2975 5315l115 33 68-116-115 2z" fill="#5470de"/>
<path d="m3090 5348l114 22 68-120-114-18z" fill="#5673e0"/>
<path d="m3204 5370l115 16 68-129-115-7z" fill="#5875e1"/>
<path d="m3319 5386l116 20 67-128-115-21z" fill="#5977e3"/>
<path d="m3435 5406l116 16 67-115-116-29z" fill="#5b7ae5"/>
<path d="m3551 5422l116 39 67-111-116-43z" fill="#5b7ae5"/>
<path d="m3667 5461l116 65 67-113-116-63z" fill="#5a78e4"/>
<path d="m3783 5526l116 61 68-106-117-68z" fill="#5673e0"/>
<path d="m3899 5587l117 61 67-109-116-58z" fill="#5470de"/>
<path d="m4016 5648l117 33 67-72-117-70z" fill="#536edd"/>
<path d="m4133 5681l118 45 66-65-117-52z" fill="#516ddb"/>
<path d="m4251 5726l117 50 66-71-117-44z" fill="#506bda"/>
<path d="m4368 5776l118 47 66-75-118-43z" fill="#4f69d9"/>
<path d="m4486 5823l118 46 66-71-118-50z" fill="#4e68d8"/>
<path d="m4604 5869l119 38 65-74-118-35z" fill="#4e68d8"/>
<path d="m4723 5907l118 38 66-75-119-37z" fill="#4e68d8"/>
<path d="m4841 5945l119 58 66-71-119-62z" fill="#4c66d6"/>
<path d="m4960 6003l119 60 65-70-118-61z" fill="#4a63d3"/>
<path d="m5079 6063l119 61 65-50-119-81z" fill="#485fd1"/>
<path d="m5198 6124l120 62 64-62-119-50z" fill="#455cce"/>
<path d="m5318 6186l119 62 65-73-120-51z" fill="#4358cb"/>
<path d="m5437 6248l121 42 63-45-119-70z" fill="#4257c9"/>
<path d="m5558 6290l120 66 63-47-120-64z" fill="#3f53c6"/>
<path d="m5678 6356l120 64 64-57-121-54z" fill="#3d50c3"/>
<path d="m1550 4846l112 50 69-92-112-86z" fill="#5f7fe8"/>
<path d="m1662 4896l112 65 70-77-113-80z" fill="#5b7ae5"/>
<path d="m1774 4961l113 56 70-58-113-75z" fill="#5875e1"/>
<path d="m1887 5017l112 69 70-66-112-61z" fill="#5572df"/>
<path d="m1999 5086l113 68 70-71-113-63z" fill="#536edd"/>
<path d="m2112 5154l113 39 70-43-113-67z" fill="#506bda"/>
<path d="m2225 5193l113 58 70-55-113-46z" fill="#4e68d8"/>
<path d="m2338 5251l114 38 69-52-113-41z" fill="#4e68d8"/>
<path d="m2452 5289l113 25 69-45-113-32z" fill="#4e68d8"/>
<path d="m2565 5314l114 31 68-65-113-11z" fill="#4e68d8"/>
<path d="m2679 5345l114 23 68-73-114-15z" fill="#4f69d9"/>
<path d="m2793 5368l114 39 68-92-114-20z" fill="#506bda"/>
<path d="m2907 5407l114 31 69-90-115-33z" fill="#516ddb"/>
<path d="m3021 5438l115 36 68-104-114-22z" fill="#516ddb"/>
<path d="m3136 5474l116 25 67-113-115-16z" fill="#536edd"/>
<path d="m3252 5499l115 15 68-108-116-20z" fill="#5470de"/>
<path d="m3367 5514l116 30 68-122-116-16z" fill="#5572df"/>
<path d="m3483 5544l116 37 68-120-116-39z" fill="#5673e0"/>
<path d="m3599 5581l116 51 68-106-116-65z" fill="#5572df"/>
<path d="m3715 5632l117 62 67-107-116-61z" fill="#536edd"/>
<path d="m3832 5694l117 35 67-81-117-61z" fill="#506bda"/>
<path d="m3949 5729l117 26 67-74-117-33z" fill="#506bda"/>
<path d="m4066 5755l118 23 67-52-118-45z" fill="#506bda"/>
<path d="m4184 5778l118 48 66-50-117-50z" fill="#506bda"/>
<path d="m4302 5826l117 65 67-68-118-47z" fill="#4f69d9"/>
<path d="m4419 5891l119 45 66-67-118-46z" fill="#4e68d8"/>
<path d="m4538 5936l118 41 67-70-119-38z" fill="#4c66d6"/>
<path d="m4656 5977l119 59 66-91-118-38z" fill="#4c66d6"/>
<path d="m4775 6036l119 40 66-73-119-58z" fill="#4b64d5"/>
<path d="m4894 6076l120 56 65-69-119-60z" fill="#4a63d3"/>
<path d="m5014 6132l119 75 65-83-119-61z" fill="#485fd1"/>
<path d="m5133 6207l119 62 66-83-120-62z" fill="#445acc"/>
<path d="m5252 6269l120 58 65-79-119-62z" fill="#4358cb"/>
<path d="m5372 6327l120 62 66-99-121-42z" fill="#4055c8"/>
<path d="m5492 6389l121 48 65-81-120-66z" fill="#3f53c6"/>
<path d="m5613 6437l120 58 65-75-120-64z" fill="#3d50c3"/>
<path d="m1478 4845l113 99 71-48-112-50z" fill="#5e7de7"/>
<path d="m1591 4944l113 68 70-51-112-65z" fill="#5b7ae5"/>
<path d="m1704 5012l112 65 71-60-113-56z" fill="#5875e1"/>
<path d="m1816 5077l113 59 70-50-112-69z" fill="#5572df"/>
<path d="m1929 5136l113 69 70-51-113-68z" fill="#536edd"/>
<path d="m2042 5205l113 53 70-65-113-39z" fill="#506bda"/>
<path d="m2155 5258l114 52 69-59-113-58z" fill="#4f69d9"/>
<path d="m2269 5310l113 28 70-49-114-38z" fill="#4e68d8"/>
<path d="m2382 5338l114 31 69-55-113-25z" fill="#4e68d8"/>
<path d="m2496 5369l113 36 70-60-114-31z" fill="#4f69d9"/>
<path d="m2609 5405l115 51 69-88-114-23z" fill="#4f69d9"/>
<path d="m2724 5456l114 32 69-81-114-39z" fill="#4f69d9"/>
<path d="m2838 5488l115 44 68-94-114-31z" fill="#4f69d9"/>
<path d="m2953 5532l115 31 68-89-115-36z" fill="#4f69d9"/>
<path d="m3068 5563l115 31 69-95-116-25z" fill="#4f69d9"/>
<path d="m3183 5594l116 23 68-103-115-15z" fill="#506bda"/>
<path d="m3299 5617l116 17 68-90-116-30z" fill="#516ddb"/>
<path d="m3415 5634l116 40 68-93-116-37z" fill="#516ddb"/>
<path d="m3531 5674l117 53 67-95-116-51z" fill="#516ddb"/>
<path d="m3648 5727l116 41 68-74-117-62z" fill="#4f69d9"/>
<path d="m3764 5768l118 26 67-65-117-35z" fill="#4f69d9"/>
<path d="m3882 5794l117 12 67-51-117-26z" fill="#506bda"/>
<path d="m3999 5806l118 20 67-48-118-23z" fill="#516ddb"/>
<path d="m4117 5826l118 28 67-28-118-48z" fill="#516ddb"/>
<path d="m4235 5854l118 68 66-31-117-65z" fill="#506bda"/>
<path d="m4353 5922l118 75 67-61-119-45z" fill="#4e68d8"/>
<path d="m4471 5997l119 68 66-88-118-41z" fill="#4c66d6"/>
<path d="m4590 6065l119 41 66-70-119-59z" fill="#4b64d5"/>
<path d="m4709 6106l119 42 66-72-119-40z" fill="#4a63d3"/>
<path d="m4828 6148l120 55 66-71-120-56z" fill="#4961d2"/>
<path d="m4948 6203l119 75 66-71-119-75z" fill="#465ecf"/>
<path d="m5067 6278l120 59 65-68-119-62z" fill="#445acc"/>
<path d="m5187 6337l120 67 65-77-120-58z" fill="#4257c9"/>
<path d="m5307 6404l120 59 65-74-120-62z" fill="#3f53c6"/>
<path d="m5427 6463l120 66 66-92-121-48z" fill="#3d50c3"/>
<path d="m5547 6529l121 50 65-84-120-58z" fill="#3c4ec2"/>
<path d="m1409 4988l112 45 70-89-113-99z" fill="#5e7de7"/>
<path d="m1521 5033l113 76 70-97-113-68z" fill="#5a78e4"/>
<path d="m1634 5109l112 43 70-75-112-65z" fill="#5673e0"/>
<path d="m1746 5152l113 58 70-74-113-59z" fill="#5572df"/>
<path d="m1859 5210l113 62 70-67-113-69z" fill="#536edd"/>
<path d="m1972 5272l113 48 70-62-113-53z" fill="#506bda"/>
<path d="m2085 5320l114 42 70-52-114-52z" fill="#4f69d9"/>
<path d="m2199 5362l113 31 70-55-113-28z" fill="#4f69d9"/>
<path d="m2312 5393l114 49 70-73-114-31z" fill="#4f69d9"/>
<path d="m2426 5442l114 35 69-72-113-36z" fill="#4e68d8"/>
<path d="m2540 5477l115 52 69-73-115-51z" fill="#4e68d8"/>
<path d="m2655 5529l114 41 69-82-114-32z" fill="#4c66d6"/>
<path d="m2769 5570l115 52 69-90-115-44z" fill="#4c66d6"/>
<path d="m2884 5622l115 9 69-68-115-31z" fill="#4c66d6"/>
<path d="m2999 5631l116 35 68-72-115-31z" fill="#4c66d6"/>
<path d="m3115 5666l116 18 68-67-116-23z" fill="#4e68d8"/>
<path d="m3231 5684l116 38 68-88-116-17z" fill="#4f69d9"/>
<path d="m3347 5722l116 34 68-82-116-40z" fill="#4f69d9"/>
<path d="m3463 5756l117 47 68-76-117-53z" fill="#4f69d9"/>
<path d="m3580 5803l117 46 67-81-116-41z" fill="#4e68d8"/>
<path d="m3697 5849l117 14 68-69-118-26z" fill="#4e68d8"/>
<path d="m3814 5863l118-24 67-33-117-12z" fill="#506bda"/>
<path d="m3932 5839l118 3 67-16-118-20z" fill="#5470de"/>
<path d="m4050 5842l118 40 67-28-118-28z" fill="#5572df"/>
<path d="m4168 5882l119 67 66-27-118-68z" fill="#5470de"/>
<path d="m4287 5949l118 100 66-52-118-75z" fill="#506bda"/>
<path d="m4405 6049l118 74 67-58-119-68z" fill="#4c66d6"/>
<path d="m4523 6123l119 55 67-72-119-41z" fill="#4a63d3"/>
<path d="m4642 6178l120 38 66-68-119-42z" fill="#4961d2"/>
<path d="m4762 6216l120 57 66-70-120-55z" fill="#4961d2"/>
<path d="m4882 6273l119 83 66-78-119-75z" fill="#455cce"/>
<path d="m5001 6356l120 58 66-77-120-59z" fill="#4358cb"/>
<path d="m5121 6414l120 56 66-66-120-67z" fill="#4055c8"/>
<path d="m5241 6470l121 45 65-52-120-59z" fill="#3f53c6"/>
<path d="m5362 6515l120 76 65-62-120-66z" fill="#3d50c3"/>
<path d="m5482 6591l122 40 64-52-121-50z" fill="#3b4cc0"/>
<path d="m1336 4999l113 89 72-55-112-45z" fill="#5b7ae5"/>
<path d="m1449 5088l114 84 71-63-113-76z" fill="#5875e1"/>
<path d="m1563 5172l113 57 70-77-112-43z" fill="#5572df"/>
<path d="m1676 5229l113 54 70-73-113-58z" fill="#5470de"/>
<path d="m1789 5283l113 49 70-60-113-62z" fill="#516ddb"/>
<path d="m1902 5332l113 38 70-50-113-48z" fill="#506bda"/>
<path d="m2015 5370l113 48 71-56-114-42z" fill="#4f69d9"/>
<path d="m2128 5418l114 32 70-57-113-31z" fill="#4f69d9"/>
<path d="m2242 5450l114 54 70-62-114-49z" fill="#4f69d9"/>
<path d="m2356 5504l115 43 69-70-114-35z" fill="#4e68d8"/>
<path d="m2471 5547l114 61 70-79-115-52z" fill="#4c66d6"/>
<path d="m2585 5608l115 52 69-90-114-41z" fill="#4b64d5"/>
<path d="m2700 5660l115 28 69-66-115-52z" fill="#4a63d3"/>
<path d="m2815 5688l115 20 69-77-115-9z" fill="#4b64d5"/>
<path d="m2930 5708l116 5 69-47-116-35z" fill="#4c66d6"/>
<path d="m3046 5713l116 37 69-66-116-18z" fill="#4e68d8"/>
<path d="m3162 5750l116 34 69-62-116-38z" fill="#4e68d8"/>
<path d="m3278 5784l117 39 68-67-116-34z" fill="#4e68d8"/>
<path d="m3395 5823l116 44 69-64-117-47z" fill="#4e68d8"/>
<path d="m3511 5867l118 37 68-55-117-46z" fill="#4c66d6"/>
<path d="m3629 5904l117 6 68-47-117-14z" fill="#4e68d8"/>
<path d="m3746 5910l118-35 68-36-118 24z" fill="#536edd"/>
<path d="m3864 5875l118 3 68-36-118-3z" fill="#5673e0"/>
<path d="m3982 5878l119 20 67-16-118-40z" fill="#5977e3"/>
<path d="m4101 5898l119 91 67-40-119-67z" fill="#5875e1"/>
<path d="m4220 5989l118 113 67-53-118-100z" fill="#516ddb"/>
<path d="m4338 6102l119 76 66-55-118-74z" fill="#4c66d6"/>
<path d="m4457 6178l119 64 66-64-119-55z" fill="#4a63d3"/>
<path d="m4576 6242l119 54 67-80-120-38z" fill="#4961d2"/>
<path d="m4695 6296l120 59 67-82-120-57z" fill="#485fd1"/>
<path d="m4815 6355l120 83 66-82-119-83z" fill="#445acc"/>
<path d="m4935 6438l120 46 66-70-120-58z" fill="#4257c9"/>
<path d="m5055 6484l121 53 65-67-120-56z" fill="#4055c8"/>
<path d="m5176 6537l120 55 66-77-121-45z" fill="#3f53c6"/>
<path d="m5296 6592l122 38 64-39-120-76z" fill="#3e51c5"/>
<path d="m5418 6630l121 47 65-46-122-40z" fill="#3d50c3"/>
<path d="m1266 5134l113 62 70-108-113-89z" fill="#5a78e4"/>
<path d="m1379 5196l113 61 71-85-114-84z" fill="#5673e0"/>
<path d="m1492 5257l113 62 71-90-113-57z" fill="#5470de"/>
<path d="m1605 5319l113 64 71-100-113-54z" fill="#516ddb"/>
<path d="m1718 5383l114 46 70-97-113-49z" fill="#4f69d9"/>
<path d="m1832 5429l113 21 70-80-113-38z" fill="#4f69d9"/>
<path d="m1945 5450l113 41 70-73-113-48z" fill="#4f69d9"/>
<path d="m2058 5491l114 35 70-76-114-32z" fill="#4f69d9"/>
<path d="m2172 5526l114 52 70-74-114-54z" fill="#4e68d8"/>
<path d="m2286 5578l115 45 70-76-115-43z" fill="#4c66d6"/>
<path d="m2401 5623l115 52 69-67-114-61z" fill="#4b64d5"/>
<path d="m2516 5675l115 52 69-67-115-52z" fill="#4a63d3"/>
<path d="m2631 5727l115 36 69-75-115-28z" fill="#4961d2"/>
<path d="m2746 5763l115 17 69-72-115-20z" fill="#4a63d3"/>
<path d="m2861 5780l116 11 69-78-116-5z" fill="#4c66d6"/>
<path d="m2977 5791l116 24 69-65-116-37z" fill="#4e68d8"/>
<path d="m3093 5815l116 36 69-67-116-34z" fill="#4e68d8"/>
<path d="m3209 5851l117 41 69-69-117-39z" fill="#4e68d8"/>
<path d="m3326 5892l117 33 68-58-116-44z" fill="#4e68d8"/>
<path d="m3443 5925l117 48 69-69-118-37z" fill="#4e68d8"/>
<path d="m3560 5973l118 12 68-75-117-6z" fill="#4e68d8"/>
<path d="m3678 5985l118-18 68-92-118 35z" fill="#536edd"/>
<path d="m3796 5967l119-30 67-59-118-3z" fill="#5875e1"/>
<path d="m3915 5937l118 39 68-78-119-20z" fill="#5a78e4"/>
<path d="m4033 5976l119 92 68-79-119-91z" fill="#5875e1"/>
<path d="m4152 6068l118 104 68-70-118-113z" fill="#536edd"/>
<path d="m4270 6172l119 71 68-65-119-76z" fill="#4e68d8"/>
<path d="m4389 6243l120 69 67-70-119-64z" fill="#4a63d3"/>
<path d="m4509 6312l120 50 66-66-119-54z" fill="#4961d2"/>
<path d="m4629 6362l119 77 67-84-120-59z" fill="#465ecf"/>
<path d="m4748 6439l120 70 67-71-120-83z" fill="#4358cb"/>
<path d="m4868 6509l121 45 66-70-120-46z" fill="#4055c8"/>
<path d="m4989 6554l121 37 66-54-121-53z" fill="#4055c8"/>
<path d="m5110 6591l121 61 65-60-120-55z" fill="#3f53c6"/>
<path d="m5231 6652l121 46 66-68-122-38z" fill="#3e51c5"/>
<path d="m5352 6698l122 33 65-54-121-47z" fill="#3e51c5"/>
<path d="m1193 5141l114 99 72-44-113-62z" fill="#5977e3"/>
<path d="m1307 5240l113 75 72-58-113-61z" fill="#5572df"/>
<path d="m1420 5315l114 74 71-70-113-62z" fill="#536edd"/>
<path d="m1534 5389l114 66 70-72-113-64z" fill="#4f69d9"/>
<path d="m1648 5455l113 54 71-80-114-46z" fill="#4c66d6"/>
<path d="m1761 5509l113 29 71-88-113-21z" fill="#4c66d6"/>
<path d="m1874 5538l114 35 70-82-113-41z" fill="#4e68d8"/>
<path d="m1988 5573l114 23 70-70-114-35z" fill="#4e68d8"/>
<path d="m2102 5596l114 34 70-52-114-52z" fill="#4e68d8"/>
<path d="m2216 5630l115 57 70-64-115-45z" fill="#4c66d6"/>
<path d="m2331 5687l115 54 70-66-115-52z" fill="#4b64d5"/>
<path d="m2446 5741l115 43 70-57-115-52z" fill="#4961d2"/>
<path d="m2561 5784l115 45 70-66-115-36z" fill="#4961d2"/>
<path d="m2676 5829l116 22 69-71-115-17z" fill="#4961d2"/>
<path d="m2792 5851l115 14 70-74-116-11z" fill="#4b64d5"/>
<path d="m2907 5865l117 35 69-85-116-24z" fill="#4c66d6"/>
<path d="m3024 5900l116 16 69-65-116-36z" fill="#4e68d8"/>
<path d="m3140 5916l117 61 69-85-117-41z" fill="#4c66d6"/>
<path d="m3257 5977l117 41 69-93-117-33z" fill="#4c66d6"/>
<path d="m3374 6018l118 45 68-90-117-48z" fill="#4b64d5"/>
<path d="m3492 6063l117 11 69-89-118-12z" fill="#4c66d6"/>
<path d="m3609 6074l118-17 69-90-118 18z" fill="#506bda"/>
<path d="m3727 6057l119 2 69-122-119 30z" fill="#5572df"/>
<path d="m3846 6059l119 26 68-109-118-39z" fill="#5875e1"/>
<path d="m3965 6085l119 83 68-100-119-92z" fill="#5572df"/>
<path d="m4084 6168l119 77 67-73-118-104z" fill="#516ddb"/>
<path d="m4203 6245l119 79 67-81-119-71z" fill="#4c66d6"/>
<path d="m4322 6324l119 65 68-77-120-69z" fill="#4a63d3"/>
<path d="m4441 6389l120 51 68-78-120-50z" fill="#485fd1"/>
<path d="m4561 6440l120 71 67-72-119-77z" fill="#455cce"/>
<path d="m4681 6511l121 50 66-52-120-70z" fill="#4358cb"/>
<path d="m4802 6561l120 50 67-57-121-45z" fill="#4257c9"/>
<path d="m4922 6611l122 47 66-67-121-37z" fill="#4055c8"/>
<path d="m5044 6658l121 53 66-59-121-61z" fill="#3f53c6"/>
<path d="m5165 6711l121 55 66-68-121-46z" fill="#3e51c5"/>
<path d="m5286 6766l122 47 66-82-122-33z" fill="#3e51c5"/>
<path d="m1123 5279l113 46 71-85-114-99z" fill="#5875e1"/>
<path d="m1236 5325l113 68 71-78-113-75z" fill="#5572df"/>
<path d="m1349 5393l114 81 71-85-114-74z" fill="#516ddb"/>
<path d="m1463 5474l113 62 72-81-114-66z" fill="#4e68d8"/>
<path d="m1576 5536l114 61 71-88-113-54z" fill="#4b64d5"/>
<path d="m1690 5597l114 34 70-93-113-29z" fill="#4a63d3"/>
<path d="m1804 5631l113 16 71-74-114-35z" fill="#4b64d5"/>
<path d="m1917 5647l114 5 71-56-114-23z" fill="#4c66d6"/>
<path d="m2031 5652l114 43 71-65-114-34z" fill="#4e68d8"/>
<path d="m2145 5695l115 47 71-55-115-57z" fill="#4c66d6"/>
<path d="m2260 5742l115 50 71-51-115-54z" fill="#4b64d5"/>
<path d="m2375 5792l115 47 71-55-115-43z" fill="#4a63d3"/>
<path d="m2490 5839l116 45 70-55-115-45z" fill="#4961d2"/>
<path d="m2606 5884l116 37 70-70-116-22z" fill="#4961d2"/>
<path d="m2722 5921l116 13 69-69-115-14z" fill="#4a63d3"/>
<path d="m2838 5934l116 49 70-83-117-35z" fill="#4b64d5"/>
<path d="m2954 5983l117 35 69-102-116-16z" fill="#4b64d5"/>
<path d="m3071 6018l117 38 69-79-117-61z" fill="#4b64d5"/>
<path d="m3188 6056l117 39 69-77-117-41z" fill="#4a63d3"/>
<path d="m3305 6095l118 51 69-83-118-45z" fill="#4a63d3"/>
<path d="m3423 6146l117 20 69-92-117-11z" fill="#4a63d3"/>
<path d="m3540 6166l119 6 68-115-118 17z" fill="#4e68d8"/>
<path d="m3659 6172l118 15 69-128-119-2z" fill="#506bda"/>
<path d="m3777 6187l119 29 69-131-119-26z" fill="#536edd"/>
<path d="m3896 6216l119 61 69-109-119-83z" fill="#516ddb"/>
<path d="m4015 6277l119 76 69-108-119-77z" fill="#4e68d8"/>
<path d="m4134 6353l120 59 68-88-119-79z" fill="#4a63d3"/>
<path d="m4254 6412l120 53 67-76-119-65z" fill="#485fd1"/>
<path d="m4374 6465l120 61 67-86-120-51z" fill="#465ecf"/>
<path d="m4494 6526l120 43 67-58-120-71z" fill="#445acc"/>
<path d="m4614 6569l121 66 67-74-121-50z" fill="#4358cb"/>
<path d="m4735 6635l121 41 66-65-120-50z" fill="#4257c9"/>
<path d="m4856 6676l121 39 67-57-122-47z" fill="#4257c9"/>
<path d="m4977 6715l121 64 67-68-121-53z" fill="#4055c8"/>
<path d="m5098 6779l122 63 66-76-121-55z" fill="#3e51c5"/>
<path d="m5220 6842l122 43 66-72-122-47z" fill="#3d50c3"/>
<path d="m1048 5272l115 95 73-42-113-46z" fill="#5875e1"/>
<path d="m1163 5367l113 75 73-49-113-68z" fill="#5470de"/>
<path d="m1276 5442l114 75 73-43-114-81z" fill="#506bda"/>
<path d="m1390 5517l115 76 71-57-113-62z" fill="#4e68d8"/>
<path d="m1505 5593l114 64 71-60-114-61z" fill="#4a63d3"/>
<path d="m1619 5657l113 25 72-51-114-34z" fill="#4961d2"/>
<path d="m1732 5682l114 21 71-56-113-16z" fill="#4a63d3"/>
<path d="m1846 5703l113 22 72-73-114-5z" fill="#4c66d6"/>
<path d="m1959 5725l115 33 71-63-114-43z" fill="#4e68d8"/>
<path d="m2074 5758l115 45 71-61-115-47z" fill="#4c66d6"/>
<path d="m2189 5803l115 54 71-65-115-50z" fill="#4b64d5"/>
<path d="m2304 5857l116 41 70-59-115-47z" fill="#4a63d3"/>
<path d="m2420 5898l116 53 70-67-116-45z" fill="#4961d2"/>
<path d="m2536 5951l115 24 71-54-116-37z" fill="#4961d2"/>
<path d="m2651 5975l117 44 70-85-116-13z" fill="#4a63d3"/>
<path d="m2768 6019l116 38 70-74-116-49z" fill="#4a63d3"/>
<path d="m2884 6057l117 40 70-79-117-35z" fill="#4961d2"/>
<path d="m3001 6097l117 52 70-93-117-38z" fill="#4961d2"/>
<path d="m3118 6149l118 48 69-102-117-39z" fill="#4961d2"/>
<path d="m3236 6197l117 34 70-85-118-51z" fill="#485fd1"/>
<path d="m3353 6231l118 33 69-98-117-20z" fill="#485fd1"/>
<path d="m3471 6264l119 24 69-116-119-6z" fill="#4a63d3"/>
<path d="m3590 6288l118 23 69-124-118-15z" fill="#4b64d5"/>
<path d="m3708 6311l119 22 69-117-119-29z" fill="#4c66d6"/>
<path d="m3827 6333l120 55 68-111-119-61z" fill="#4c66d6"/>
<path d="m3947 6388l119 60 68-95-119-76z" fill="#4a63d3"/>
<path d="m4066 6448l120 67 68-103-120-59z" fill="#485fd1"/>
<path d="m4186 6515l120 45 68-95-120-53z" fill="#465ecf"/>
<path d="m4306 6560l120 63 68-97-120-61z" fill="#445acc"/>
<path d="m4426 6623l121 33 67-87-120-43z" fill="#4358cb"/>
<path d="m4547 6656l120 49 68-70-121-66z" fill="#4358cb"/>
<path d="m4667 6705l122 30 67-59-121-41z" fill="#4257c9"/>
<path d="m4789 6735l121 74 67-94-121-39z" fill="#4055c8"/>
<path d="m4910 6809l122 44 66-74-121-64z" fill="#3f53c6"/>
<path d="m5032 6853l121 61 67-72-122-63z" fill="#3e51c5"/>
<path d="m5153 6914l122 66 67-95-122-43z" fill="#3c4ec2"/>
<path d="m977 5384l113 45 73-62-115-95z" fill="#5977e3"/>
<path d="m1090 5429l114 76 72-63-113-75z" fill="#5572df"/>
<path d="m1204 5505l114 69 72-57-114-75z" fill="#516ddb"/>
<path d="m1318 5574l114 76 73-57-115-76z" fill="#4e68d8"/>
<path d="m1432 5650l114 50 73-43-114-64z" fill="#4b64d5"/>
<path d="m1546 5700l114 23 72-41-113-25z" fill="#4a63d3"/>
<path d="m1660 5723l114 36 72-56-114-21z" fill="#4b64d5"/>
<path d="m1774 5759l114 27 71-61-113-22z" fill="#4c66d6"/>
<path d="m1888 5786l115 39 71-67-115-33z" fill="#4c66d6"/>
<path d="m2003 5825l115 42 71-64-115-45z" fill="#4c66d6"/>
<path d="m2118 5867l115 61 71-71-115-54z" fill="#4b64d5"/>
<path d="m2233 5928l116 41 71-71-116-41z" fill="#4a63d3"/>
<path d="m2349 5969l116 29 71-47-116-53z" fill="#4a63d3"/>
<path d="m2465 5998l116 31 70-54-115-24z" fill="#4a63d3"/>
<path d="m2581 6029l116 48 71-58-117-44z" fill="#4a63d3"/>
<path d="m2697 6077l117 51 70-71-116-38z" fill="#4961d2"/>
<path d="m2814 6128l117 57 70-88-117-40z" fill="#485fd1"/>
<path d="m2931 6185l118 53 69-89-117-52z" fill="#465ecf"/>
<path d="m3049 6238l117 53 70-94-118-48z" fill="#455cce"/>
<path d="m3166 6291l118 38 69-98-117-34z" fill="#455cce"/>
<path d="m3284 6329l118 23 69-88-118-33z" fill="#455cce"/>
<path d="m3402 6352l119 38 69-102-119-24z" fill="#465ecf"/>
<path d="m3521 6390l118 24 69-103-118-23z" fill="#485fd1"/>
<path d="m3639 6414l119 31 69-112-119-22z" fill="#4961d2"/>
<path d="m3758 6445l120 46 69-103-120-55z" fill="#485fd1"/>
<path d="m3878 6491l119 45 69-88-119-60z" fill="#465ecf"/>
<path d="m3997 6536l120 60 69-81-120-67z" fill="#455cce"/>
<path d="m4117 6596l120 56 69-92-120-45z" fill="#4358cb"/>
<path d="m4237 6652l121 59 68-88-120-63z" fill="#4257c9"/>
<path d="m4358 6711l120 43 69-98-121-33z" fill="#4055c8"/>
<path d="m4478 6754l122 34 67-83-120-49z" fill="#4055c8"/>
<path d="m4600 6788l121 46 68-99-122-30z" fill="#4055c8"/>
<path d="m4721 6834l121 55 68-80-121-74z" fill="#3f53c6"/>
<path d="m4842 6889l122 50 68-86-122-44z" fill="#3e51c5"/>
<path d="m4964 6939l122 55 67-80-121-61z" fill="#3d50c3"/>
<path d="m5086 6994l123 50 66-64-122-66z" fill="#3b4cc0"/>
<path d="m901 5343l114 99 75-13-113-45z" fill="#5b7ae5"/>
<path d="m1015 5442l115 102 74-39-114-76z" fill="#5673e0"/>
<path d="m1130 5544l115 87 73-57-114-69z" fill="#536edd"/>
<path d="m1245 5631l114 68 73-49-114-76z" fill="#4f69d9"/>
<path d="m1359 5699l115 53 72-52-114-50z" fill="#4c66d6"/>
<path d="m1474 5752l114 37 72-66-114-23z" fill="#4b64d5"/>
<path d="m1588 5789l114 48 72-78-114-36z" fill="#4b64d5"/>
<path d="m1702 5837l115 34 71-85-114-27z" fill="#4b64d5"/>
<path d="m1817 5871l115 45 71-91-115-39z" fill="#4b64d5"/>
<path d="m1932 5916l115 39 71-88-115-42z" fill="#4b64d5"/>
<path d="m2047 5955l115 45 71-72-115-61z" fill="#4a63d3"/>
<path d="m2162 6000l116 44 71-75-116-41z" fill="#4961d2"/>
<path d="m2278 6044l116 24 71-70-116-29z" fill="#4961d2"/>
<path d="m2394 6068l116 25 71-64-116-31z" fill="#4a63d3"/>
<path d="m2510 6093l117 48 70-64-116-48z" fill="#4a63d3"/>
<path d="m2627 6141l117 56 70-69-117-51z" fill="#4961d2"/>
<path d="m2744 6197l117 67 70-79-117-57z" fill="#465ecf"/>
<path d="m2861 6264l118 56 70-82-118-53z" fill="#455cce"/>
<path d="m2979 6320l117 50 70-79-117-53z" fill="#445acc"/>
<path d="m3096 6370l118 31 70-72-118-38z" fill="#4358cb"/>
<path d="m3214 6401l119 35 69-84-118-23z" fill="#445acc"/>
<path d="m3333 6436l118 33 70-79-119-38z" fill="#445acc"/>
<path d="m3451 6469l119 28 69-83-118-24z" fill="#455cce"/>
<path d="m3570 6497l119 37 69-89-119-31z" fill="#455cce"/>
<path d="m3689 6534l120 41 69-84-120-46z" fill="#455cce"/>
<path d="m3809 6575l120 38 68-77-119-45z" fill="#455cce"/>
<path d="m3929 6613l120 62 68-79-120-60z" fill="#445acc"/>
<path d="m4049 6675l120 53 68-76-120-56z" fill="#4257c9"/>
<path d="m4169 6728l120 60 69-77-121-59z" fill="#4055c8"/>
<path d="m4289 6788l121 53 68-87-120-43z" fill="#3f53c6"/>
<path d="m4410 6841l121 45 69-98-122-34z" fill="#3e51c5"/>
<path d="m4531 6886l122 44 68-96-121-46z" fill="#3e51c5"/>
<path d="m4653 6930l122 39 67-80-121-55z" fill="#3e51c5"/>
<path d="m4775 6969l122 51 67-81-122-50z" fill="#3d50c3"/>
<path d="m4897 7020l122 47 67-73-122-55z" fill="#3c4ec2"/>
<path d="m5019 7067l123 37 67-60-123-50z" fill="#3b4cc0"/>
<path d="m828 5440l114 73 73-71-114-99z" fill="#5e7de7"/>
<path d="m942 5513l116 101 72-70-115-102z" fill="#5875e1"/>
<path d="m1058 5614l115 93 72-76-115-87z" fill="#536edd"/>
<path d="m1173 5707l114 55 72-63-114-68z" fill="#4f69d9"/>
<path d="m1287 5762l114 62 73-72-115-53z" fill="#4c66d6"/>
<path d="m1401 5824l115 52 72-87-114-37z" fill="#4b64d5"/>
<path d="m1516 5876l114 42 72-81-114-48z" fill="#4a63d3"/>
<path d="m1630 5918l115 45 72-92-115-34z" fill="#4a63d3"/>
<path d="m1745 5963l115 19 72-66-115-45z" fill="#4a63d3"/>
<path d="m1860 5982l115 43 72-70-115-39z" fill="#4a63d3"/>
<path d="m1975 6025l116 42 71-67-115-45z" fill="#4961d2"/>
<path d="m2091 6067l116 41 71-64-116-44z" fill="#4961d2"/>
<path d="m2207 6108l116 38 71-78-116-24z" fill="#4961d2"/>
<path d="m2323 6146l116 30 71-83-116-25z" fill="#4961d2"/>
<path d="m2439 6176l117 31 71-66-117-48z" fill="#4a63d3"/>
<path d="m2556 6207l117 56 71-66-117-56z" fill="#4961d2"/>
<path d="m2673 6263l117 64 71-63-117-67z" fill="#465ecf"/>
<path d="m2790 6327l118 66 71-73-118-56z" fill="#445acc"/>
<path d="m2908 6393l118 53 70-76-117-50z" fill="#4358cb"/>
<path d="m3026 6446l118 31 70-76-118-31z" fill="#4257c9"/>
<path d="m3144 6477l119 41 70-82-119-35z" fill="#4358cb"/>
<path d="m3263 6518l118 38 70-87-118-33z" fill="#4358cb"/>
<path d="m3381 6556l119 38 70-97-119-28z" fill="#4358cb"/>
<path d="m3500 6594l120 45 69-105-119-37z" fill="#4358cb"/>
<path d="m3620 6639l119 29 70-93-120-41z" fill="#4358cb"/>
<path d="m3739 6668l120 54 70-109-120-38z" fill="#4358cb"/>
<path d="m3859 6722l121 40 69-87-120-62z" fill="#4257c9"/>
<path d="m3980 6762l120 61 69-95-120-53z" fill="#4055c8"/>
<path d="m4100 6823l121 37 68-72-120-60z" fill="#3f53c6"/>
<path d="m4221 6860l121 58 68-77-121-53z" fill="#3e51c5"/>
<path d="m4342 6918l121 37 68-69-121-45z" fill="#3d50c3"/>
<path d="m4463 6955l122 36 68-61-122-44z" fill="#3d50c3"/>
<path d="m4585 6991l122 41 68-63-122-39z" fill="#3d50c3"/>
<path d="m4707 7032l122 57 68-69-122-51z" fill="#3c4ec2"/>
<path d="m4829 7089l123 45 67-67-122-47z" fill="#3c4ec2"/>
<path d="m4952 7134l123 42 67-72-123-37z" fill="#3b4cc0"/>
<path d="m752 5429l116 123 74-39-114-73z" fill="#5f7fe8"/>
<path d="m868 5552l115 108 75-46-116-101z" fill="#5977e3"/>
<path d="m983 5660l116 104 74-57-115-93z" fill="#536edd"/>
<path d="m1099 5764l115 71 73-73-114-55z" fill="#4e68d8"/>
<path d="m1214 5835l115 67 72-78-114-62z" fill="#4b64d5"/>
<path d="m1329 5902l115 60 72-86-115-52z" fill="#4a63d3"/>
<path d="m1444 5962l114 34 72-78-114-42z" fill="#4961d2"/>
<path d="m1558 5996l115 43 72-76-115-45z" fill="#485fd1"/>
<path d="m1673 6039l115 39 72-96-115-19z" fill="#485fd1"/>
<path d="m1788 6078l115 30 72-83-115-43z" fill="#4961d2"/>
<path d="m1903 6108l116 28 72-69-116-42z" fill="#4961d2"/>
<path d="m2019 6136l116 44 72-72-116-41z" fill="#4961d2"/>
<path d="m2135 6180l116 32 72-66-116-38z" fill="#485fd1"/>
<path d="m2251 6212l117 29 71-65-116-30z" fill="#4961d2"/>
<path d="m2368 6241l116 36 72-70-117-31z" fill="#4961d2"/>
<path d="m2484 6277l118 67 71-81-117-56z" fill="#485fd1"/>
<path d="m2602 6344l118 57 70-74-117-64z" fill="#465ecf"/>
<path d="m2720 6401l118 60 70-68-118-66z" fill="#445acc"/>
<path d="m2838 6461l118 56 70-71-118-53z" fill="#4257c9"/>
<path d="m2956 6517l118 56 70-96-118-31z" fill="#4055c8"/>
<path d="m3074 6573l119 36 70-91-119-41z" fill="#4055c8"/>
<path d="m3193 6609l118 43 70-96-118-38z" fill="#4055c8"/>
<path d="m3311 6652l120 30 69-88-119-38z" fill="#4055c8"/>
<path d="m3431 6682l119 46 70-89-120-45z" fill="#4055c8"/>
<path d="m3550 6728l120 46 69-106-119-29z" fill="#4055c8"/>
<path d="m3670 6774l120 37 69-89-120-54z" fill="#3f53c6"/>
<path d="m3790 6811l120 58 70-107-121-40z" fill="#3f53c6"/>
<path d="m3910 6869l121 34 69-80-120-61z" fill="#3e51c5"/>
<path d="m4031 6903l121 40 69-83-121-37z" fill="#3e51c5"/>
<path d="m4152 6943l121 30 69-55-121-58z" fill="#3e51c5"/>
<path d="m4273 6973l122 52 68-70-121-37z" fill="#3d50c3"/>
<path d="m4395 7025l122 61 68-95-122-36z" fill="#3d50c3"/>
<path d="m4517 7086l122 11 68-65-122-41z" fill="#3d50c3"/>
<path d="m4639 7097l123 54 67-62-122-57z" fill="#3d50c3"/>
<path d="m4762 7151l122 37 68-54-123-45z" fill="#3c4ec2"/>
<path d="m4884 7188l124 49 67-61-123-42z" fill="#3c4ec2"/>
<path d="m680 5557l115 82 73-87-116-123z" fill="#5f7fe8"/>
<path d="m795 5639l115 102 73-81-115-108z" fill="#5977e3"/>
<path d="m910 5741l116 93 73-70-116-104z" fill="#536edd"/>
<path d="m1026 5834l115 72 73-71-115-71z" fill="#4e68d8"/>
<path d="m1141 5906l115 69 73-73-115-67z" fill="#4b64d5"/>
<path d="m1256 5975l114 47 74-60-115-60z" fill="#4961d2"/>
<path d="m1370 6022l115 39 73-65-114-34z" fill="#485fd1"/>
<path d="m1485 6061l115 43 73-65-115-43z" fill="#485fd1"/>
<path d="m1600 6104l115 30 73-56-115-39z" fill="#485fd1"/>
<path d="m1715 6134l116 23 72-49-115-30z" fill="#485fd1"/>
<path d="m1831 6157l116 46 72-67-116-28z" fill="#4961d2"/>
<path d="m1947 6203l116 25 72-48-116-44z" fill="#4961d2"/>
<path d="m2063 6228l116 48 72-64-116-32z" fill="#4961d2"/>
<path d="m2179 6276l117 44 72-79-117-29z" fill="#4961d2"/>
<path d="m2296 6320l117 50 71-93-116-36z" fill="#485fd1"/>
<path d="m2413 6370l118 57 71-83-118-67z" fill="#465ecf"/>
<path d="m2531 6427l118 61 71-87-118-57z" fill="#445acc"/>
<path d="m2649 6488l118 53 71-80-118-60z" fill="#4358cb"/>
<path d="m2767 6541l118 58 71-82-118-56z" fill="#4257c9"/>
<path d="m2885 6599l118 54 71-80-118-56z" fill="#3f53c6"/>
<path d="m3003 6653l119 52 71-96-119-36z" fill="#3e51c5"/>
<path d="m3122 6705l119 36 70-89-118-43z" fill="#3e51c5"/>
<path d="m3241 6741l120 47 70-106-120-30z" fill="#3e51c5"/>
<path d="m3361 6788l119 45 70-105-119-46z" fill="#3e51c5"/>
<path d="m3480 6833l120 34 70-93-120-46z" fill="#3d50c3"/>
<path d="m3600 6867l120 49 70-105-120-37z" fill="#3d50c3"/>
<path d="m3720 6916l121 37 69-84-120-58z" fill="#3d50c3"/>
<path d="m3841 6953l121 44 69-94-121-34z" fill="#3c4ec2"/>
<path d="m3962 6997l121 20 69-74-121-40z" fill="#3d50c3"/>
<path d="m4083 7017l121 34 69-78-121-30z" fill="#3d50c3"/>
<path d="m4204 7051l122 45 69-71-122-52z" fill="#3d50c3"/>
<path d="m4326 7096l122 45 69-55-122-61z" fill="#3c4ec2"/>
<path d="m4448 7141l123 38 68-82-122-11z" fill="#3c4ec2"/>
<path d="m4571 7179l122 36 69-64-123-54z" fill="#3d50c3"/>
<path d="m4693 7215l123 47 68-74-122-37z" fill="#3c4ec2"/>
<path d="m4816 7262l124 34 68-59-124-49z" fill="#3c4ec2"/>
</g></g>
<line x1="19.8" y1="590.6" x2="508.9" y2="748.4" stroke="#000" stroke-width="1.7" />
<line x1="508.9" y1="748.4" x2="766.5" y2="484.1" stroke="#000" stroke-width="1.7" />
<line x1="766.5" y1="484.1" x2="785" y2="124.8" stroke="#000" stroke-width="1.7" />
<line x1="92.8" y1="611.3" x2="84.2" y2="618.7" stroke="#000" stroke-width="1.5"/>
<text x="84.9" y="650.7" font-size="31" text-anchor="middle" font-weight="normal" >−4</text>
<line x1="175.7" y1="638" x2="167.2" y2="645.5" stroke="#000" stroke-width="1.5"/>
<text x="167.9" y="677.4" font-size="31" text-anchor="middle" font-weight="normal" >−2</text>
<line x1="260.2" y1="665.2" x2="251.9" y2="672.9" stroke="#000" stroke-width="1.5"/>
<text x="252.4" y="704.7" font-size="31" text-anchor="middle" font-weight="normal" >0</text>
<line x1="346.3" y1="693" x2="338.1" y2="700.8" stroke="#000" stroke-width="1.5"/>
<text x="338.5" y="732.5" font-size="31" text-anchor="middle" font-weight="normal" >2</text>
<line x1="434" y1="721.2" x2="426" y2="729.2" stroke="#000" stroke-width="1.5"/>
<text x="426.3" y="760.8" font-size="31" text-anchor="middle" font-weight="normal" >4</text>
<line x1="547.8" y1="704.4" x2="559.1" y2="708" stroke="#000" stroke-width="1.5"/>
<text x="559.4" y="740.2" font-size="31" text-anchor="middle" font-weight="normal" >−4</text>
<line x1="594.9" y1="656.2" x2="606" y2="659.6" stroke="#000" stroke-width="1.5"/>
<text x="606.4" y="691.9" font-size="31" text-anchor="middle" font-weight="normal" >−2</text>
<line x1="640.5" y1="609.4" x2="651.5" y2="612.8" stroke="#000" stroke-width="1.5"/>
<text x="652" y="645.1" font-size="31" text-anchor="middle" font-weight="normal" >0</text>
<line x1="684.7" y1="564.1" x2="695.6" y2="567.3" stroke="#000" stroke-width="1.5"/>
<text x="696.2" y="599.8" font-size="31" text-anchor="middle" font-weight="normal" >2</text>
<line x1="727.6" y1="520.2" x2="738.3" y2="523.3" stroke="#000" stroke-width="1.5"/>
<text x="739" y="555.8" font-size="31" text-anchor="middle" font-weight="normal" >4</text>
<line x1="763.9" y1="476.4" x2="774.6" y2="479.5" stroke="#000" stroke-width="1.5"/>
<text x="797.7" y="494.1" font-size="28" text-anchor="middle" font-weight="normal" >0.00</text>
<line x1="766.8" y1="420.9" x2="777.5" y2="423.9" stroke="#000" stroke-width="1.5"/>
<text x="800.5" y="438.6" font-size="28" text-anchor="middle" font-weight="normal" >0.01</text>
<line x1="769.7" y1="364.6" x2="780.5" y2="367.6" stroke="#000" stroke-width="1.5"/>
<text x="803.4" y="382.4" font-size="28" text-anchor="middle" font-weight="normal" >0.02</text>
<line x1="772.6" y1="307.6" x2="783.5" y2="310.5" stroke="#000" stroke-width="1.5"/>
<text x="806.3" y="325.3" font-size="28" text-anchor="middle" font-weight="normal" >0.03</text>
<line x1="775.5" y1="249.7" x2="786.5" y2="252.6" stroke="#000" stroke-width="1.5"/>
<text x="809.3" y="267.4" font-size="28" text-anchor="middle" font-weight="normal" >0.03</text>
<line x1="778.5" y1="191.1" x2="789.6" y2="193.9" stroke="#000" stroke-width="1.5"/>
<text x="812.3" y="208.7" font-size="28" text-anchor="middle" font-weight="normal" >0.04</text>
<line x1="781.6" y1="131.6" x2="792.7" y2="134.3" stroke="#000" stroke-width="1.5"/>
<text x="815.4" y="149.2" font-size="28" text-anchor="middle" font-weight="normal" >0.05</text>
<text x="220.2" y="760.1" font-size="43" text-anchor="middle" font-weight="normal" transform="rotate(18 220.2 760.1)" ><tspan font-style="italic">X</tspan> (mm)</text>
<text x="714" y="682.6" font-size="43" text-anchor="middle" font-weight="normal" transform="rotate(-45.8 714 682.6)" ><tspan font-style="italic">Y</tspan> (mm)</text>
<text x="871.4" y="298.7" font-size="34.7" text-anchor="middle" font-weight="normal" transform="rotate(-88.4 871.4 298.7)" >Quantum efficiency (%)</text>
</g>
<g id="pb"><polygon points="931.4,593.6 1420.5,751.4 1678.1,487.1 1216.7,355" fill="#f4f4f4"/>
<polygon points="931.4,593.6 1216.7,355 1214.6,8 916,225.4" fill="#f8f8f8"/>
<polygon points="1216.7,355 1678.1,487.1 1696.6,127.8 1214.6,8" fill="#f1f1f1"/>
<g><line x1="961" y1="603.2" x2="1244.7" y2="363" stroke="#b0b0b0" stroke-width="1.4" /><line x1="1244.7" y1="363" x2="1243.9" y2="15.3" stroke="#b0b0b0" stroke-width="1.4" /><line x1="1064" y1="636.4" x2="1342.2" y2="390.9" stroke="#b0b0b0" stroke-width="1.4" /><line x1="1342.2" y1="390.9" x2="1345.5" y2="40.6" stroke="#b0b0b0" stroke-width="1.4" /><line x1="1169.4" y1="670.4" x2="1441.7" y2="419.4" stroke="#b0b0b0" stroke-width="1.4" /><line x1="1441.7" y1="419.4" x2="1449.4" y2="66.4" stroke="#b0b0b0" stroke-width="1.4" /><line x1="1277.3" y1="705.2" x2="1543.4" y2="448.5" stroke="#b0b0b0" stroke-width="1.4" /><line x1="1543.4" y1="448.5" x2="1555.7" y2="92.8" stroke="#b0b0b0" stroke-width="1.4" /><line x1="1387.8" y1="740.8" x2="1647.4" y2="478.3" stroke="#b0b0b0" stroke-width="1.4" /><line x1="1647.4" y1="478.3" x2="1664.4" y2="119.8" stroke="#b0b0b0" stroke-width="1.4" /><line x1="951.1" y1="577.2" x2="1438.4" y2="733.1" stroke="#b0b0b0" stroke-width="1.4" /><line x1="951.1" y1="577.2" x2="936.6" y2="210.4" stroke="#b0b0b0" stroke-width="1.4" /><line x1="1016.8" y1="522.2" x2="1497.9" y2="672" stroke="#b0b0b0" stroke-width="1.4" /><line x1="1016.8" y1="522.2" x2="1005.6" y2="160.2" stroke="#b0b0b0" stroke-width="1.4" /><line x1="1080.1" y1="469.2" x2="1555.1" y2="613.3" stroke="#b0b0b0" stroke-width="1.4" /><line x1="1080.1" y1="469.2" x2="1071.9" y2="111.9" stroke="#b0b0b0" stroke-width="1.4" /><line x1="1141.1" y1="418.2" x2="1610.1" y2="556.9" stroke="#b0b0b0" stroke-width="1.4" /><line x1="1141.1" y1="418.2" x2="1135.7" y2="65.4" stroke="#b0b0b0" stroke-width="1.4" /><line x1="1199.9" y1="369" x2="1663" y2="502.6" stroke="#b0b0b0" stroke-width="1.4" /><line x1="1199.9" y1="369" x2="1197.1" y2="20.8" stroke="#b0b0b0" stroke-width="1.4" /><line x1="931.1" y1="586.6" x2="1216.6" y2="348.3" stroke="#b0b0b0" stroke-width="1.4" /><line x1="1216.6" y1="348.3" x2="1678.5" y2="480.2" stroke="#b0b0b0" stroke-width="1.4" /><line x1="927.5" y1="501.1" x2="1216.1" y2="267.5" stroke="#b0b0b0" stroke-width="1.4" /><line x1="1216.1" y1="267.5" x2="1682.8" y2="396.7" stroke="#b0b0b0" stroke-width="1.4" /><line x1="923.9" y1="413.7" x2="1215.7" y2="185.1" stroke="#b0b0b0" stroke-width="1.4" /><line x1="1215.7" y1="185.1" x2="1687.1" y2="311.4" stroke="#b0b0b0" stroke-width="1.4" /><line x1="920.1" y1="324.4" x2="1215.2" y2="101" stroke="#b0b0b0" stroke-width="1.4" /><line x1="1215.2" y1="101" x2="1691.6" y2="224.3" stroke="#b0b0b0" stroke-width="1.4" /><line x1="916.3" y1="233.1" x2="1214.7" y2="15.3" stroke="#b0b0b0" stroke-width="1.4" /><line x1="1214.7" y1="15.3" x2="1696.2" y2="135.3" stroke="#b0b0b0" stroke-width="1.4" /></g>
<g transform="scale(.1)" stroke="#fff" stroke-width="5.5" stroke-linejoin="round"><g stroke-opacity="0.26">
<path d="m12223 3764l97 21 57-42-97-22z" fill="#3d50c3"/>
<path d="m12320 3785l97 22 57-42-97-22z" fill="#3e51c5"/>
<path d="m12417 3807l97 21 58-41-98-22z" fill="#3e51c5"/>
<path d="m12514 3828l98 21 57-40-97-22z" fill="#3f53c6"/>
<path d="m12612 3849l98 22 57-40-98-22z" fill="#3f53c6"/>
<path d="m12710 3871l98 21 57-40-98-21z" fill="#4055c8"/>
<path d="m12808 3892l98 22 57-39-98-23z" fill="#4055c8"/>
<path d="m12906 3914l99 22 57-38-99-23z" fill="#4257c9"/>
<path d="m13005 3936l99 22 56-37-98-23z" fill="#4257c9"/>
<path d="m13104 3958l99 21 56-37-99-21z" fill="#4358cb"/>
<path d="m13203 3979l99 22 56-36-99-23z" fill="#4358cb"/>
<path d="m13302 4001l100 22 56-35-100-23z" fill="#445acc"/>
<path d="m13402 4023l99 24 56-35-99-24z" fill="#445acc"/>
<path d="m13501 4047l100 24 56-33-100-26z" fill="#445acc"/>
<path d="m13601 4071l100 23 56-29-100-27z" fill="#455cce"/>
<path d="m13701 4094l101 24 55-27-100-26z" fill="#455cce"/>
<path d="m13802 4118l101 25 55-27-101-25z" fill="#455cce"/>
<path d="m13903 4143l100 25 55-25-100-27z" fill="#455cce"/>
<path d="m14003 4168l101 27 55-23-101-29z" fill="#455cce"/>
<path d="m14104 4195l102 31 54-24-101-30z" fill="#455cce"/>
<path d="m14206 4226l101 35 54-28-101-31z" fill="#455cce"/>
<path d="m14307 4261l101 34 55-31-102-31z" fill="#455cce"/>
<path d="m14408 4295l102 34 55-36-102-29z" fill="#455cce"/>
<path d="m14510 4329l102 34 54-38-101-32z" fill="#455cce"/>
<path d="m14612 4363l102 35 54-39-102-34z" fill="#445acc"/>
<path d="m14714 4398l103 36 54-40-103-35z" fill="#445acc"/>
<path d="m14817 4434l102 36 54-41-102-35z" fill="#4358cb"/>
<path d="m14919 4470l103 36 54-42-103-35z" fill="#4358cb"/>
<path d="m15022 4506l103 36 54-43-103-35z" fill="#4358cb"/>
<path d="m15125 4542l103 36 54-42-103-37z" fill="#4257c9"/>
<path d="m15228 4578l103 37 54-43-103-36z" fill="#4257c9"/>
<path d="m15331 4615l104 38 53-44-103-37z" fill="#4055c8"/>
<path d="m15435 4653l104 37 53-44-104-37z" fill="#4055c8"/>
<path d="m15539 4690l104 37 53-45-104-36z" fill="#3f53c6"/>
<path d="m15643 4727l104 37 53-46-104-36z" fill="#3f53c6"/>
<path d="m15747 4764l104 38 53-47-104-37z" fill="#3e51c5"/>
<path d="m15851 4802l105 36 53-47-105-36z" fill="#3e51c5"/>
<path d="m15956 4838l105 37 52-49-104-35z" fill="#3d50c3"/>
<path d="m16061 4875l105 36 52-49-105-36z" fill="#3d50c3"/>
<path d="m16166 4911l105 35 53-49-106-35z" fill="#3d50c3"/>
<path d="m12165 3806l97 21 58-42-97-21z" fill="#3e51c5"/>
<path d="m12262 3827l97 21 58-41-97-22z" fill="#3e51c5"/>
<path d="m12359 3848l98 21 57-41-97-21z" fill="#3f53c6"/>
<path d="m12457 3869l98 21 57-41-98-21z" fill="#3f53c6"/>
<path d="m12555 3890l98 20 57-39-98-22z" fill="#4055c8"/>
<path d="m12653 3910l98 21 57-39-98-21z" fill="#4257c9"/>
<path d="m12751 3931l99 21 56-38-98-22z" fill="#4257c9"/>
<path d="m12850 3952l98 21 57-37-99-22z" fill="#4358cb"/>
<path d="m12948 3973l99 21 57-36-99-22z" fill="#4358cb"/>
<path d="m13047 3994l99 19 57-34-99-21z" fill="#445acc"/>
<path d="m13146 4013l100 18 56-30-99-22z" fill="#445acc"/>
<path d="m13246 4031l99 17 57-25-100-22z" fill="#455cce"/>
<path d="m13345 4048l100 17 56-18-99-24z" fill="#455cce"/>
<path d="m13445 4065l101 16 55-10-100-24z" fill="#465ecf"/>
<path d="m13546 4081l100 13 55 0-100-23z" fill="#485fd1"/>
<path d="m13646 4094l101 14 55 10-101-24z" fill="#4961d2"/>
<path d="m13747 4108l101 20 55 15-101-25z" fill="#4961d2"/>
<path d="m13848 4128l101 21 54 19-100-25z" fill="#4a63d3"/>
<path d="m13949 4149l101 26 54 20-101-27z" fill="#4a63d3"/>
<path d="m14050 4175l101 39 55 12-102-31z" fill="#4a63d3"/>
<path d="m14151 4214l102 45 54 2-101-35z" fill="#4961d2"/>
<path d="m14253 4259l101 44 54-8-101-34z" fill="#485fd1"/>
<path d="m14354 4303l102 46 54-20-102-34z" fill="#485fd1"/>
<path d="m14456 4349l102 44 54-30-102-34z" fill="#465ecf"/>
<path d="m14558 4393l102 41 54-36-102-35z" fill="#455cce"/>
<path d="m14660 4434l102 40 55-40-103-36z" fill="#455cce"/>
<path d="m14762 4474l103 37 54-41-102-36z" fill="#445acc"/>
<path d="m14865 4511l103 37 54-42-103-36z" fill="#445acc"/>
<path d="m14968 4548l103 37 54-43-103-36z" fill="#4358cb"/>
<path d="m15071 4585l103 37 54-44-103-36z" fill="#4358cb"/>
<path d="m15174 4622l104 38 53-45-103-37z" fill="#4257c9"/>
<path d="m15278 4660l103 37 54-44-104-38z" fill="#4257c9"/>
<path d="m15381 4697l104 37 54-44-104-37z" fill="#4055c8"/>
<path d="m15485 4734l104 38 54-45-104-37z" fill="#4055c8"/>
<path d="m15589 4772l105 39 53-47-104-37z" fill="#3f53c6"/>
<path d="m15694 4811l104 37 53-46-104-38z" fill="#3f53c6"/>
<path d="m15798 4848l105 38 53-48-105-36z" fill="#3e51c5"/>
<path d="m15903 4886l105 37 53-48-105-37z" fill="#3e51c5"/>
<path d="m16008 4923l105 37 53-49-105-36z" fill="#3d50c3"/>
<path d="m16113 4960l106 36 52-50-105-35z" fill="#3d50c3"/>
<path d="m12107 3848l97 21 58-42-97-21z" fill="#3e51c5"/>
<path d="m12204 3869l98 20 57-41-97-21z" fill="#3f53c6"/>
<path d="m12302 3889l97 21 58-41-98-21z" fill="#4055c8"/>
<path d="m12399 3910l98 20 58-40-98-21z" fill="#4055c8"/>
<path d="m12497 3930l98 19 58-39-98-20z" fill="#4257c9"/>
<path d="m12595 3949l99 20 57-38-98-21z" fill="#4257c9"/>
<path d="m12694 3969l98 20 58-37-99-21z" fill="#4358cb"/>
<path d="m12792 3989l99 19 57-35-98-21z" fill="#4358cb"/>
<path d="m12891 4008l99 18 57-32-99-21z" fill="#445acc"/>
<path d="m12990 4026l100 14 56-27-99-19z" fill="#455cce"/>
<path d="m13090 4040l99 6 57-15-100-18z" fill="#465ecf"/>
<path d="m13189 4046l100-2 56 4-99-17z" fill="#485fd1"/>
<path d="m13289 4044l101-9 55 30-100-17z" fill="#4a63d3"/>
<path d="m13390 4035l100-15 56 61-101-16z" fill="#4c66d6"/>
<path d="m13490 4020l101-21 55 95-100-13z" fill="#4f69d9"/>
<path d="m13591 3999l102-16 54 125-101-14z" fill="#516ddb"/>
<path d="m13693 3983l101 4 54 141-101-20z" fill="#5470de"/>
<path d="m13794 3987l102 15 53 147-101-21z" fill="#5572df"/>
<path d="m13896 4002l101 34 53 139-101-26z" fill="#5572df"/>
<path d="m13997 4036l102 62 52 116-101-39z" fill="#5572df"/>
<path d="m14099 4098l101 69 53 92-102-45z" fill="#536edd"/>
<path d="m14200 4167l101 67 53 69-101-44z" fill="#506bda"/>
<path d="m14301 4234l101 77 54 38-102-46z" fill="#4e68d8"/>
<path d="m14402 4311l102 76 54 6-102-44z" fill="#4b64d5"/>
<path d="m14504 4387l102 63 54-16-102-41z" fill="#4961d2"/>
<path d="m14606 4450l102 54 54-30-102-40z" fill="#465ecf"/>
<path d="m14708 4504l103 44 54-37-103-37z" fill="#455cce"/>
<path d="m14811 4548l103 40 54-40-103-37z" fill="#455cce"/>
<path d="m14914 4588l103 39 54-42-103-37z" fill="#445acc"/>
<path d="m15017 4627l103 38 54-43-103-37z" fill="#4358cb"/>
<path d="m15120 4665l104 39 54-44-104-38z" fill="#4358cb"/>
<path d="m15224 4704l104 37 53-44-103-37z" fill="#4257c9"/>
<path d="m15328 4741l104 37 53-44-104-37z" fill="#4257c9"/>
<path d="m15432 4778l104 39 53-45-104-38z" fill="#4055c8"/>
<path d="m15536 4817l104 40 54-46-105-39z" fill="#4055c8"/>
<path d="m15640 4857l105 38 53-47-104-37z" fill="#3f53c6"/>
<path d="m15745 4895l105 39 53-48-105-38z" fill="#3e51c5"/>
<path d="m15850 4934l105 38 53-49-105-37z" fill="#3e51c5"/>
<path d="m15955 4972l105 37 53-49-105-37z" fill="#3d50c3"/>
<path d="m16060 5009l106 37 53-50-106-36z" fill="#3d50c3"/>
<path d="m12049 3891l97 19 58-41-97-21z" fill="#3f53c6"/>
<path d="m12146 3910l98 21 58-42-98-20z" fill="#4055c8"/>
<path d="m12244 3931l97 20 58-41-97-21z" fill="#4055c8"/>
<path d="m12341 3951l98 19 58-40-98-20z" fill="#4257c9"/>
<path d="m12439 3970l99 19 57-40-98-19z" fill="#4257c9"/>
<path d="m12538 3989l98 20 58-40-99-20z" fill="#4358cb"/>
<path d="m12636 4009l99 17 57-37-98-20z" fill="#445acc"/>
<path d="m12735 4026l99 13 57-31-99-19z" fill="#455cce"/>
<path d="m12834 4039l99 5 57-18-99-18z" fill="#465ecf"/>
<path d="m12933 4044l100-9 57 5-100-14z" fill="#485fd1"/>
<path d="m13033 4035l100-29 56 40-99-6z" fill="#4b64d5"/>
<path d="m13133 4006l100-54 56 92-100 2z" fill="#4f69d9"/>
<path d="m13233 3952l102-72 55 155-101 9z" fill="#5572df"/>
</g>
<g stroke-opacity="0.16">
<path d="m13335 3880l101-87 54 227-100 15z" fill="#5b7ae5"/>
<path d="m13436 3793l103-92 52 298-101 21z" fill="#6384eb"/>
<path d="m13539 3701l102-75 52 357-102 16z" fill="#6a8bef"/>
<path d="m13641 3626l103-22 50 383-101-4z" fill="#6f92f3"/>
<path d="m13744 3604l102 17 50 381-102-15z" fill="#7295f4"/>
<path d="m13846 3621l102 50 49 365-101-34z" fill="#7295f4"/>
<path d="m13948 3671l101 90 50 337-102-62z" fill="#6f92f3"/>
<path d="m14049 3761l101 110 50 296-101-69z" fill="#6a8bef"/>
<path d="m14150 3871l101 128 50 235-101-67z" fill="#6485ec"/>
<path d="m14251 3999l101 148 50 164-101-77z" fill="#5d7ce6"/>
</g>
<g stroke-opacity="0.26">
<path d="m14352 4147l100 144 52 96-102-76z" fill="#5673e0"/>
<path d="m14452 4291l101 117 53 42-102-63z" fill="#506bda"/>
<path d="m14553 4408l101 90 54 6-102-54z" fill="#4b64d5"/>
<path d="m14654 4498l103 71 54-21-103-44z" fill="#485fd1"/>
<path d="m14757 4569l102 54 55-35-103-40z" fill="#465ecf"/>
<path d="m14859 4623l104 43 54-39-103-39z" fill="#455cce"/>
<path d="m14963 4666l103 41 54-42-103-38z" fill="#445acc"/>
<path d="m15066 4707l104 41 54-44-104-39z" fill="#4358cb"/>
<path d="m15170 4748l104 38 54-45-104-37z" fill="#4358cb"/>
<path d="m15274 4786l104 38 54-46-104-37z" fill="#4257c9"/>
<path d="m15378 4824l104 39 54-46-104-39z" fill="#4257c9"/>
<path d="m15482 4863l105 40 53-46-104-40z" fill="#4055c8"/>
<path d="m15587 4903l105 40 53-48-105-38z" fill="#3f53c6"/>
<path d="m15692 4943l105 39 53-48-105-39z" fill="#3f53c6"/>
<path d="m15797 4982l105 38 53-48-105-38z" fill="#3e51c5"/>
<path d="m15902 5020l105 39 53-50-105-37z" fill="#3e51c5"/>
<path d="m16007 5059l106 37 53-50-106-37z" fill="#3d50c3"/>
<path d="m11990 3933l98 19 58-42-97-19z" fill="#3f53c6"/>
<path d="m12088 3952l97 20 59-41-98-21z" fill="#4055c8"/>
<path d="m12185 3972l98 21 58-42-97-20z" fill="#4257c9"/>
<path d="m12283 3993l98 18 58-41-98-19z" fill="#4257c9"/>
<path d="m12381 4011l99 19 58-41-99-19z" fill="#4358cb"/>
<path d="m12480 4030l98 17 58-38-98-20z" fill="#445acc"/>
<path d="m12578 4047l99 9 58-30-99-17z" fill="#455cce"/>
<path d="m12677 4056l99-3 58-14-99-13z" fill="#465ecf"/>
<path d="m12776 4053l100-27 57 18-99-5z" fill="#4961d2"/>
<path d="m12876 4026l100-70 57 79-100 9z" fill="#4e68d8"/>
<path d="m12976 3956l101-115 56 165-100 29z" fill="#5572df"/>
</g>
<g stroke-opacity="0.16">
<path d="m13077 3841l101-152 55 263-100 54z" fill="#6180e9"/>
<path d="m13178 3689l103-175 54 366-102 72z" fill="#6e90f2"/>
<path d="m13281 3514l103-190 52 469-101 87z" fill="#7da0f9"/>
<path d="m13384 3324l104-197 51 574-103 92z" fill="#8db0fe"/>
<path d="m13488 3127l104-140 49 639-102 75z" fill="#9dbdff"/>
<path d="m13592 2987l104-51 48 668-103 22z" fill="#a6c4fe"/>
<path d="m13696 2936l103 20 47 665-102-17z" fill="#aac7fd"/>
<path d="m13799 2956l103 61 46 654-102-50z" fill="#a9c6fd"/>
<path d="m13902 3017l102 122 45 622-101-90z" fill="#a3c2fe"/>
<path d="m14004 3139l101 153 45 579-101-110z" fill="#9bbcff"/>
<path d="m14105 3292l100 214 46 493-101-128z" fill="#90b2fe"/>
<path d="m14205 3506l99 266 48 375-101-148z" fill="#80a3fa"/>
<path d="m14304 3772l99 249 49 270-100-144z" fill="#6f92f3"/>
<path d="m14403 4021l99 219 51 168-101-117z" fill="#6180e9"/>
</g>
<g stroke-opacity="0.26">
<path d="m14502 4240l100 179 52 79-101-90z" fill="#5673e0"/>
<path d="m14602 4419l101 132 54 18-103-71z" fill="#4f69d9"/>
<path d="m14703 4551l102 90 54-18-102-54z" fill="#4a63d3"/>
<path d="m14805 4641l103 61 55-36-104-43z" fill="#465ecf"/>
<path d="m14908 4702l104 48 54-43-103-41z" fill="#455cce"/>
<path d="m15012 4750l103 41 55-43-104-41z" fill="#445acc"/>
<path d="m15115 4791l105 39 54-44-104-38z" fill="#4358cb"/>
<path d="m15220 4830l104 39 54-45-104-38z" fill="#4358cb"/>
<path d="m15324 4869l104 41 54-47-104-39z" fill="#4257c9"/>
<path d="m15428 4910l105 41 54-48-105-40z" fill="#4257c9"/>
<path d="m15533 4951l105 39 54-47-105-40z" fill="#4055c8"/>
<path d="m15638 4990l105 40 54-48-105-39z" fill="#3f53c6"/>
<path d="m15743 5030l105 40 54-50-105-38z" fill="#3f53c6"/>
<path d="m15848 5070l106 38 53-49-105-39z" fill="#3e51c5"/>
<path d="m15954 5108l106 39 53-51-106-37z" fill="#3e51c5"/>
<path d="m11931 3975l98 19 59-42-98-19z" fill="#4055c8"/>
<path d="m12029 3994l98 20 58-42-97-20z" fill="#4257c9"/>
<path d="m12127 4014l98 20 58-41-98-21z" fill="#4257c9"/>
<path d="m12225 4034l98 17 58-40-98-18z" fill="#4358cb"/>
<path d="m12323 4051l99 16 58-37-99-19z" fill="#445acc"/>
<path d="m12422 4067l98 7 58-27-98-17z" fill="#455cce"/>
<path d="m12520 4074l99-13 58-5-99-9z" fill="#465ecf"/>
<path d="m12619 4061l100-46 57 38-99 3z" fill="#4b64d5"/>
<path d="m12719 4015l100-101 57 112-100 27z" fill="#516ddb"/>
</g>
<g stroke-opacity="0.16">
<path d="m12819 3914l100-182 57 224-100 70z" fill="#5d7ce6"/>
<path d="m12919 3732l102-242 56 351-101 115z" fill="#6e90f2"/>
<path d="m13021 3490l103-273 54 472-101 152z" fill="#82a6fb"/>
<path d="m13124 3217l104-295 53 592-103 175z" fill="#9bbcff"/>
<path d="m13228 2922l105-297 51 699-103 190z" fill="#b5cdfa"/>
<path d="m13333 2625l105-254 50 756-104 197z" fill="#cbd8ee"/>
<path d="m13438 2371l106-160 48 776-104 140z" fill="#dbdcde"/>
<path d="m13544 2211l105-77 47 802-104 51z" fill="#e4d9d2"/>
<path d="m13649 2134l104-7 46 829-103-20z" fill="#e8d6cc"/>
<path d="m13753 2127l105 59 44 831-103-61z" fill="#e8d6cc"/>
<path d="m13858 2186l103 128 43 825-102-122z" fill="#e3d9d3"/>
<path d="m13961 2314l102 180 42 798-101-153z" fill="#dbdcde"/>
<path d="m14063 2494l101 266 41 746-100-214z" fill="#cedaeb"/>
<path d="m14164 2760l97 378 43 634-99-266z" fill="#bad0f8"/>
<path d="m14261 3138l98 385 44 498-99-249z" fill="#9fbfff"/>
<path d="m14359 3523l97 365 46 352-99-219z" fill="#85a8fc"/>
<path d="m14456 3888l97 321 49 210-100-179z" fill="#6e90f2"/>
<path d="m14553 4209l98 246 52 96-101-132z" fill="#5b7ae5"/>
</g>
<g stroke-opacity="0.26">
<path d="m14651 4455l101 165 53 21-102-90z" fill="#506bda"/>
<path d="m14752 4620l102 102 54-20-103-61z" fill="#4a63d3"/>
<path d="m14854 4722l103 65 55-37-104-48z" fill="#465ecf"/>
<path d="m14957 4787l104 47 54-43-103-41z" fill="#455cce"/>
<path d="m15061 4834l104 41 55-45-105-39z" fill="#445acc"/>
<path d="m15165 4875l105 40 54-46-104-39z" fill="#4358cb"/>
<path d="m15270 4915l104 41 54-46-104-41z" fill="#4358cb"/>
<path d="m15374 4956l105 42 54-47-105-41z" fill="#4257c9"/>
<path d="m15479 4998l105 41 54-49-105-39z" fill="#4055c8"/>
<path d="m15584 5039l105 40 54-49-105-40z" fill="#4055c8"/>
<path d="m15689 5079l106 40 53-49-105-40z" fill="#3f53c6"/>
<path d="m15795 5119l106 39 53-50-106-38z" fill="#3e51c5"/>
<path d="m15901 5158l106 39 53-50-106-39z" fill="#3e51c5"/>
<path d="m11873 4017l97 19 59-42-98-19z" fill="#4257c9"/>
<path d="m11970 4036l98 19 59-41-98-20z" fill="#4257c9"/>
<path d="m12068 4055l98 19 59-40-98-20z" fill="#4358cb"/>
<path d="m12166 4074l99 15 58-38-98-17z" fill="#445acc"/>
<path d="m12265 4089l98 4 59-26-99-16z" fill="#455cce"/>
<path d="m12363 4093l99-16 58-3-98-7z" fill="#485fd1"/>
<path d="m12462 4077l99-61 58 45-99 13z" fill="#4b64d5"/>
<path d="m12561 4016l100-134 58 133-100 46z" fill="#5470de"/>
</g>
<g stroke-opacity="0.16">
<path d="m12661 3882l100-238 58 270-100 101z" fill="#6282ea"/>
<path d="m12761 3644l102-344 56 432-100 182z" fill="#7a9df8"/>
<path d="m12863 3300l102-400 56 590-102 242z" fill="#98b9ff"/>
<path d="m12965 2900l104-402 55 719-103 273z" fill="#bad0f8"/>
<path d="m13069 2498l106-370 53 794-104 295z" fill="#d7dce3"/>
</g>
<g stroke-opacity="0.09">
<path d="m13175 2128l106-316 52 813-105 297z" fill="#edd1c2"/>
<path d="m13281 1812l106-223 51 782-105 254z" fill="#f7bca1"/>
<path d="m13387 1589l106-116 51 738-106 160z" fill="#f7a98b"/>
<path d="m13493 1473l106-46 50 707-105 77z" fill="#f59c7d"/>
<path d="m13599 1427l106-5 48 705-104 7z" fill="#f39577"/>
<path d="m13705 1422l105 31 48 733-105-59z" fill="#f39577"/>
<path d="m13810 1453l105 75 46 786-103-128z" fill="#f49a7b"/>
<path d="m13915 1528l104 168 44 798-102-180z" fill="#f6a586"/>
<path d="m14019 1696l102 285 43 779-101-266z" fill="#f7b79b"/>
<path d="m14121 1981l99 407 41 750-97-378z" fill="#f0cdbb"/>
</g>
<g stroke-opacity="0.16">
<path d="m14220 2388l97 457 42 678-98-385z" fill="#d9dce1"/>
<path d="m14317 2845l95 500 44 543-97-365z" fill="#bad0f8"/>
<path d="m14412 3345l95 482 46 382-97-321z" fill="#96b7ff"/>
<path d="m14507 3827l95 410 49 218-98-246z" fill="#7699f6"/>
<path d="m14602 4237l98 289 52 94-101-165z" fill="#5f7fe8"/>
</g>
<g stroke-opacity="0.26">
<path d="m14700 4526l100 182 54 14-102-102z" fill="#516ddb"/>
<path d="m14800 4708l103 103 54-24-103-65z" fill="#4a63d3"/>
<path d="m14903 4811l103 62 55-39-104-47z" fill="#465ecf"/>
<path d="m15006 4873l105 47 54-45-104-41z" fill="#455cce"/>
<path d="m15111 4920l104 42 55-47-105-40z" fill="#445acc"/>
<path d="m15215 4962l105 41 54-47-104-41z" fill="#4358cb"/>
<path d="m15320 5003l105 42 54-47-105-42z" fill="#4257c9"/>
<path d="m15425 5045l105 42 54-48-105-41z" fill="#4257c9"/>
<path d="m15530 5087l105 40 54-48-105-40z" fill="#4055c8"/>
<path d="m15635 5127l106 41 54-49-106-40z" fill="#3f53c6"/>
<path d="m15741 5168l106 41 54-51-106-39z" fill="#3f53c6"/>
<path d="m15847 5209l106 39 54-51-106-39z" fill="#3e51c5"/>
<path d="m11813 4060l98 17 59-41-97-19z" fill="#4257c9"/>
<path d="m11911 4077l98 18 59-40-98-19z" fill="#4358cb"/>
<path d="m12009 4095l99 17 58-38-98-19z" fill="#445acc"/>
<path d="m12108 4112l98 7 59-30-99-15z" fill="#455cce"/>
<path d="m12206 4119l99-18 58-8-98-4z" fill="#485fd1"/>
<path d="m12305 4101l98-64 59 40-99 16z" fill="#4b64d5"/>
<path d="m12403 4037l100-148 58 127-99 61z" fill="#5572df"/>
</g>
<g stroke-opacity="0.16">
<path d="m12503 3889l99-275 59 268-100 134z" fill="#6687ed"/>
<path d="m12602 3614l101-414 58 444-100 238z" fill="#82a6fb"/>
<path d="m12703 3200l102-488 58 588-102 344z" fill="#a9c6fd"/>
<path d="m12805 2712l104-516 56 704-102 400z" fill="#d1dae9"/>
</g>
<g stroke-opacity="0.09">
<path d="m12909 2196l105-475 55 777-104 402z" fill="#efcebd"/>
<path d="m13014 1721l106-319 55 726-106 370z" fill="#f7af91"/>
<path d="m13120 1402l107-269 54 679-106 316z" fill="#f08b6e"/>
<path d="m13227 1133l106-175 54 631-106 223z" fill="#e26952"/>
<path d="m13333 958l106 12 54 503-106 116z" fill="#d75445"/>
<path d="m13439 970l106 31 54 426-106 46z" fill="#d24b40"/>
<path d="m13545 1001l106 14 54 407-106 5z" fill="#d1493f"/>
<path d="m13651 1015l107 3 52 435-105-31z" fill="#cf453c"/>
<path d="m13758 1018l107-1 50 511-105-75z" fill="#cf453c"/>
<path d="m13865 1017l106 75 48 604-104-168z" fill="#d44e41"/>
<path d="m13971 1092l104 219 46 670-102-285z" fill="#df634e"/>
<path d="m14075 1311l101 361 44 716-99-407z" fill="#ef886b"/>
<path d="m14176 1672l98 469 43 704-97-457z" fill="#f7b093"/>
<path d="m14274 2141l95 572 43 632-95-500z" fill="#ecd3c5"/>
</g>
<g stroke-opacity="0.16">
<path d="m14369 2713l94 614 44 500-95-482z" fill="#c9d7f0"/>
<path d="m14463 3327l92 579 47 331-95-410z" fill="#9dbdff"/>
<path d="m14555 3906l95 445 50 175-98-289z" fill="#779af7"/>
<path d="m14650 4351l98 296 52 61-100-182z" fill="#5d7ce6"/>
</g>
<g stroke-opacity="0.26">
<path d="m14748 4647l101 165 54-1-103-103z" fill="#4f69d9"/>
<path d="m14849 4812l103 92 54-31-103-62z" fill="#4961d2"/>
<path d="m14952 4904l104 59 55-43-105-47z" fill="#465ecf"/>
<path d="m15056 4963l104 45 55-46-104-42z" fill="#455cce"/>
<path d="m15160 5008l105 43 55-48-105-41z" fill="#445acc"/>
<path d="m15265 5051l105 42 55-48-105-42z" fill="#4358cb"/>
<path d="m15370 5093l106 43 54-49-105-42z" fill="#4257c9"/>
<path d="m15476 5136l105 41 54-50-105-40z" fill="#4055c8"/>
<path d="m15581 5177l106 42 54-51-106-41z" fill="#4055c8"/>
<path d="m15687 5219l106 41 54-51-106-41z" fill="#3f53c6"/>
<path d="m15793 5260l106 40 54-52-106-39z" fill="#3e51c5"/>
<path d="m11754 4103l98 16 59-42-98-17z" fill="#4358cb"/>
<path d="m11852 4119l98 17 59-41-98-18z" fill="#445acc"/>
<path d="m11950 4136l98 12 60-36-99-17z" fill="#445acc"/>
<path d="m12048 4148l99-9 59-20-98-7z" fill="#465ecf"/>
<path d="m12147 4139l98-56 60 18-99 18z" fill="#4b64d5"/>
<path d="m12245 4083l99-141 59 95-98 64z" fill="#5470de"/>
</g>
<g stroke-opacity="0.16">
<path d="m12344 3942l99-276 60 223-100 148z" fill="#6485ec"/>
<path d="m12443 3666l100-430 59 378-99 275z" fill="#82a6fb"/>
<path d="m12543 3236l101-544 59 508-101 414z" fill="#adc9fd"/>
<path d="m12644 2692l103-548 58 568-102 488z" fill="#d9dce1"/>
</g>
<g stroke-opacity="0.09">
<path d="m12747 2144l104-551 58 603-104 516z" fill="#f5c2aa"/>
<path d="m12851 1593l106-472 57 600-105 475z" fill="#f29072"/>
<path d="m12957 1121l105-146 58 427-106 319z" fill="#de614d"/>
<path d="m13062 975l106-95 59 253-107 269z" fill="#cc403a"/>
<path d="m13168 880l107-99 58 177-106 175z" fill="#ba162b"/>
<path d="m13275 781l105 114 59 75-106-12z" fill="#b40426"/>
<path d="m13380 895l106 90 59 16-106-31z" fill="#b70d28"/>
<path d="m13486 985l106 13 59 17-106-14z" fill="#b8122a"/>
<path d="m13592 998l107-8 59 28-107-3z" fill="#b70d28"/>
<path d="m13699 990l108-50 58 77-107 1z" fill="#b40426"/>
<path d="m13807 940l108-32 56 184-106-75z" fill="#b40426"/>
<path d="m13915 908l107 75 53 328-104-219z" fill="#b50927"/>
<path d="m14022 983l105 216 49 473-101-361z" fill="#c73635"/>
<path d="m14127 1199l100 392 47 550-98-469z" fill="#e16751"/>
<path d="m14227 1591l97 557 45 565-95-572z" fill="#f59d7e"/>
<path d="m14324 2148l93 678 46 501-94-614z" fill="#f0cdbb"/>
</g>
<g stroke-opacity="0.16">
<path d="m14417 2826l92 697 46 383-92-579z" fill="#c7d7f0"/>
<path d="m14509 3523l92 584 49 244-95-445z" fill="#97b8ff"/>
<path d="m14601 4107l95 422 52 118-98-296z" fill="#7093f3"/>
</g>
<g stroke-opacity="0.26">
<path d="m14696 4529l99 253 54 30-101-165z" fill="#5977e3"/>
<path d="m14795 4782l102 141 55-19-103-92z" fill="#4e68d8"/>
<path d="m14897 4923l104 78 55-38-104-59z" fill="#485fd1"/>
<path d="m15001 5001l105 53 54-46-104-45z" fill="#455cce"/>
<path d="m15106 5054l105 45 54-48-105-43z" fill="#445acc"/>
<path d="m15211 5099l105 43 54-49-105-42z" fill="#4358cb"/>
<path d="m15316 5142l105 44 55-50-106-43z" fill="#4257c9"/>
<path d="m15421 5186l106 42 54-51-105-41z" fill="#4257c9"/>
<path d="m15527 5228l106 42 54-51-106-42z" fill="#4055c8"/>
<path d="m15633 5270l106 41 54-51-106-41z" fill="#3f53c6"/>
<path d="m15739 5311l106 41 54-52-106-40z" fill="#3e51c5"/>
<path d="m11694 4147l98 16 60-44-98-16z" fill="#4358cb"/>
<path d="m11792 4163l99 14 59-41-98-17z" fill="#445acc"/>
<path d="m11891 4177l98 3 59-32-98-12z" fill="#455cce"/>
<path d="m11989 4180l98-39 60-2-99 9z" fill="#4961d2"/>
<path d="m12087 4141l99-120 59 62-98 56z" fill="#506bda"/>
</g>
<g stroke-opacity="0.16">
<path d="m12186 4021l98-243 60 164-99 141z" fill="#5f7fe8"/>
<path d="m12284 3778l99-409 60 297-99 276z" fill="#7b9ff9"/>
<path d="m12383 3369l100-561 60 428-100 430z" fill="#a7c5fe"/>
<path d="m12483 2808l101-584 60 468-101 544z" fill="#d6dce4"/>
</g>
<g stroke-opacity="0.09">
<path d="m12584 2224l103-525 60 445-103 548z" fill="#f5c2aa"/>
<path d="m12687 1699l105-459 59 353-104 551z" fill="#f18f71"/>
<path d="m12792 1240l105-352 60 233-106 472z" fill="#d65244"/>
<path d="m12897 888l106-29 59 116-105 146z" fill="#bd1f2d"/>
<path d="m13003 859l105 81 60-60-106 95z" fill="#b50927"/>
<path d="m13108 940l106 55 61-214-107 99z" fill="#b40426"/>
<path d="m13214 995l105 109 61-209-105-114z" fill="#b40426"/>
<path d="m13319 1104l106 64 61-183-106-90z" fill="#ba162b"/>
<path d="m13425 1168l106 37 61-207-106-13z" fill="#bd1f2d"/>
<path d="m13531 1205l107 13 61-228-107 8z" fill="#bb1b2c"/>
<path d="m13638 1218l107-48 62-230-108 50z" fill="#b70d28"/>
<path d="m13745 1170l109-76 61-186-108 32z" fill="#b40426"/>
<path d="m13854 1094l109-43 59-68-107-75z" fill="#b40426"/>
<path d="m13963 1051l107 57 57 91-105-216z" fill="#b40426"/>
<path d="m14070 1108l104 253 53 230-100-392z" fill="#c32e31"/>
<path d="m14174 1361l100 448 50 339-97-557z" fill="#e16751"/>
<path d="m14274 1809l95 633 48 384-93-678z" fill="#f7a688"/>
</g>
<g stroke-opacity="0.16">
<path d="m14369 2442l93 679 47 402-92-697z" fill="#e9d5cb"/>
<path d="m14462 3121l91 669 48 317-92-584z" fill="#bbd1f8"/>
<path d="m14553 3790l93 578 50 161-95-422z" fill="#89acfd"/>
<path d="m14646 4368l96 362 53 52-99-253z" fill="#6687ed"/>
</g>
<g stroke-opacity="0.26">
<path d="m14742 4730l101 202 54-9-102-141z" fill="#536edd"/>
<path d="m14843 4932l103 107 55-38-104-78z" fill="#4a63d3"/>
<path d="m14946 5039l104 62 56-47-105-53z" fill="#465ecf"/>
<path d="m15050 5101l105 48 56-50-105-45z" fill="#455cce"/>
<path d="m15155 5149l106 44 55-51-105-43z" fill="#445acc"/>
<path d="m15261 5193l105 43 55-50-105-44z" fill="#4358cb"/>
<path d="m15366 5236l106 44 55-52-106-42z" fill="#4257c9"/>
<path d="m15472 5280l106 42 55-52-106-42z" fill="#4055c8"/>
<path d="m15578 5322l107 41 54-52-106-41z" fill="#3f53c6"/>
<path d="m15685 5363l106 41 54-52-106-41z" fill="#3f53c6"/>
<path d="m11635 4192l98 14 59-43-98-16z" fill="#445acc"/>
<path d="m11733 4206l98 8 60-37-99-14z" fill="#455cce"/>
<path d="m11831 4214l98-16 60-18-98-3z" fill="#485fd1"/>
<path d="m11929 4198l99-86 59 29-98 39z" fill="#4c66d6"/>
</g>
<g stroke-opacity="0.16">
<path d="m12028 4112l97-203 61 112-99 120z" fill="#5977e3"/>
<path d="m12125 3909l98-368 61 237-98 243z" fill="#7295f4"/>
<path d="m12223 3541l99-551 61 379-99 409z" fill="#9bbcff"/>
<path d="m12322 2990l99-646 62 464-100 561z" fill="#cdd9ec"/>
</g>
<g stroke-opacity="0.09">
<path d="m12421 2344l102-588 61 468-101 584z" fill="#f3c8b2"/>
<path d="m12523 1756l103-355 61 298-103 525z" fill="#f39778"/>
<path d="m12626 1401l105-214 61 53-105 459z" fill="#e16751"/>
<path d="m12731 1187l105-147 61-152-105 352z" fill="#c73635"/>
<path d="m12836 1040l105 15 62-196-106 29z" fill="#b8122a"/>
<path d="m12941 1055l105 131 62-246-105-81z" fill="#bb1b2c"/>
<path d="m13046 1186l105 139 63-330-106-55z" fill="#c32e31"/>
<path d="m13151 1325l106 82 62-303-105-109z" fill="#c83836"/>
<path d="m13257 1407l105 50 63-289-106-64z" fill="#cc403a"/>
<path d="m13362 1457l106 50 63-302-106-37z" fill="#cf453c"/>
<path d="m13468 1507l107 4 63-293-107-13z" fill="#cf453c"/>
<path d="m13575 1511l107-44 63-297-107 48z" fill="#cb3e38"/>
<path d="m13682 1467l109-76 63-297-109 76z" fill="#c32e31"/>
<path d="m13791 1391l109-65 63-275-109 43z" fill="#ba162b"/>
<path d="m13900 1326l108-19 62-199-107-57z" fill="#b50927"/>
<path d="m14008 1307l106 123 60-69-104-253z" fill="#bd1f2d"/>
<path d="m14114 1430l103 311 57 68-100-448z" fill="#d44e41"/>
<path d="m14217 1741l99 503 53 198-95-633z" fill="#ee8669"/>
<path d="m14316 2244l96 574 50 303-93-679z" fill="#f6bea4"/>
</g>
<g stroke-opacity="0.16">
<path d="m14412 2818l93 655 48 317-91-669z" fill="#d9dce1"/>
<path d="m14505 3473l90 686 51 209-93-578z" fill="#a6c4fe"/>
<path d="m14595 4159l95 487 52 84-96-362z" fill="#7699f6"/>
<path d="m14690 4646l99 281 54 5-101-202z" fill="#5a78e4"/>
</g>
<g stroke-opacity="0.26">
<path d="m14789 4927l102 145 55-33-103-107z" fill="#4e68d8"/>
<path d="m14891 5072l104 76 55-47-104-62z" fill="#485fd1"/>
<path d="m14995 5148l105 51 55-50-105-48z" fill="#455cce"/>
<path d="m15100 5199l106 45 55-51-106-44z" fill="#445acc"/>
<path d="m15206 5244l105 43 55-51-105-43z" fill="#4358cb"/>
<path d="m15311 5287l106 44 55-51-106-44z" fill="#4257c9"/>
<path d="m15417 5331l107 42 54-51-106-42z" fill="#4055c8"/>
<path d="m15524 5373l106 42 55-52-107-41z" fill="#4055c8"/>
<path d="m15630 5415l107 42 54-53-106-41z" fill="#3f53c6"/>
<path d="m11575 4238l98 10 60-42-98-14z" fill="#445acc"/>
<path d="m11673 4248l98-4 60-30-98-8z" fill="#465ecf"/>
<path d="m11771 4244l98-50 60 4-98 16z" fill="#4a63d3"/>
<path d="m11869 4194l98-152 61 70-99 86z" fill="#536edd"/>
</g>
<g stroke-opacity="0.16">
<path d="m11967 4042l97-303 61 170-97 203z" fill="#6788ee"/>
<path d="m12064 3739l97-487 62 289-98 368z" fill="#8badfd"/>
<path d="m12161 3252l98-612 63 350-99 551z" fill="#bcd2f7"/>
</g>
<g stroke-opacity="0.09">
<path d="m12259 2640l100-699 62 403-99 646z" fill="#ecd3c5"/>
<path d="m12359 1941l102-544 62 359-102 588z" fill="#f59f80"/>
<path d="m12461 1397l104-73 61 77-103 355z" fill="#e46e56"/>
<path d="m12565 1324l105 35 61-172-105 214z" fill="#d85646"/>
<path d="m12670 1359l105-15 61-304-105 147z" fill="#d0473d"/>
<path d="m12775 1344l105 45 61-334-105-15z" fill="#cb3e38"/>
<path d="m12880 1389l105 99 61-302-105-131z" fill="#cf453c"/>
<path d="m12985 1488l105 107 61-270-105-139z" fill="#d65244"/>
<path d="m13090 1595l105 63 62-251-106-82z" fill="#dc5d4a"/>
<path d="m13195 1658l106 63 61-264-105-50z" fill="#de614d"/>
<path d="m13301 1721l105 59 62-273-106-50z" fill="#e0654f"/>
<path d="m13406 1780l107 12 62-281-107-4z" fill="#e0654f"/>
<path d="m13513 1792l107-39 62-286-107 44z" fill="#dd5f4b"/>
<path d="m13620 1753l108-71 63-291-109 76z" fill="#d75445"/>
<path d="m13728 1682l108-50 64-306-109 65z" fill="#d0473d"/>
<path d="m13836 1632l109-33 63-292-108 19z" fill="#ca3b37"/>
<path d="m13945 1599l107 49 62-218-106-123z" fill="#ca3b37"/>
<path d="m14052 1648l105 204 60-111-103-311z" fill="#d65244"/>
<path d="m14157 1852l102 343 57 49-99-503z" fill="#e97a5f"/>
<path d="m14259 2195l99 461 54 162-96-574z" fill="#f7a98b"/>
<path d="m14358 2656l94 629 53 188-93-655z" fill="#ecd3c5"/>
</g>
<g stroke-opacity="0.16">
<path d="m14452 3285l92 694 51 180-90-686z" fill="#bfd3f6"/>
<path d="m14544 3979l93 571 53 96-95-487z" fill="#89acfd"/>
<path d="m14637 4550l97 360 55 17-99-281z" fill="#6485ec"/>
</g>
<g stroke-opacity="0.26">
<path d="m14734 4910l102 188 55-26-102-145z" fill="#516ddb"/>
<path d="m14836 5098l104 94 55-44-104-76z" fill="#4961d2"/>
<path d="m14940 5192l105 57 55-50-105-51z" fill="#455cce"/>
<path d="m15045 5249l105 46 56-51-106-45z" fill="#445acc"/>
<path d="m15150 5295l106 44 55-52-105-43z" fill="#4358cb"/>
<path d="m15256 5339l106 43 55-51-106-44z" fill="#4257c9"/>
<path d="m15362 5382l107 44 55-53-107-42z" fill="#4257c9"/>
<path d="m15469 5426l106 42 55-53-106-42z" fill="#4055c8"/>
<path d="m15575 5468l107 42 55-53-107-42z" fill="#3f53c6"/>
<path d="m11514 4281l99 7 60-40-98-10z" fill="#455cce"/>
<path d="m11613 4288l98-20 60-24-98 4z" fill="#485fd1"/>
<path d="m11711 4268l98-94 60 20-98 50z" fill="#4e68d8"/>
</g>
<g stroke-opacity="0.16">
<path d="m11809 4174l97-233 61 101-98 152z" fill="#5d7ce6"/>
<path d="m11906 3941l96-423 62 221-97 303z" fill="#799cf8"/>
<path d="m12002 3518l97-560 62 294-97 487z" fill="#a6c4fe"/>
<path d="m12099 2958l99-475 61 157-98 612z" fill="#d6dce4"/>
</g>
<g stroke-opacity="0.09">
<path d="m12198 2483l100-524 61-18-100 699z" fill="#f5c0a7"/>
<path d="m12298 1959l102-496 61-66-102 544z" fill="#ee8669"/>
<path d="m12400 1463l104 24 61-163-104 73z" fill="#de614d"/>
<path d="m12504 1487l105 118 61-246-105-35z" fill="#de614d"/>
<path d="m12609 1605l104 40 62-301-105 15z" fill="#df634e"/>
<path d="m12713 1645l105 39 62-295-105-45z" fill="#df634e"/>
<path d="m12818 1684l105 49 62-245-105-99z" fill="#e16751"/>
<path d="m12923 1733l106 51 61-189-105-107z" fill="#e46e56"/>
<path d="m13029 1784l105 44 61-170-105-63z" fill="#e67259"/>
<path d="m13134 1828l106 57 61-164-106-63z" fill="#e8765c"/>
<path d="m13240 1885l105 50 61-155-105-59z" fill="#e97a5f"/>
<path d="m13345 1935l106 40 62-183-107-12z" fill="#ea7b60"/>
<path d="m13451 1975l107 3 62-225-107 39z" fill="#e9785d"/>
<path d="m13558 1978l108-44 62-252-108 71z" fill="#e57058"/>
<path d="m13666 1934l108-37 62-265-108 50z" fill="#e16751"/>
<path d="m13774 1897l108-13 63-285-109 33z" fill="#dd5f4b"/>
<path d="m13882 1884l107 45 63-281-107-49z" fill="#dc5d4a"/>
<path d="m13989 1929l107 107 61-184-105-204z" fill="#e16751"/>
<path d="m14096 2036l104 211 59-52-102-343z" fill="#eb7d62"/>
<path d="m14200 2247l101 375 57 34-99-461z" fill="#f5a081"/>
<path d="m14301 2622l97 571 54 92-94-629z" fill="#f2c9b4"/>
</g>
<g stroke-opacity="0.16">
<path d="m14398 3193l93 654 53 132-92-694z" fill="#cedaeb"/>
<path d="m14491 3847l92 618 54 85-93-571z" fill="#9abbff"/>
<path d="m14583 4465l97 424 54 21-97-360z" fill="#6e90f2"/>
</g>
<g stroke-opacity="0.26">
<path d="m14680 4889l100 231 56-22-102-188z" fill="#5572df"/>
<path d="m14780 5120l104 117 56-45-104-94z" fill="#4b64d5"/>
<path d="m14884 5237l105 64 56-52-105-57z" fill="#465ecf"/>
<path d="m14989 5301l106 46 55-52-105-46z" fill="#445acc"/>
<path d="m15095 5347l106 43 55-51-106-44z" fill="#4358cb"/>
<path d="m15201 5390l106 44 55-52-106-43z" fill="#4358cb"/>
<path d="m15307 5434l106 45 56-53-107-44z" fill="#4257c9"/>
<path d="m15413 5479l107 43 55-54-106-42z" fill="#4055c8"/>
<path d="m15520 5522l107 43 55-55-107-42z" fill="#3f53c6"/>
<path d="m11454 4323l98 3 61-38-99-7z" fill="#455cce"/>
<path d="m11552 4326l98-39 61-19-98 20z" fill="#4961d2"/>
<path d="m11650 4287l97-147 62 34-98 94z" fill="#536edd"/>
</g>
<g stroke-opacity="0.16">
<path d="m11747 4140l97-318 62 119-97 233z" fill="#6788ee"/>
<path d="m11844 3822l95-506 63 202-96 423z" fill="#8db0fe"/>
<path d="m11939 3316l97-545 63 187-97 560z" fill="#c0d4f5"/>
<path d="m12036 2771l100-299 62 11-99 475z" fill="#e5d8d1"/>
</g>
<g stroke-opacity="0.09">
<path d="m12136 2472l102-223 60-290-100 524z" fill="#f6bfa6"/>
<path d="m12238 2249l101-475 61-311-102 496z" fill="#f39577"/>
<path d="m12339 1774l104-18 61-269-104-24z" fill="#e8765c"/>
<path d="m12443 1756l105 66 61-217-105-118z" fill="#e9785d"/>
<path d="m12548 1822l104 10 61-187-104-40z" fill="#ea7b60"/>
<path d="m12652 1832l105 27 61-175-105-39z" fill="#ea7b60"/>
<path d="m12757 1859l105 55 61-181-105-49z" fill="#eb7d62"/>
<path d="m12862 1914l105 35 62-165-106-51z" fill="#ec7f63"/>
<path d="m12967 1949l106 32 61-153-105-44z" fill="#ec8165"/>
<path d="m13073 1981l106 43 61-139-106-57z" fill="#ed8366"/>
<path d="m13179 2024l106 24 60-113-105-50z" fill="#ee8468"/>
<path d="m13285 2048l106 34 60-107-106-40z" fill="#ee8669"/>
<path d="m13391 2082l106 31 61-135-107-3z" fill="#ee8669"/>
<path d="m13497 2113l107 11 62-190-108 44z" fill="#ed8366"/>
<path d="m13604 2124l108 1 62-228-108 37z" fill="#eb7d62"/>
<path d="m13712 2125l107-7 63-234-108 13z" fill="#e9785d"/>
<path d="m13819 2118l108 27 62-216-107-45z" fill="#e8765c"/>
<path d="m13927 2145l107 44 62-153-107-107z" fill="#e97a5f"/>
<path d="m14034 2189l107 136 59-78-104-211z" fill="#ee8468"/>
<path d="m14141 2325l102 327 58-30-101-375z" fill="#f59f80"/>
<path d="m14243 2652l98 497 57 44-97-571z" fill="#f5c2aa"/>
</g>
<g stroke-opacity="0.16">
<path d="m14341 3149l95 600 55 98-93-654z" fill="#d9dce1"/>
<path d="m14436 3749l93 656 54 60-92-618z" fill="#a7c5fe"/>
<path d="m14529 4405l96 477 55 7-97-424z" fill="#779af7"/>
<path d="m14625 4882l100 264 55-26-100-231z" fill="#5a78e4"/>
</g>
<g stroke-opacity="0.26">
<path d="m14725 5146l103 134 56-43-104-117z" fill="#4c66d6"/>
<path d="m14828 5280l105 71 56-50-105-64z" fill="#465ecf"/>
<path d="m14933 5351l106 49 56-53-106-46z" fill="#455cce"/>
<path d="m15039 5400l106 43 56-53-106-43z" fill="#445acc"/>
<path d="m15145 5443l106 46 56-55-106-44z" fill="#4358cb"/>
<path d="m15251 5489l107 45 55-55-106-45z" fill="#4257c9"/>
<path d="m15358 5534l107 43 55-55-107-43z" fill="#4055c8"/>
<path d="m15465 5577l107 42 55-54-107-43z" fill="#3f53c6"/>
<path d="m11393 4366l98-7 61-33-98-3z" fill="#465ecf"/>
<path d="m11491 4359l98-64 61-8-98 39z" fill="#4b64d5"/>
<path d="m11589 4295l97-193 61 38-97 147z" fill="#5875e1"/>
</g>
<g stroke-opacity="0.16">
<path d="m11686 4102l95-375 63 95-97 318z" fill="#7396f5"/>
<path d="m11781 3727l96-533 62 122-95 506z" fill="#9fbfff"/>
<path d="m11877 3194l96-565 63 142-97 545z" fill="#d1dae9"/>
</g>
<g stroke-opacity="0.09">
<path d="m11973 2629l100-433 63 276-100 299z" fill="#f0cdbb"/>
<path d="m12073 2196l101-260 64 313-102 223z" fill="#f7b599"/>
<path d="m12174 1936l103-117 62-45-101 475z" fill="#f4987a"/>
<path d="m12277 1819l105 63 61-126-104 18z" fill="#ee8669"/>
<path d="m12382 1882l104 43 62-103-105-66z" fill="#ef886b"/>
<path d="m12486 1925l105-4 61-89-104-10z" fill="#ef886b"/>
<path d="m12591 1921l105 33 61-95-105-27z" fill="#ee8669"/>
<path d="m12696 1954l105 74 61-114-105-55z" fill="#ef886b"/>
<path d="m12801 2028l105 65 61-144-105-35z" fill="#f08b6e"/>
<path d="m12906 2093l106 33 61-145-106-32z" fill="#f18d6f"/>
<path d="m13012 2126l106 21 61-123-106-43z" fill="#f18d6f"/>
<path d="m13118 2147l106 25 61-124-106-24z" fill="#f18d6f"/>
<path d="m13224 2172l106 39 61-129-106-34z" fill="#f18d6f"/>
<path d="m13330 2211l106 35 61-133-106-31z" fill="#f18f71"/>
<path d="m13436 2246l107 27 61-149-107-11z" fill="#f18f71"/>
<path d="m13543 2273l107 35 62-183-108-1z" fill="#f18d6f"/>
<path d="m13650 2308l107 15 62-205-107 7z" fill="#f08b6e"/>
<path d="m13757 2323l109-11 61-167-108-27z" fill="#ef886b"/>
<path d="m13866 2312l108 7 60-130-107-44z" fill="#ef886b"/>
<path d="m13974 2319l106 116 61-110-107-136z" fill="#f18d6f"/>
<path d="m14080 2435l104 290 59-73-102-327z" fill="#f5a081"/>
<path d="m14184 2725l100 442 57-18-98-497z" fill="#f5c0a7"/>
</g>
<g stroke-opacity="0.16">
<path d="m14284 3167l96 557 56 25-95-600z" fill="#dfdbd9"/>
<path d="m14380 3724l93 655 56 26-93-656z" fill="#b1cbfc"/>
<path d="m14473 4379l96 517 56-14-96-477z" fill="#7ea1fa"/>
<path d="m14569 4896l99 286 57-36-100-264z" fill="#5d7ce6"/>
</g>
<g stroke-opacity="0.26">
<path d="m14668 5182l104 143 56-45-103-134z" fill="#4e68d8"/>
<path d="m14772 5325l105 76 56-50-105-71z" fill="#485fd1"/>
<path d="m14877 5401l106 52 56-53-106-49z" fill="#455cce"/>
<path d="m14983 5453l106 45 56-55-106-43z" fill="#445acc"/>
<path d="m15089 5498l107 46 55-55-106-46z" fill="#4358cb"/>
<path d="m15196 5544l106 45 56-55-107-45z" fill="#4257c9"/>
<path d="m15302 5589l107 43 56-55-107-43z" fill="#4055c8"/>
<path d="m15409 5632l108 43 55-56-107-42z" fill="#3f53c6"/>
<path d="m11332 4411l98-18 61-34-98 7z" fill="#485fd1"/>
<path d="m11430 4393l98-92 61-6-98 64z" fill="#4e68d8"/>
</g>
<g stroke-opacity="0.16">
<path d="m11528 4301l96-236 62 37-97 193z" fill="#5e7de7"/>
<path d="m11624 4065l95-441 62 103-95 375z" fill="#7ea1fa"/>
<path d="m11719 3624l94-577 64 147-96 533z" fill="#afcafc"/>
<path d="m11813 3047l97-588 63 170-96 565z" fill="#dfdbd9"/>
</g>
<g stroke-opacity="0.09">
<path d="m11910 2459l99-497 64 234-100 433z" fill="#f7bca1"/>
<path d="m12009 1962l102-254 63 228-101 260z" fill="#f39778"/>
<path d="m12111 1708l104 20 62 91-103 117z" fill="#ed8366"/>
<path d="m12215 1728l105 178 62-24-105-63z" fill="#ed8366"/>
<path d="m12320 1906l105 85 61-66-104-43z" fill="#f08b6e"/>
<path d="m12425 1991l104 23 62-93-105 4z" fill="#f08b6e"/>
<path d="m12529 2014l106 50 61-110-105-33z" fill="#f08b6e"/>
<path d="m12635 2064l105 75 61-111-105-74z" fill="#f18f71"/>
<path d="m12740 2139l105 70 61-116-105-65z" fill="#f39475"/>
<path d="m12845 2209l106 23 61-106-106-33z" fill="#f39577"/>
<path d="m12951 2232l106 5 61-90-106-21z" fill="#f39577"/>
<path d="m13057 2237l106 42 61-107-106-25z" fill="#f39475"/>
<path d="m13163 2279l106 40 61-108-106-39z" fill="#f39577"/>
<path d="m13269 2319l107 28 60-101-106-35z" fill="#f39577"/>
<path d="m13376 2347l107 4 60-78-107-27z" fill="#f39577"/>
<path d="m13483 2351l107 35 60-78-107-35z" fill="#f39577"/>
<path d="m13590 2386l107 43 60-106-107-15z" fill="#f39577"/>
<path d="m13697 2429l108-6 61-111-109 11z" fill="#f39475"/>
<path d="m13805 2423l108 30 61-134-108-7z" fill="#f29072"/>
<path d="m13913 2453l106 119 61-137-106-116z" fill="#f39577"/>
<path d="m14019 2572l105 220 60-67-104-290z" fill="#f6a586"/>
<path d="m14124 2792l101 394 59-19-100-442z" fill="#f6bfa6"/>
</g>
<g stroke-opacity="0.16">
<path d="m14225 3186l98 553 57-15-96-557z" fill="#e2dad5"/>
<path d="m14323 3739l94 649 56-9-93-655z" fill="#b6cefa"/>
<path d="m14417 4388l95 538 57-30-96-517z" fill="#82a6fb"/>
<path d="m14512 4926l100 304 56-48-99-286z" fill="#5f7fe8"/>
</g>
<g stroke-opacity="0.26">
<path d="m14612 5230l103 148 57-53-104-143z" fill="#4f69d9"/>
<path d="m14715 5378l105 78 57-55-105-76z" fill="#485fd1"/>
<path d="m14820 5456l106 52 57-55-106-52z" fill="#455cce"/>
<path d="m14926 5508l107 45 56-55-106-45z" fill="#445acc"/>
<path d="m15033 5553l107 46 56-55-107-46z" fill="#4358cb"/>
<path d="m15140 5599l107 45 55-55-106-45z" fill="#4257c9"/>
<path d="m15247 5644l107 44 55-56-107-43z" fill="#4055c8"/>
<path d="m15354 5688l107 43 56-56-108-43z" fill="#3f53c6"/>
<path d="m11271 4460l98-28 61-39-98 18z" fill="#4961d2"/>
<path d="m11369 4432l97-115 62-16-98 92z" fill="#506bda"/>
</g>
<g stroke-opacity="0.16">
<path d="m11466 4317l96-284 62 32-96 236z" fill="#6384eb"/>
<path d="m11562 4033l93-511 64 102-95 441z" fill="#89acfd"/>
<path d="m11655 3522l95-599 63 124-94 577z" fill="#bed2f6"/>
</g>
<g stroke-opacity="0.09">
<path d="m11750 2923l96-575 64 111-97 588z" fill="#ead4c8"/>
<path d="m11846 2348l99-518 64 132-99 497z" fill="#f7a98b"/>
<path d="m11945 1830l102-250 64 128-102 254z" fill="#eb7d62"/>
<path d="m12047 1580l105 124 63 24-104-20z" fill="#e46e56"/>
<path d="m12152 1704l106 245 62-43-105-178z" fill="#ea7b60"/>
<path d="m12258 1949l105 112 62-70-105-85z" fill="#f08b6e"/>
<path d="m12363 2061l105 52 61-99-104-23z" fill="#f18f71"/>
<path d="m12468 2113l105 65 62-114-106-50z" fill="#f29274"/>
<path d="m12573 2178l105 33 62-72-105-75z" fill="#f39577"/>
<path d="m12678 2211l106 10 61-12-105-70z" fill="#f39778"/>
<path d="m12784 2221l106 41 61-30-106-23z" fill="#f39778"/>
<path d="m12890 2262l106 42 61-67-106-5z" fill="#f39778"/>
<path d="m12996 2304l106 39 61-64-106-42z" fill="#f39778"/>
<path d="m13102 2343l106 10 61-34-106-40z" fill="#f4987a"/>
<path d="m13208 2353l107 42 61-48-107-28z" fill="#f4987a"/>
<path d="m13315 2395l107 49 61-93-107-4z" fill="#f4987a"/>
<path d="m13422 2444l107 27 61-85-107-35z" fill="#f4987a"/>
<path d="m13529 2471l108 22 60-64-107-43z" fill="#f4987a"/>
<path d="m13637 2493l108-17 60-53-108 6z" fill="#f39778"/>
<path d="m13745 2476l107 62 61-85-108-30z" fill="#f39577"/>
<path d="m13852 2538l107 136 60-102-106-119z" fill="#f59c7d"/>
<path d="m13959 2674l106 189 59-71-105-220z" fill="#f7a98b"/>
<path d="m14065 2863l101 381 59-58-101-394z" fill="#f5c0a7"/>
</g>
<g stroke-opacity="0.16">
<path d="m14166 3244l98 574 59-79-98-553z" fill="#e3d9d3"/>
<path d="m14264 3818l94 644 59-74-94-649z" fill="#b7cff9"/>
<path d="m14358 4462l96 522 58-58-95-538z" fill="#84a7fc"/>
<path d="m14454 4984l101 302 57-56-100-304z" fill="#5f7fe8"/>
</g>
<g stroke-opacity="0.26">
<path d="m14555 5286l103 147 57-55-103-148z" fill="#4f69d9"/>
<path d="m14658 5433l106 78 56-55-105-78z" fill="#485fd1"/>
<path d="m14764 5511l106 52 56-55-106-52z" fill="#455cce"/>
<path d="m14870 5563l107 46 56-56-107-45z" fill="#445acc"/>
<path d="m14977 5609l106 46 57-56-107-46z" fill="#4358cb"/>
<path d="m15083 5655l107 45 57-56-107-45z" fill="#4257c9"/>
<path d="m15190 5700l108 44 56-56-107-44z" fill="#4055c8"/>
<path d="m15298 5744l107 44 56-57-107-43z" fill="#3f53c6"/>
<path d="m11210 4509l98-35 61-42-98 28z" fill="#4961d2"/>
<path d="m11308 4474l97-130 61-27-97 115z" fill="#536edd"/>
</g>
<g stroke-opacity="0.16">
<path d="m11405 4344l95-316 62 5-96 284z" fill="#688aef"/>
<path d="m11500 4028l93-542 62 36-93 511z" fill="#93b5fe"/>
<path d="m11593 3486l94-582 63 19-95 599z" fill="#c9d7f0"/>
</g>
<g stroke-opacity="0.09">
<path d="m11687 2904l96-542 63-14-96 575z" fill="#f0cdbb"/>
<path d="m11783 2362l99-450 63-82-99 518z" fill="#f5a081"/>
<path d="m11882 1912l103-210 62-122-102 250z" fill="#e8765c"/>
<path d="m11985 1702l105 129 62-127-105-124z" fill="#e36b54"/>
<path d="m12090 1831l106 200 62-82-106-245z" fill="#eb7d62"/>
<path d="m12196 2031l105 96 62-66-105-112z" fill="#f18d6f"/>
<path d="m12301 2127l105 55 62-69-105-52z" fill="#f29274"/>
<path d="m12406 2182l105 52 62-56-105-65z" fill="#f39577"/>
<path d="m12511 2234l106 8 61-31-105-33z" fill="#f39778"/>
<path d="m12617 2242l105-2 62-19-106-10z" fill="#f39577"/>
<path d="m12722 2240l106 66 62-44-106-41z" fill="#f39577"/>
<path d="m12828 2306l106 65 62-67-106-42z" fill="#f39778"/>
<path d="m12934 2371l107 38 61-66-106-39z" fill="#f49a7b"/>
<path d="m13041 2409l106 17 61-73-106-10z" fill="#f4987a"/>
<path d="m13147 2426l107 76 61-107-107-42z" fill="#f49a7b"/>
<path d="m13254 2502l106 73 62-131-107-49z" fill="#f59d7e"/>
<path d="m13360 2575l108 2 61-106-107-27z" fill="#f59d7e"/>
<path d="m13468 2577l108-14 61-70-108-22z" fill="#f59c7d"/>
<path d="m13576 2563l108-11 61-76-108 17z" fill="#f4987a"/>
<path d="m13684 2552l108 81 60-95-107-62z" fill="#f4987a"/>
<path d="m13792 2633l106 150 61-109-107-136z" fill="#f5a081"/>
<path d="m13898 2783l106 206 61-126-106-189z" fill="#f7ad90"/>
<path d="m14004 2989l102 381 60-126-101-381z" fill="#f5c2aa"/>
</g>
<g stroke-opacity="0.16">
<path d="m14106 3370l97 595 61-147-98-574z" fill="#dfdbd9"/>
<path d="m14203 3965l96 620 59-123-94-644z" fill="#b2ccfb"/>
<path d="m14299 4585l97 478 58-79-96-522z" fill="#81a4fb"/>
<path d="m14396 5063l101 286 58-63-101-302z" fill="#5f7fe8"/>
</g>
<g stroke-opacity="0.26">
<path d="m14497 5349l104 144 57-60-103-147z" fill="#4f69d9"/>
<path d="m14601 5493l106 74 57-56-106-78z" fill="#485fd1"/>
<path d="m14707 5567l106 51 57-55-106-52z" fill="#455cce"/>
<path d="m14813 5618l107 47 57-56-107-46z" fill="#445acc"/>
<path d="m14920 5665l107 47 56-57-106-46z" fill="#4358cb"/>
<path d="m15027 5712l107 45 56-57-107-45z" fill="#4257c9"/>
<path d="m15134 5757l108 44 56-57-108-44z" fill="#4055c8"/>
<path d="m15242 5801l107 44 56-57-107-44z" fill="#3f53c6"/>
<path d="m11148 4557l98-38 62-45-98 35z" fill="#4a63d3"/>
<path d="m11246 4519l97-145 62-30-97 130z" fill="#5470de"/>
</g>
<g stroke-opacity="0.16">
<path d="m11343 4374l94-345 63-1-95 316z" fill="#6c8ff1"/>
<path d="m11437 4029l93-551 63 8-93 542z" fill="#98b9ff"/>
<path d="m11530 3478l94-541 63-33-94 582z" fill="#cdd9ec"/>
</g>
<g stroke-opacity="0.09">
<path d="m11624 2937l97-484 62-91-96 542z" fill="#f1cdba"/>
<path d="m11721 2453l100-377 61-164-99 450z" fill="#f6a586"/>
<path d="m11821 2076l102-146 62-228-103 210z" fill="#ec8165"/>
<path d="m11923 1930l105 74 62-173-105-129z" fill="#e97a5f"/>
<path d="m12028 2004l106 116 62-89-106-200z" fill="#ee8669"/>
<path d="m12134 2120l105 94 62-87-105-96z" fill="#f29072"/>
<path d="m12239 2214l105 56 62-88-105-55z" fill="#f39577"/>
<path d="m12344 2270l105 18 62-54-105-52z" fill="#f39778"/>
<path d="m12449 2288l106 6 62-52-106-8z" fill="#f39778"/>
<path d="m12555 2294l106 39 61-93-105 2z" fill="#f39577"/>
<path d="m12661 2333l106 89 61-116-106-66z" fill="#f39778"/>
<path d="m12767 2422l106 47 61-98-106-65z" fill="#f49a7b"/>
<path d="m12873 2469l106 25 62-85-107-38z" fill="#f59c7d"/>
<path d="m12979 2494l107 23 61-91-106-17z" fill="#f59c7d"/>
<path d="m13086 2517l107 55 61-70-107-76z" fill="#f59d7e"/>
<path d="m13193 2572l107 50 60-47-106-73z" fill="#f5a081"/>
<path d="m13300 2622l107 10 61-55-108-2z" fill="#f6a283"/>
<path d="m13407 2632l108-10 61-59-108 14z" fill="#f59f80"/>
<path d="m13515 2622l108 19 61-89-108 11z" fill="#f49a7b"/>
<path d="m13623 2641l108 79 61-87-108-81z" fill="#f59c7d"/>
<path d="m13731 2720l107 146 60-83-106-150z" fill="#f6a586"/>
<path d="m13838 2866l105 239 61-116-106-206z" fill="#f7b396"/>
<path d="m13943 3105l102 408 61-143-102-381z" fill="#f3c8b2"/>
</g>
<g stroke-opacity="0.16">
<path d="m14045 3513l97 617 61-165-97-595z" fill="#d9dce1"/>
<path d="m14142 4130l97 595 60-140-96-620z" fill="#aac7fd"/>
<path d="m14239 4725l98 436 59-98-97-478z" fill="#7b9ff9"/>
<path d="m14337 5161l102 263 58-75-101-286z" fill="#5d7ce6"/>
</g>
<g stroke-opacity="0.26">
<path d="m14439 5424l105 133 57-64-104-144z" fill="#4e68d8"/>
<path d="m14544 5557l105 70 58-60-106-74z" fill="#485fd1"/>
<path d="m14649 5627l107 50 57-59-106-51z" fill="#455cce"/>
<path d="m14756 5677l107 47 57-59-107-47z" fill="#445acc"/>
<path d="m14863 5724l107 47 57-59-107-47z" fill="#4358cb"/>
<path d="m14970 5771l107 44 57-58-107-45z" fill="#4257c9"/>
<path d="m15077 5815l108 44 57-58-108-44z" fill="#4055c8"/>
<path d="m15185 5859l108 44 56-58-107-44z" fill="#3f53c6"/>
<path d="m11086 4604l98-37 62-48-98 38z" fill="#4a63d3"/>
<path d="m11184 4567l97-145 62-48-97 145z" fill="#5572df"/>
</g>
<g stroke-opacity="0.16">
<path d="m11281 4422l94-339 62-54-94 345z" fill="#6e90f2"/>
<path d="m11375 4083l93-550 62-55-93 551z" fill="#9bbcff"/>
<path d="m11468 3533l94-560 62-36-94 541z" fill="#cedaeb"/>
</g>
<g stroke-opacity="0.09">
<path d="m11562 2973l97-459 62-61-97 484z" fill="#f1cdba"/>
<path d="m11659 2514l99-315 63-123-100 377z" fill="#f7aa8c"/>
<path d="m11758 2199l103-97 62-172-102 146z" fill="#f18f71"/>
<path d="m11861 2102l105 44 62-142-105-74z" fill="#ef886b"/>
<path d="m11966 2146l105 70 63-96-106-116z" fill="#f18f71"/>
<path d="m12071 2216l106 80 62-82-105-94z" fill="#f39577"/>
<path d="m12177 2296l105 49 62-75-105-56z" fill="#f4987a"/>
<path d="m12282 2345l105 16 62-73-105-18z" fill="#f49a7b"/>
<path d="m12387 2361l106 1 62-68-106-6z" fill="#f39778"/>
<path d="m12493 2362l106 63 62-92-106-39z" fill="#f39778"/>
<path d="m12599 2425l106 113 62-116-106-89z" fill="#f59c7d"/>
<path d="m12705 2538l106 51 62-120-106-47z" fill="#f6a283"/>
<path d="m12811 2589l107 12 61-107-106-25z" fill="#f6a283"/>
<path d="m12918 2601l106 22 62-106-107-23z" fill="#f5a081"/>
<path d="m13024 2623l108 2 61-53-107-55z" fill="#f5a081"/>
<path d="m13132 2625l107 20 61-23-107-50z" fill="#f5a081"/>
<path d="m13239 2645l107 39 61-52-107-10z" fill="#f5a081"/>
<path d="m13346 2684l108 19 61-81-108 10z" fill="#f59f80"/>
<path d="m13454 2703l109 11 60-73-108-19z" fill="#f59d7e"/>
<path d="m13563 2714l108 49 60-43-108-79z" fill="#f59f80"/>
<path d="m13671 2763l106 159 61-56-107-146z" fill="#f7a688"/>
<path d="m13777 2922l105 296 61-113-105-239z" fill="#f7b79b"/>
<path d="m13882 3218l101 464 62-169-102-408z" fill="#f0cdbb"/>
</g>
<g stroke-opacity="0.16">
<path d="m13983 3682l98 613 61-165-97-617z" fill="#d2dbe8"/>
<path d="m14081 4295l98 578 60-148-97-595z" fill="#a1c0ff"/>
<path d="m14179 4873l99 409 59-121-98-436z" fill="#7597f6"/>
<path d="m14278 5282l103 227 58-85-102-263z" fill="#5977e3"/>
</g>
<g stroke-opacity="0.26">
<path d="m14381 5509l105 117 58-69-105-133z" fill="#4c66d6"/>
<path d="m14486 5626l106 64 57-63-105-70z" fill="#465ecf"/>
<path d="m14592 5690l107 48 57-61-107-50z" fill="#455cce"/>
<path d="m14699 5738l107 46 57-60-107-47z" fill="#4358cb"/>
<path d="m14806 5784l107 47 57-60-107-47z" fill="#4257c9"/>
<path d="m14913 5831l108 44 56-60-107-44z" fill="#4257c9"/>
<path d="m15021 5875l107 44 57-60-108-44z" fill="#4055c8"/>
<path d="m15128 5919l108 43 57-59-108-44z" fill="#3f53c6"/>
<path d="m11024 4658l98-31 62-60-98 37z" fill="#4a63d3"/>
<path d="m11122 4627l97-128 62-77-97 145z" fill="#5470de"/>
</g>
<g stroke-opacity="0.16">
<path d="m11219 4499l95-295 61-121-94 339z" fill="#6b8df0"/>
<path d="m11314 4204l93-509 61-162-93 550z" fill="#97b8ff"/>
<path d="m11407 3695l93-618 62-104-94 560z" fill="#ccd9ed"/>
</g>
<g stroke-opacity="0.09">
<path d="m11500 3077l96-475 63-88-97 459z" fill="#efcebd"/>
<path d="m11596 2602l100-276 62-127-99 315z" fill="#f7af91"/>
<path d="m11696 2326l103-111 62-113-103 97z" fill="#f4987a"/>
<path d="m11799 2215l104 16 63-85-105-44z" fill="#f29274"/>
<path d="m11903 2231l105 51 63-66-105-70z" fill="#f39475"/>
<path d="m12008 2282l106 71 63-57-106-80z" fill="#f39778"/>
<path d="m12114 2353l105 57 63-65-105-49z" fill="#f59c7d"/>
<path d="m12219 2410l106 30 62-79-105-16z" fill="#f59c7d"/>
<path d="m12325 2440l106 16 62-94-106-1z" fill="#f49a7b"/>
<path d="m12431 2456l106 57 62-88-106-63z" fill="#f59c7d"/>
<path d="m12537 2513l106 93 62-68-106-113z" fill="#f5a081"/>
<path d="m12643 2606l106 48 62-65-106-51z" fill="#f6a586"/>
<path d="m12749 2654l107 8 62-61-107-12z" fill="#f6a586"/>
<path d="m12856 2662l107 20 61-59-106-22z" fill="#f6a385"/>
<path d="m12963 2682l107-8 62-49-108-2z" fill="#f6a283"/>
<path d="m13070 2674l108 14 61-43-107-20z" fill="#f5a081"/>
<path d="m13178 2688l107 56 61-60-107-39z" fill="#f5a081"/>
<path d="m13285 2744l108 47 61-88-108-19z" fill="#f6a283"/>
<path d="m13393 2791l108 9 62-86-109-11z" fill="#f5a081"/>
<path d="m13501 2800l108 54 62-91-108-49z" fill="#f5a081"/>
<path d="m13609 2854l107 208 61-140-106-159z" fill="#f7a98b"/>
<path d="m13716 3062l104 343 62-187-105-296z" fill="#f7bca1"/>
<path d="m13820 3405l101 494 62-217-101-464z" fill="#ead4c8"/>
</g>
<g stroke-opacity="0.16">
<path d="m13921 3899l98 610 62-214-98-613z" fill="#c7d7f0"/>
<path d="m14019 4509l99 541 61-177-98-578z" fill="#96b7ff"/>
<path d="m14118 5050l100 359 60-127-99-409z" fill="#6c8ff1"/>
</g>
<g stroke-opacity="0.26">
<path d="m14218 5409l104 187 59-87-103-227z" fill="#5572df"/>
<path d="m14322 5596l106 97 58-67-105-117z" fill="#4a63d3"/>
<path d="m14428 5693l106 58 58-61-106-64z" fill="#465ecf"/>
<path d="m14534 5751l107 48 58-61-107-48z" fill="#445acc"/>
<path d="m14641 5799l107 46 58-61-107-46z" fill="#4358cb"/>
<path d="m14748 5845l108 45 57-59-107-47z" fill="#4257c9"/>
<path d="m14856 5890l108 45 57-60-108-44z" fill="#4055c8"/>
<path d="m14964 5935l107 43 57-59-107-44z" fill="#4055c8"/>
<path d="m15071 5978l109 43 56-59-108-43z" fill="#3f53c6"/>
<path d="m10962 4716l98-22 62-67-98 31z" fill="#4a63d3"/>
<path d="m11060 4694l98-103 61-92-97 128z" fill="#536edd"/>
</g>
<g stroke-opacity="0.16">
<path d="m11158 4591l95-259 61-128-95 295z" fill="#6788ee"/>
<path d="m11253 4332l93-465 61-172-93 509z" fill="#8db0fe"/>
<path d="m11346 3867l93-604 61-186-93 618z" fill="#c3d5f4"/>
</g>
<g stroke-opacity="0.09">
<path d="m11439 3263l95-492 62-169-96 475z" fill="#ecd3c5"/>
<path d="m11534 2771l100-309 62-136-100 276z" fill="#f7b599"/>
<path d="m11634 2462l102-132 63-115-103 111z" fill="#f5a081"/>
<path d="m11736 2330l105 2 62-101-104-16z" fill="#f39778"/>
<path d="m11841 2332l105 35 62-85-105-51z" fill="#f39778"/>
<path d="m11946 2367l105 68 63-82-106-71z" fill="#f49a7b"/>
<path d="m12051 2435l106 65 62-90-105-57z" fill="#f59d7e"/>
<path d="m12157 2500l105 41 63-101-106-30z" fill="#f59f80"/>
<path d="m12262 2541l106 7 63-92-106-16z" fill="#f59f80"/>
<path d="m12368 2548l106 29 63-64-106-57z" fill="#f59f80"/>
<path d="m12474 2577l107 41 62-12-106-93z" fill="#f6a283"/>
<path d="m12581 2618l106 24 62 12-106-48z" fill="#f6a385"/>
<path d="m12687 2642l107 23 62-3-107-8z" fill="#f6a385"/>
<path d="m12794 2665l107 49 62-32-107-20z" fill="#f6a385"/>
<path d="m12901 2714l107 16 62-56-107 8z" fill="#f6a283"/>
<path d="m13008 2730l108 19 62-61-108-14z" fill="#f5a081"/>
<path d="m13116 2749l108 70 61-75-107-56z" fill="#f5a081"/>
<path d="m13224 2819l107 65 62-93-108-47z" fill="#f6a385"/>
<path d="m13331 2884l109 22 61-106-108-9z" fill="#f6a586"/>
<path d="m13440 2906l108 82 61-134-108-54z" fill="#f6a586"/>
<path d="m13548 2988l105 277 63-203-107-208z" fill="#f7b194"/>
<path d="m13653 3265l104 408 63-268-104-343z" fill="#f3c7b1"/>
</g>
<g stroke-opacity="0.16">
<path d="m13757 3673l101 512 63-286-101-494z" fill="#dfdbd9"/>
<path d="m13858 4185l99 600 62-276-98-610z" fill="#b7cff9"/>
<path d="m13957 4785l99 466 62-201-99-541z" fill="#86a9fc"/>
<path d="m14056 5251l103 286 59-128-100-359z" fill="#6384eb"/>
</g>
<g stroke-opacity="0.26">
<path d="m14159 5537l104 145 59-86-104-187z" fill="#506bda"/>
<path d="m14263 5682l107 76 58-65-106-97z" fill="#4961d2"/>
<path d="m14370 5758l106 53 58-60-106-58z" fill="#455cce"/>
<path d="m14476 5811l107 48 58-60-107-48z" fill="#445acc"/>
<path d="m14583 5859l108 46 57-60-107-46z" fill="#4358cb"/>
<path d="m14691 5905l107 46 58-61-108-45z" fill="#4257c9"/>
<path d="m14798 5951l108 44 58-60-108-45z" fill="#4055c8"/>
<path d="m14906 5995l108 44 57-61-107-43z" fill="#3f53c6"/>
<path d="m15014 6039l109 42 57-60-109-43z" fill="#3f53c6"/>
<path d="m10899 4775l99-13 62-68-98 22z" fill="#4961d2"/>
<path d="m10998 4762l98-76 62-95-98 103z" fill="#506bda"/>
</g>
<g stroke-opacity="0.16">
<path d="m11096 4686l96-219 61-135-95 259z" fill="#6180e9"/>
<path d="m11192 4467l94-410 60-190-93 465z" fill="#84a7fc"/>
<path d="m11286 4057l92-555 61-239-93 604z" fill="#b6cefa"/>
<path d="m11378 3502l95-506 61-225-95 492z" fill="#e2dad5"/>
</g>
<g stroke-opacity="0.09">
<path d="m11473 2996l99-340 62-194-100 309z" fill="#f5c0a7"/>
<path d="m11572 2656l102-142 62-184-102 132z" fill="#f7aa8c"/>
<path d="m11674 2514l104-61 63-121-105-2z" fill="#f59f80"/>
<path d="m11778 2453l104-18 64-68-105-35z" fill="#f59c7d"/>
<path d="m11882 2435l106 42 63-42-105-68z" fill="#f59c7d"/>
<path d="m11988 2477l106 80 63-57-106-65z" fill="#f59f80"/>
<path d="m12094 2557l106 54 62-70-105-41z" fill="#f6a283"/>
<path d="m12200 2611l105-5 63-58-106-7z" fill="#f6a283"/>
<path d="m12305 2606l107 20 62-49-106-29z" fill="#f5a081"/>
<path d="m12412 2626l106 37 63-45-107-41z" fill="#f5a081"/>
<path d="m12518 2663l107 30 62-51-106-24z" fill="#f5a081"/>
<path d="m12625 2693l107 12 62-40-107-23z" fill="#f5a081"/>
<path d="m12732 2705l107 60 62-51-107-49z" fill="#f5a081"/>
<path d="m12839 2765l107 11 62-46-107-16z" fill="#f6a283"/>
<path d="m12946 2776l108-2 62-25-108-19z" fill="#f59f80"/>
<path d="m13054 2774l108 84 62-39-108-70z" fill="#f5a081"/>
<path d="m13162 2858l108 88 61-62-107-65z" fill="#f6a586"/>
<path d="m13270 2946l108 75 62-115-109-22z" fill="#f7a889"/>
<path d="m13378 3021l107 156 63-189-108-82z" fill="#f7ad90"/>
<path d="m13485 3177l105 362 63-274-105-277z" fill="#f6bda2"/>
<path d="m13590 3539l103 468 64-334-104-408z" fill="#ebd3c6"/>
</g>
<g stroke-opacity="0.16">
<path d="m13693 4007l101 538 64-360-101-512z" fill="#cdd9ec"/>
<path d="m13794 4545l100 519 63-279-99-600z" fill="#a1c0ff"/>
<path d="m13894 5064l101 366 61-179-99-466z" fill="#7699f6"/>
<path d="m13995 5430l104 220 60-113-103-286z" fill="#5a78e4"/>
</g>
<g stroke-opacity="0.26">
<path d="m14099 5650l106 111 58-79-104-145z" fill="#4c66d6"/>
<path d="m14205 5761l106 64 59-67-107-76z" fill="#485fd1"/>
<path d="m14311 5825l107 49 58-63-106-53z" fill="#455cce"/>
<path d="m14418 5874l107 46 58-61-107-48z" fill="#445acc"/>
<path d="m14525 5920l108 46 58-61-108-46z" fill="#4358cb"/>
<path d="m14633 5966l108 45 57-60-107-46z" fill="#4257c9"/>
<path d="m14741 6011l108 45 57-61-108-44z" fill="#4055c8"/>
<path d="m14849 6056l108 43 57-60-108-44z" fill="#3f53c6"/>
<path d="m14957 6099l109 43 57-61-109-42z" fill="#3e51c5"/>
<path d="m10837 4834l99-7 62-65-99 13z" fill="#485fd1"/>
<path d="m10936 4827l98-55 62-86-98 76z" fill="#4e68d8"/>
</g>
<g stroke-opacity="0.16">
<path d="m11034 4772l97-168 61-137-96 219z" fill="#5b7ae5"/>
<path d="m11131 4604l95-324 60-223-94 410z" fill="#799cf8"/>
<path d="m11226 4280l93-472 59-306-92 555z" fill="#a5c3fe"/>
<path d="m11319 3808l95-493 59-319-95 506z" fill="#d3dbe7"/>
</g>
<g stroke-opacity="0.09">
<path d="m11414 3315l97-384 61-275-99 340z" fill="#efcebd"/>
<path d="m11511 2931l101-209 62-208-102 142z" fill="#f7b99e"/>
<path d="m11612 2722l103-144 63-125-104 61z" fill="#f7aa8c"/>
<path d="m11715 2578l104-69 63-74-104 18z" fill="#f5a081"/>
<path d="m11819 2509l105 5 64-37-106-42z" fill="#f59c7d"/>
<path d="m11924 2514l106 63 64-20-106-80z" fill="#f59f80"/>
<path d="m12030 2577l106 62 64-28-106-54z" fill="#f6a283"/>
<path d="m12136 2639l106 27 63-60-105 5z" fill="#f6a283"/>
<path d="m12242 2666l107 32 63-72-107-20z" fill="#f5a081"/>
<path d="m12349 2698l106 15 63-50-106-37z" fill="#f5a081"/>
<path d="m12455 2713l107 25 63-45-107-30z" fill="#f5a081"/>
<path d="m12562 2738l107 6 63-39-107-12z" fill="#f59f80"/>
<path d="m12669 2744l108 20 62 1-107-60z" fill="#f59f80"/>
<path d="m12777 2764l107 35 62-23-107-11z" fill="#f59f80"/>
<path d="m12884 2799l108 30 62-55-108 2z" fill="#f59d7e"/>
<path d="m12992 2829l108 93 62-64-108-84z" fill="#f5a081"/>
<path d="m13100 2922l108 118 62-94-108-88z" fill="#f7a688"/>
<path d="m13208 3040l107 127 63-146-108-75z" fill="#f7ad90"/>
<path d="m13315 3167l107 259 63-249-107-156z" fill="#f7b89c"/>
<path d="m13422 3426l104 444 64-331-105-362z" fill="#f1ccb8"/>
</g>
<g stroke-opacity="0.16">
<path d="m13526 3870l102 514 65-377-103-468z" fill="#d9dce1"/>
<path d="m13628 4384l102 523 64-362-101-538z" fill="#b3cdfb"/>
<path d="m13730 4907l101 407 63-250-100-519z" fill="#89acfd"/>
<path d="m13831 5314l104 274 60-158-101-366z" fill="#6788ee"/>
</g>
<g stroke-opacity="0.26">
<path d="m13935 5588l105 160 59-98-104-220z" fill="#5470de"/>
<path d="m14040 5748l106 87 59-74-106-111z" fill="#4a63d3"/>
<path d="m14146 5835l106 56 59-66-106-64z" fill="#465ecf"/>
<path d="m14252 5891l108 47 58-64-107-49z" fill="#445acc"/>
<path d="m14360 5938l107 45 58-63-107-46z" fill="#4358cb"/>
<path d="m14467 5983l108 45 58-62-108-46z" fill="#4257c9"/>
<path d="m14575 6028l108 45 58-62-108-45z" fill="#4055c8"/>
<path d="m14683 6073l108 44 58-61-108-45z" fill="#4055c8"/>
<path d="m14791 6117l108 43 58-61-108-43z" fill="#3f53c6"/>
<path d="m14899 6160l109 43 58-61-109-43z" fill="#3e51c5"/>
<path d="m10774 4893l99 2 63-68-99 7z" fill="#465ecf"/>
<path d="m10873 4895l99-33 62-90-98 55z" fill="#4b64d5"/>
<path d="m10972 4862l98-114 61-144-97 168z" fill="#5673e0"/>
</g>
<g stroke-opacity="0.16">
<path d="m11070 4748l96-242 60-226-95 324z" fill="#6c8ff1"/>
<path d="m11166 4506l94-382 59-316-93 472z" fill="#92b4fe"/>
<path d="m11260 4124l95-459 59-350-95 493z" fill="#bed2f6"/>
<path d="m11355 3665l96-425 60-309-97 384z" fill="#e1dad6"/>
</g>
<g stroke-opacity="0.09">
<path d="m11451 3240l100-303 61-215-101 209z" fill="#f3c8b2"/>
<path d="m11551 2937l101-218 63-141-103 144z" fill="#f7b599"/>
<path d="m11652 2719l104-86 63-124-104 69z" fill="#f7a688"/>
<path d="m11756 2633l105-3 63-116-105-5z" fill="#f5a081"/>
<path d="m11861 2630l106 22 63-75-106-63z" fill="#f59f80"/>
<path d="m11967 2652l106 29 63-42-106-62z" fill="#f5a081"/>
<path d="m12073 2681l106 53 63-68-106-27z" fill="#f6a283"/>
<path d="m12179 2734l107 34 63-70-107-32z" fill="#f6a385"/>
<path d="m12286 2768l106 1 63-56-106-15z" fill="#f6a283"/>
<path d="m12392 2769l107 14 63-45-107-25z" fill="#f5a081"/>
<path d="m12499 2783l108 30 62-69-107-6z" fill="#f59f80"/>
<path d="m12607 2813l107 19 63-68-108-20z" fill="#f59f80"/>
<path d="m12714 2832l108 65 62-98-107-35z" fill="#f59f80"/>
<path d="m12822 2897l108 75 62-143-108-30z" fill="#f5a081"/>
<path d="m12930 2972l108 88 62-138-108-93z" fill="#f6a586"/>
<path d="m13038 3060l107 161 63-181-108-118z" fill="#f7ac8e"/>
<path d="m13145 3221l107 214 63-268-107-127z" fill="#f7b89c"/>
<path d="m13252 3435l106 352 64-361-107-259z" fill="#f3c7b1"/>
</g>
<g stroke-opacity="0.16">
<path d="m13358 3787l104 477 64-394-104-444z" fill="#e2dad5"/>
<path d="m13462 4264l102 524 64-404-102-514z" fill="#c1d4f4"/>
<path d="m13564 4788l102 437 64-318-102-523z" fill="#97b8ff"/>
<path d="m13666 5225l104 305 61-216-101-407z" fill="#7396f5"/>
<path d="m13770 5530l104 195 61-137-104-274z" fill="#5b7ae5"/>
</g>
<g stroke-opacity="0.26">
<path d="m13874 5725l106 112 60-89-105-160z" fill="#4e68d8"/>
<path d="m13980 5837l107 67 59-69-106-87z" fill="#485fd1"/>
<path d="m14087 5904l107 51 58-64-106-56z" fill="#455cce"/>
<path d="m14194 5955l107 47 59-64-108-47z" fill="#445acc"/>
<path d="m14301 6002l108 45 58-64-107-45z" fill="#4358cb"/>
<path d="m14409 6047l108 44 58-63-108-45z" fill="#4257c9"/>
<path d="m14517 6091l108 44 58-62-108-45z" fill="#4055c8"/>
<path d="m14625 6135l108 44 58-62-108-44z" fill="#3f53c6"/>
<path d="m14733 6179l109 43 57-62-108-43z" fill="#3f53c6"/>
<path d="m14842 6222l108 42 58-61-109-43z" fill="#3e51c5"/>
<path d="m10711 4953l100 10 62-68-99-2z" fill="#465ecf"/>
<path d="m10811 4963l99-10 62-91-99 33z" fill="#4961d2"/>
<path d="m10910 4953l99-69 61-136-98 114z" fill="#516ddb"/>
</g>
<g stroke-opacity="0.16">
<path d="m11009 4884l97-172 60-206-96 242z" fill="#6180e9"/>
<path d="m11106 4712l96-280 58-308-94 382z" fill="#7da0f9"/>
<path d="m11202 4432l95-387 58-380-95 459z" fill="#a3c2fe"/>
<path d="m11297 4045l95-451 59-354-96 425z" fill="#ccd9ed"/>
<path d="m11392 3594l98-387 61-270-100 303z" fill="#e9d5cb"/>
</g>
<g stroke-opacity="0.09">
<path d="m11490 3207l100-276 62-212-101 218z" fill="#f5c1a9"/>
<path d="m11590 2931l103-137 63-161-104 86z" fill="#f7b093"/>
<path d="m11693 2794l105-21 63-143-105 3z" fill="#f7a889"/>
<path d="m11798 2773l106-12 63-109-106-22z" fill="#f6a586"/>
<path d="m11904 2761l105 0 64-80-106-29z" fill="#f6a385"/>
<path d="m12009 2761l107 51 63-78-106-53z" fill="#f6a385"/>
<path d="m12116 2812l106 19 64-63-107-34z" fill="#f6a586"/>
<path d="m12222 2831l107 17 63-79-106-1z" fill="#f6a385"/>
<path d="m12329 2848l107 30 63-95-107-14z" fill="#f6a283"/>
<path d="m12436 2878l108 40 63-105-108-30z" fill="#f6a283"/>
<path d="m12544 2918l107 47 63-133-107-19z" fill="#f6a283"/>
<path d="m12651 2965l108 84 63-152-108-65z" fill="#f6a586"/>
<path d="m12759 3049l108 102 63-179-108-75z" fill="#f7a98b"/>
<path d="m12867 3151l108 132 63-223-108-88z" fill="#f7b093"/>
<path d="m12975 3283l107 225 63-287-107-161z" fill="#f7ba9f"/>
<path d="m13082 3508l106 303 64-376-107-214z" fill="#f2c9b4"/>
</g>
<g stroke-opacity="0.16">
<path d="m13188 3811l105 409 65-433-106-352z" fill="#e5d8d1"/>
<path d="m13293 4220l104 481 65-437-104-477z" fill="#cad8ef"/>
<path d="m13397 4701l103 450 64-363-102-524z" fill="#a2c1ff"/>
<path d="m13500 5151l104 341 62-267-102-437z" fill="#7da0f9"/>
<path d="m13604 5492l104 221 62-183-104-305z" fill="#6282ea"/>
</g>
<g stroke-opacity="0.26">
<path d="m13708 5713l106 129 60-117-104-195z" fill="#516ddb"/>
<path d="m13814 5842l106 76 60-81-106-112z" fill="#4a63d3"/>
<path d="m13920 5918l107 52 60-66-107-67z" fill="#465ecf"/>
<path d="m14027 5970l108 49 59-64-107-51z" fill="#445acc"/>
<path d="m14135 6019l107 46 59-63-107-47z" fill="#4358cb"/>
<path d="m14242 6065l108 45 59-63-108-45z" fill="#4257c9"/>
<path d="m14350 6110l108 44 59-63-108-44z" fill="#4257c9"/>
<path d="m14458 6154l108 44 59-63-108-44z" fill="#4055c8"/>
<path d="m14566 6198l109 43 58-62-108-44z" fill="#3f53c6"/>
<path d="m14675 6241l109 43 58-62-109-43z" fill="#3e51c5"/>
<path d="m14784 6284l109 42 57-62-108-42z" fill="#3e51c5"/>
<path d="m10648 5011l100 16 63-64-100-10z" fill="#455cce"/>
<path d="m10748 5027l99 6 63-80-99 10z" fill="#485fd1"/>
<path d="m10847 5033l100-31 62-118-99 69z" fill="#4c66d6"/>
<path d="m10947 5002l98-101 61-189-97 172z" fill="#5875e1"/>
</g>
<g stroke-opacity="0.16">
<path d="m11045 4901l97-189 60-280-96 280z" fill="#6b8df0"/>
<path d="m11142 4712l96-305 59-362-95 387z" fill="#89acfd"/>
<path d="m11238 4407l96-418 58-395-95 451z" fill="#b1cbfc"/>
<path d="m11334 3989l97-390 59-392-98 387z" fill="#d5dbe5"/>
</g>
<g stroke-opacity="0.09">
<path d="m11431 3599l99-310 60-358-100 276z" fill="#edd2c3"/>
<path d="m11530 3289l102-223 61-272-103 137z" fill="#f5c1a9"/>
<path d="m11632 3066l104-102 62-191-105 21z" fill="#f7b599"/>
<path d="m11736 2964l104-65 64-138-106 12z" fill="#f7ad90"/>
<path d="m11840 2899l106-14 63-124-105 0z" fill="#f7a98b"/>
<path d="m11946 2885l107 40 63-113-107-51z" fill="#f7a889"/>
<path d="m12053 2925l106 18 63-112-106-19z" fill="#f7a889"/>
<path d="m12159 2943l107 24 63-119-107-17z" fill="#f7a889"/>
<path d="m12266 2967l107 61 63-150-107-30z" fill="#f7a889"/>
<path d="m12373 3028l108 60 63-170-108-40z" fill="#f7a98b"/>
<path d="m12481 3088l107 82 63-205-107-47z" fill="#f7ac8e"/>
<path d="m12588 3170l108 105 63-226-108-84z" fill="#f7b093"/>
<path d="m12696 3275l108 116 63-240-108-102z" fill="#f7b79b"/>
<path d="m12804 3391l107 221 64-329-108-132z" fill="#f6bfa6"/>
<path d="m12911 3612l107 307 64-411-107-225z" fill="#f1cdba"/>
</g>
<g stroke-opacity="0.16">
<path d="m13018 3919l106 361 64-469-106-303z" fill="#e3d9d3"/>
<path d="m13124 4280l105 438 64-498-105-409z" fill="#cad8ef"/>
<path d="m13229 4718l104 416 64-433-104-481z" fill="#a7c5fe"/>
<path d="m13333 5134l104 327 63-310-103-450z" fill="#84a7fc"/>
<path d="m13437 5461l105 239 62-208-104-341z" fill="#6788ee"/>
</g>
<g stroke-opacity="0.26">
<path d="m13542 5700l106 150 60-137-104-221z" fill="#5572df"/>
<path d="m13648 5850l106 87 60-95-106-129z" fill="#4b64d5"/>
<path d="m13754 5937l107 55 59-74-106-76z" fill="#465ecf"/>
<path d="m13861 5992l107 46 59-68-107-52z" fill="#455cce"/>
<path d="m13968 6038l108 46 59-65-108-49z" fill="#445acc"/>
<path d="m14076 6084l107 45 59-64-107-46z" fill="#4358cb"/>
<path d="m14183 6129l108 44 59-63-108-45z" fill="#4257c9"/>
<path d="m14291 6173l108 44 59-63-108-44z" fill="#4055c8"/>
<path d="m14399 6217l109 44 58-63-108-44z" fill="#3f53c6"/>
<path d="m14508 6261l108 43 59-63-109-43z" fill="#3f53c6"/>
<path d="m14616 6304l109 42 59-62-109-43z" fill="#3e51c5"/>
<path d="m14725 6346l109 42 59-62-109-42z" fill="#3e51c5"/>
<path d="m10584 5069l100 19 64-61-100-16z" fill="#455cce"/>
<path d="m10684 5088l100 14 63-69-99-6z" fill="#465ecf"/>
<path d="m10784 5102l100-4 63-96-100 31z" fill="#4961d2"/>
<path d="m10884 5098l100-44 61-153-98 101z" fill="#506bda"/>
</g>
<g stroke-opacity="0.16">
<path d="m10984 5054l98-107 60-235-97 189z" fill="#5b7ae5"/>
<path d="m11082 4947l98-199 58-341-96 305z" fill="#7093f3"/>
<path d="m11180 4748l97-310 57-449-96 418z" fill="#92b4fe"/>
<path d="m11277 4438l96-366 58-473-97 390z" fill="#b6cefa"/>
<path d="m11373 4072l99-331 58-452-99 310z" fill="#d5dbe5"/>
</g>
<g stroke-opacity="0.09">
<path d="m11472 3741l100-256 60-419-102 223z" fill="#ead5c9"/>
<path d="m11572 3485l103-185 61-336-104 102z" fill="#f3c8b2"/>
<path d="m11675 3300l104-123 61-278-104 65z" fill="#f6bda2"/>
<path d="m11779 3177l105-53 62-239-106 14z" fill="#f7b599"/>
<path d="m11884 3124l106 10 63-209-107-40z" fill="#f7b396"/>
<path d="m11990 3134l106 13 63-204-106-18z" fill="#f7b194"/>
<path d="m12096 3147l107 13 63-193-107-24z" fill="#f7b194"/>
<path d="m12203 3160l107 67 63-199-107-61z" fill="#f7b194"/>
<path d="m12310 3227l108 102 63-241-108-60z" fill="#f7b599"/>
<path d="m12418 3329l108 133 62-292-107-82z" fill="#f7ba9f"/>
<path d="m12526 3462l107 156 63-343-108-105z" fill="#f5c1a9"/>
<path d="m12633 3618l108 177 63-404-108-116z" fill="#f2c9b4"/>
<path d="m12741 3795l107 299 63-482-107-221z" fill="#ebd3c6"/>
</g>
<g stroke-opacity="0.16">
<path d="m12848 4094l106 347 64-522-107-307z" fill="#dbdcde"/>
<path d="m12954 4441l106 372 64-533-106-361z" fill="#c4d5f3"/>
<path d="m13060 4813l105 377 64-472-105-438z" fill="#a5c3fe"/>
<path d="m13165 5190l105 307 63-363-104-416z" fill="#84a7fc"/>
<path d="m13270 5497l105 216 62-252-104-327z" fill="#6a8bef"/>
</g>
<g stroke-opacity="0.26">
<path d="m13375 5713l106 143 61-156-105-239z" fill="#5875e1"/>
<path d="m13481 5856l106 92 61-98-106-150z" fill="#4e68d8"/>
<path d="m13587 5948l107 63 60-74-106-87z" fill="#485fd1"/>
<path d="m13694 6011l107 50 60-69-107-55z" fill="#455cce"/>
<path d="m13801 6061l107 45 60-68-107-46z" fill="#445acc"/>
<path d="m13908 6106l108 43 60-65-108-46z" fill="#4358cb"/>
<path d="m14016 6149l108 44 59-64-107-45z" fill="#4257c9"/>
<path d="m14124 6193l108 45 59-65-108-44z" fill="#4257c9"/>
<path d="m14232 6238l108 43 59-64-108-44z" fill="#4055c8"/>
<path d="m14340 6281l109 44 59-64-109-44z" fill="#3f53c6"/>
<path d="m14449 6325l109 42 58-63-108-43z" fill="#3e51c5"/>
<path d="m14558 6367l109 42 58-63-109-42z" fill="#3e51c5"/>
<path d="m14667 6409l109 41 58-62-109-42z" fill="#3d50c3"/>
<path d="m10520 5128l101 21 63-61-100-19z" fill="#445acc"/>
<path d="m10621 5149l100 18 63-65-100-14z" fill="#455cce"/>
<path d="m10721 5167l100 10 63-79-100 4z" fill="#485fd1"/>
<path d="m10821 5177l100-11 63-112-100 44z" fill="#4b64d5"/>
<path d="m10921 5166l100-47 61-172-98 107z" fill="#516ddb"/>
</g>
<g stroke-opacity="0.16">
<path d="m11021 5119l100-103 59-268-98 199z" fill="#5f7fe8"/>
<path d="m11121 5016l98-185 58-393-97 310z" fill="#7597f6"/>
<path d="m11219 4831l98-262 56-497-96 366z" fill="#92b4fe"/>
<path d="m11317 4569l98-296 57-532-99 331z" fill="#b2ccfb"/>
<path d="m11415 4273l100-264 57-524-100 256z" fill="#ccd9ed"/>
<path d="m11515 4009l101-224 59-485-103 185z" fill="#dfdbd9"/>
</g>
<g stroke-opacity="0.09">
<path d="m11616 3785l103-152 60-456-104 123z" fill="#ebd3c6"/>
<path d="m11719 3633l105-74 60-435-105 53z" fill="#f1ccb8"/>
<path d="m11824 3559l105-43 61-382-106-10z" fill="#f3c7b1"/>
<path d="m11929 3516l106-33 61-336-106-13z" fill="#f4c5ad"/>
<path d="m12035 3483l106-15 62-308-107-13z" fill="#f5c1a9"/>
<path d="m12141 3468l107 65 62-306-107-67z" fill="#f5c1a9"/>
<path d="m12248 3533l108 157 62-361-108-102z" fill="#f3c7b1"/>
<path d="m12356 3690l107 196 63-424-108-133z" fill="#efcebd"/>
</g>
<g stroke-opacity="0.16">
<path d="m12463 3886l108 224 62-492-107-156z" fill="#e9d5cb"/>
<path d="m12571 4110l107 233 63-548-108-177z" fill="#dedcdb"/>
<path d="m12678 4343l106 304 64-553-107-299z" fill="#cedaeb"/>
<path d="m12784 4647l107 326 63-532-106-347z" fill="#b7cff9"/>
<path d="m12891 4973l105 303 64-463-106-372z" fill="#9bbcff"/>
<path d="m12996 5276l106 266 63-352-105-377z" fill="#80a3fa"/>
<path d="m13102 5542l106 194 62-239-105-307z" fill="#688aef"/>
</g>
<g stroke-opacity="0.26">
<path d="m13208 5736l106 134 61-157-105-216z" fill="#5875e1"/>
<path d="m13314 5870l106 91 61-105-106-143z" fill="#4e68d8"/>
<path d="m13420 5961l107 62 60-75-106-92z" fill="#4961d2"/>
<path d="m13527 6023l107 53 60-65-107-63z" fill="#465ecf"/>
<path d="m13634 6076l107 49 60-64-107-50z" fill="#445acc"/>
<path d="m13741 6125l108 45 59-64-107-45z" fill="#4358cb"/>
<path d="m13849 6170l107 43 60-64-108-43z" fill="#4358cb"/>
<path d="m13956 6213l108 44 60-64-108-44z" fill="#4257c9"/>
<path d="m14064 6257l109 45 59-64-108-45z" fill="#4055c8"/>
<path d="m14173 6302l108 43 59-64-108-43z" fill="#3f53c6"/>
<path d="m14281 6345l109 43 59-63-109-44z" fill="#3f53c6"/>
<path d="m14390 6388l109 42 59-63-109-42z" fill="#3e51c5"/>
<path d="m14499 6430l109 42 59-63-109-42z" fill="#3e51c5"/>
<path d="m14608 6472l110 41 58-63-109-41z" fill="#3d50c3"/>
<path d="m10456 5191l101 20 64-62-101-21z" fill="#445acc"/>
<path d="m10557 5211l100 20 64-64-100-18z" fill="#445acc"/>
<path d="m10657 5231l101 16 63-70-100-10z" fill="#455cce"/>
<path d="m10758 5247l101 8 62-89-100 11z" fill="#485fd1"/>
<path d="m10859 5255l100-7 62-129-100 47z" fill="#4b64d5"/>
<path d="m10959 5248l101-34 61-198-100 103z" fill="#536edd"/>
</g>
<g stroke-opacity="0.16">
<path d="m11060 5214l100-88 59-295-98 185z" fill="#5e7de7"/>
<path d="m11160 5126l99-150 58-407-98 262z" fill="#7093f3"/>
<path d="m11259 4976l99-184 57-519-98 296z" fill="#89acfd"/>
<path d="m11358 4792l100-207 57-576-100 264z" fill="#a2c1ff"/>
<path d="m11458 4585l101-211 57-589-101 224z" fill="#bad0f8"/>
<path d="m11559 4374l102-162 58-579-103 152z" fill="#cbd8ee"/>
<path d="m11661 4212l104-87 59-566-105 74z" fill="#d6dce4"/>
<path d="m11765 4125l104-71 60-538-105 43z" fill="#dddcdc"/>
<path d="m11869 4054l105-60 61-511-106 33z" fill="#e3d9d3"/>
<path d="m11974 3994l106-2 61-524-106 15z" fill="#e6d7cf"/>
<path d="m12080 3992l107 74 61-533-107-65z" fill="#e6d7cf"/>
<path d="m12187 4066l107 157 62-533-108-157z" fill="#e1dad6"/>
<path d="m12294 4223l107 203 62-540-107-196z" fill="#d7dce3"/>
<path d="m12401 4426l108 245 62-561-108-224z" fill="#cad8ef"/>
<path d="m12509 4671l106 254 63-582-107-233z" fill="#b9d0f9"/>
<path d="m12615 4925l107 253 62-531-106-304z" fill="#a3c2fe"/>
<path d="m12722 5178l106 237 63-442-107-326z" fill="#8db0fe"/>
<path d="m12828 5415l106 208 62-347-105-303z" fill="#779af7"/>
<path d="m12934 5623l106 163 62-244-106-266z" fill="#6485ec"/>
</g>
<g stroke-opacity="0.26">
<path d="m13040 5786l106 115 62-165-106-194z" fill="#5673e0"/>
<path d="m13146 5901l106 83 62-114-106-134z" fill="#4f69d9"/>
<path d="m13252 5984l107 62 61-85-106-91z" fill="#4961d2"/>
<path d="m13359 6046l107 51 61-74-107-62z" fill="#465ecf"/>
<path d="m13466 6097l107 49 61-70-107-53z" fill="#455cce"/>
<path d="m13573 6146l108 46 60-67-107-49z" fill="#445acc"/>
<path d="m13681 6192l108 44 60-66-108-45z" fill="#4358cb"/>
<path d="m13789 6236l107 43 60-66-107-43z" fill="#4257c9"/>
<path d="m13896 6279l109 44 59-66-108-44z" fill="#4055c8"/>
<path d="m14005 6323l108 44 60-65-109-45z" fill="#4055c8"/>
<path d="m14113 6367l109 43 59-65-108-43z" fill="#3f53c6"/>
<path d="m14222 6410l109 42 59-64-109-43z" fill="#3e51c5"/>
<path d="m14331 6452l109 42 59-64-109-42z" fill="#3e51c5"/>
<path d="m14440 6494l109 41 59-63-109-42z" fill="#3d50c3"/>
<path d="m14549 6535l110 40 59-62-110-41z" fill="#3d50c3"/>
<path d="m10392 5253l101 20 64-62-101-20z" fill="#4358cb"/>
<path d="m10493 5273l100 21 64-63-100-20z" fill="#445acc"/>
<path d="m10593 5294l101 21 64-68-101-16z" fill="#455cce"/>
<path d="m10694 5315l101 16 64-76-101-8z" fill="#465ecf"/>
<path d="m10795 5331l101 11 63-94-100 7z" fill="#485fd1"/>
<path d="m10896 5342l101 1 63-129-101 34z" fill="#4b64d5"/>
<path d="m10997 5343l101-25 62-192-100 88z" fill="#516ddb"/>
</g>
<g stroke-opacity="0.16">
<path d="m11098 5318l101-58 60-284-99 150z" fill="#5b7ae5"/>
<path d="m11199 5260l101-82 58-386-99 184z" fill="#688aef"/>
<path d="m11300 5178l101-113 57-480-100 207z" fill="#799cf8"/>
<path d="m11401 5065l101-125 57-566-101 211z" fill="#8caffe"/>
<path d="m11502 4940l102-124 57-604-102 162z" fill="#9ebeff"/>
<path d="m11604 4816l103-90 58-601-104 87z" fill="#abc8fd"/>
<path d="m11707 4726l104-60 58-612-104 71z" fill="#b5cdfa"/>
<path d="m11811 4666l105-50 58-622-105 60z" fill="#bcd2f7"/>
<path d="m11916 4616l105 13 59-637-106 2z" fill="#c1d4f4"/>
<path d="m12021 4629l106 50 60-613-107-74z" fill="#c1d4f4"/>
<path d="m12127 4679l107 129 60-585-107-157z" fill="#bbd1f8"/>
<path d="m12234 4808l106 198 61-580-107-203z" fill="#aec9fc"/>
<path d="m12340 5006l107 201 62-536-108-245z" fill="#9ebeff"/>
<path d="m12447 5207l106 178 62-460-106-254z" fill="#8db0fe"/>
<path d="m12553 5385l107 171 62-378-107-253z" fill="#7b9ff9"/>
<path d="m12660 5556l106 157 62-298-106-237z" fill="#6b8df0"/>
<path d="m12766 5713l106 127 62-217-106-208z" fill="#5e7de7"/>
</g>
<g stroke-opacity="0.26">
<path d="m12872 5840l106 98 62-152-106-163z" fill="#5470de"/>
<path d="m12978 5938l107 73 61-110-106-115z" fill="#4e68d8"/>
<path d="m13085 6011l106 59 61-86-106-83z" fill="#4961d2"/>
<path d="m13191 6070l107 50 61-74-107-62z" fill="#465ecf"/>
<path d="m13298 6120l107 47 61-70-107-51z" fill="#455cce"/>
<path d="m13405 6167l108 47 60-68-107-49z" fill="#445acc"/>
<path d="m13513 6214l107 44 61-66-108-46z" fill="#4358cb"/>
<path d="m13620 6258l108 44 61-66-108-44z" fill="#4257c9"/>
<path d="m13728 6302l108 43 60-66-107-43z" fill="#4257c9"/>
<path d="m13836 6345l109 44 60-66-109-44z" fill="#4055c8"/>
<path d="m13945 6389l108 43 60-65-108-44z" fill="#3f53c6"/>
<path d="m14053 6432l109 43 60-65-109-43z" fill="#3f53c6"/>
<path d="m14162 6475l109 41 60-64-109-42z" fill="#3e51c5"/>
<path d="m14271 6516l109 42 60-64-109-42z" fill="#3d50c3"/>
<path d="m14380 6558l110 40 59-63-109-41z" fill="#3d50c3"/>
<path d="m14490 6598l110 40 59-63-110-40z" fill="#3d50c3"/>
<path d="m10328 5314l100 20 65-61-101-20z" fill="#4358cb"/>
<path d="m10428 5334l101 23 64-63-100-21z" fill="#4358cb"/>
<path d="m10529 5357l101 23 64-65-101-21z" fill="#445acc"/>
<path d="m10630 5380l101 20 64-69-101-16z" fill="#455cce"/>
<path d="m10731 5400l102 18 63-76-101-11z" fill="#465ecf"/>
<path d="m10833 5418l101 16 63-91-101-1z" fill="#485fd1"/>
<path d="m10934 5434l102 5 62-121-101 25z" fill="#4a63d3"/>
<path d="m11036 5439l102-3 61-176-101 58z" fill="#4f69d9"/>
<path d="m11138 5436l102-17 60-241-101 82z" fill="#5572df"/>
</g>
<g stroke-opacity="0.16">
<path d="m11240 5419l101-41 60-313-101 113z" fill="#5e7de7"/>
<path d="m11341 5378l103-50 58-388-101 125z" fill="#688aef"/>
<path d="m11444 5328l102-61 58-451-102 124z" fill="#7396f5"/>
<path d="m11546 5267l103-42 58-499-103 90z" fill="#7ea1fa"/>
<path d="m11649 5225l104-24 58-535-104 60z" fill="#85a8fc"/>
<path d="m11753 5201l104-23 59-562-105 50z" fill="#8caffe"/>
<path d="m11857 5178l105 13 59-562-105-13z" fill="#90b2fe"/>
<path d="m11962 5191l105 26 60-538-106-50z" fill="#92b4fe"/>
<path d="m12067 5217l106 87 61-496-107-129z" fill="#8db0fe"/>
<path d="m12173 5304l106 138 61-436-106-198z" fill="#84a7fc"/>
<path d="m12279 5442l106 133 62-368-107-201z" fill="#7699f6"/>
<path d="m12385 5575l107 118 61-308-106-178z" fill="#6b8df0"/>
<path d="m12492 5693l106 107 62-244-107-171z" fill="#6180e9"/>
</g>
<g stroke-opacity="0.26">
<path d="m12598 5800l106 97 62-184-106-157z" fill="#5875e1"/>
<path d="m12704 5897l106 78 62-135-106-127z" fill="#516ddb"/>
<path d="m12810 5975l106 65 62-102-106-98z" fill="#4c66d6"/>
<path d="m12916 6040l107 54 62-83-107-73z" fill="#4961d2"/>
<path d="m13023 6094l107 51 61-75-106-59z" fill="#465ecf"/>
<path d="m13130 6145l107 46 61-71-107-50z" fill="#455cce"/>
<path d="m13237 6191l107 45 61-69-107-47z" fill="#445acc"/>
<path d="m13344 6236l108 45 61-67-108-47z" fill="#4358cb"/>
<path d="m13452 6281l108 44 60-67-107-44z" fill="#4257c9"/>
<path d="m13560 6325l108 43 60-66-108-44z" fill="#4257c9"/>
<path d="m13668 6368l108 44 60-67-108-43z" fill="#4055c8"/>
<path d="m13776 6412l108 43 61-66-109-44z" fill="#3f53c6"/>
<path d="m13884 6455l109 43 60-66-108-43z" fill="#3f53c6"/>
<path d="m13993 6498l109 41 60-64-109-43z" fill="#3e51c5"/>
<path d="m14102 6539l109 42 60-65-109-41z" fill="#3e51c5"/>
<path d="m14211 6581l110 41 59-64-109-42z" fill="#3d50c3"/>
<path d="m14321 6622l109 40 60-64-110-40z" fill="#3d50c3"/>
<path d="m14430 6662l110 39 60-63-110-40z" fill="#3c4ec2"/>
<path d="m10263 5376l101 22 64-64-100-20z" fill="#4257c9"/>
<path d="m10364 5398l101 23 64-64-101-23z" fill="#4358cb"/>
<path d="m10465 5421l101 24 64-65-101-23z" fill="#4358cb"/>
<path d="m10566 5445l101 22 64-67-101-20z" fill="#445acc"/>
<path d="m10667 5467l102 20 64-69-102-18z" fill="#455cce"/>
<path d="m10769 5487l101 21 64-74-101-16z" fill="#465ecf"/>
<path d="m10870 5508l102 18 64-87-102-5z" fill="#485fd1"/>
<path d="m10972 5526l103 16 63-106-102 3z" fill="#4961d2"/>
<path d="m11075 5542l102 11 63-134-102 17z" fill="#4c66d6"/>
<path d="m11177 5553l103 3 61-178-101 41z" fill="#506bda"/>
<path d="m11280 5556l103 0 61-228-103 50z" fill="#5470de"/>
</g>
<g stroke-opacity="0.16">
<path d="m11383 5556l102-13 61-276-102 61z" fill="#5a78e4"/>
<path d="m11485 5543l104-7 60-311-103 42z" fill="#5f7fe8"/>
<path d="m11589 5536l104 4 60-339-104 24z" fill="#6384eb"/>
<path d="m11693 5540l104 4 60-366-104 23z" fill="#6788ee"/>
<path d="m11797 5544l104 8 61-361-105-13z" fill="#6a8bef"/>
<path d="m11901 5552l105 15 61-350-105-26z" fill="#6c8ff1"/>
<path d="m12006 5567l106 62 61-325-106-87z" fill="#6b8df0"/>
<path d="m12112 5629l106 87 61-274-106-138z" fill="#6485ec"/>
<path d="m12218 5716l105 84 62-225-106-133z" fill="#5e7de7"/>
</g>
<g stroke-opacity="0.26">
<path d="m12323 5800l106 80 63-187-107-118z" fill="#5875e1"/>
<path d="m12429 5880l107 70 62-150-106-107z" fill="#536edd"/>
<path d="m12536 5950l106 63 62-116-106-97z" fill="#4e68d8"/>
<path d="m12642 6013l106 59 62-97-106-78z" fill="#4b64d5"/>
<path d="m12748 6072l107 53 61-85-106-65z" fill="#4961d2"/>
<path d="m12855 6125l107 47 61-78-107-54z" fill="#465ecf"/>
<path d="m12962 6172l107 44 61-71-107-51z" fill="#455cce"/>
<path d="m13069 6216l107 45 61-70-107-46z" fill="#445acc"/>
<path d="m13176 6261l107 44 61-69-107-45z" fill="#4358cb"/>
<path d="m13283 6305l108 44 61-68-108-45z" fill="#4358cb"/>
<path d="m13391 6349l108 44 61-68-108-44z" fill="#4257c9"/>
<path d="m13499 6393l108 43 61-68-108-43z" fill="#4055c8"/>
<path d="m13607 6436l108 43 61-67-108-44z" fill="#3f53c6"/>
<path d="m13715 6479l109 42 60-66-108-43z" fill="#3f53c6"/>
<path d="m13824 6521l109 42 60-65-109-43z" fill="#3e51c5"/>
<path d="m13933 6563l109 42 60-66-109-41z" fill="#3e51c5"/>
<path d="m14042 6605l109 40 60-64-109-42z" fill="#3d50c3"/>
<path d="m14151 6645l110 41 60-64-110-41z" fill="#3d50c3"/>
<path d="m14261 6686l110 39 59-63-109-40z" fill="#3c4ec2"/>
<path d="m14371 6725l110 39 59-63-110-39z" fill="#3c4ec2"/>
<path d="m10198 5438l101 24 65-64-101-22z" fill="#4055c8"/>
<path d="m10299 5462l101 23 65-64-101-23z" fill="#4257c9"/>
<path d="m10400 5485l101 24 65-64-101-24z" fill="#4358cb"/>
<path d="m10501 5509l102 23 64-65-101-22z" fill="#4358cb"/>
<path d="m10603 5532l101 23 65-68-102-20z" fill="#445acc"/>
<path d="m10704 5555l102 23 64-70-101-21z" fill="#455cce"/>
<path d="m10806 5578l103 23 63-75-102-18z" fill="#455cce"/>
<path d="m10909 5601l102 22 64-81-103-16z" fill="#465ecf"/>
<path d="m11011 5623l103 21 63-91-102-11z" fill="#485fd1"/>
<path d="m11114 5644l103 19 63-107-103-3z" fill="#4a63d3"/>
<path d="m11217 5663l103 18 63-125-103 0z" fill="#4b64d5"/>
<path d="m11320 5681l103 11 62-149-102 13z" fill="#4e68d8"/>
<path d="m11423 5692l104 14 62-170-104 7z" fill="#506bda"/>
<path d="m11527 5706l104 17 62-183-104-4z" fill="#536edd"/>
<path d="m11631 5723l104 16 62-195-104-4z" fill="#5572df"/>
<path d="m11735 5739l104 10 62-197-104-8z" fill="#5673e0"/>
<path d="m11839 5749l105 6 62-188-105-15z" fill="#5977e3"/>
<path d="m11944 5755l106 44 62-170-106-62z" fill="#5977e3"/>
<path d="m12050 5799l105 69 63-152-106-87z" fill="#5572df"/>
<path d="m12155 5868l106 67 62-135-105-84z" fill="#516ddb"/>
<path d="m12261 5935l106 61 62-116-106-80z" fill="#4f69d9"/>
<path d="m12367 5996l106 55 63-101-107-70z" fill="#4b64d5"/>
<path d="m12473 6051l107 51 62-89-106-63z" fill="#4a63d3"/>
<path d="m12580 6102l106 49 62-79-106-59z" fill="#485fd1"/>
<path d="m12686 6151l107 48 62-74-107-53z" fill="#465ecf"/>
<path d="m12793 6199l107 45 62-72-107-47z" fill="#455cce"/>
<path d="m12900 6244l107 43 62-71-107-44z" fill="#445acc"/>
<path d="m13007 6287l107 44 62-70-107-45z" fill="#4358cb"/>
<path d="m13114 6331l108 44 61-70-107-44z" fill="#4257c9"/>
<path d="m13222 6375l108 43 61-69-108-44z" fill="#4257c9"/>
<path d="m13330 6418l108 43 61-68-108-44z" fill="#4055c8"/>
<path d="m13438 6461l108 43 61-68-108-43z" fill="#4055c8"/>
<path d="m13546 6504l109 42 60-67-108-43z" fill="#3f53c6"/>
<path d="m13655 6546l108 42 61-67-109-42z" fill="#3e51c5"/>
<path d="m13763 6588l109 41 61-66-109-42z" fill="#3e51c5"/>
<path d="m13872 6629l110 41 60-65-109-42z" fill="#3d50c3"/>
<path d="m13982 6670l109 40 60-65-109-40z" fill="#3d50c3"/>
<path d="m14091 6710l110 40 60-64-110-41z" fill="#3c4ec2"/>
<path d="m14201 6750l110 39 60-64-110-39z" fill="#3c4ec2"/>
<path d="m14311 6789l110 38 60-63-110-39z" fill="#3c4ec2"/>
<path d="m10133 5501l101 25 65-64-101-24z" fill="#4055c8"/>
<path d="m10234 5526l101 24 65-65-101-23z" fill="#4055c8"/>
<path d="m10335 5550l102 24 64-65-101-24z" fill="#4257c9"/>
<path d="m10437 5574l101 24 65-66-102-23z" fill="#4358cb"/>
<path d="m10538 5598l102 24 64-67-101-23z" fill="#4358cb"/>
<path d="m10640 5622l102 25 64-69-102-23z" fill="#445acc"/>
<path d="m10742 5647l102 24 65-70-103-23z" fill="#445acc"/>
<path d="m10844 5671l103 25 64-73-102-22z" fill="#455cce"/>
<path d="m10947 5696l103 24 64-76-103-21z" fill="#465ecf"/>
<path d="m11050 5720l103 23 64-80-103-19z" fill="#465ecf"/>
<path d="m11153 5743l103 24 64-86-103-18z" fill="#485fd1"/>
<path d="m11256 5767l104 22 63-97-103-11z" fill="#4961d2"/>
<path d="m11360 5789l104 21 63-104-104-14z" fill="#4a63d3"/>
<path d="m11464 5810l104 22 63-109-104-17z" fill="#4b64d5"/>
<path d="m11568 5832l104 18 63-111-104-16z" fill="#4c66d6"/>
<path d="m11672 5850l105 13 62-114-104-10z" fill="#4e68d8"/>
<path d="m11777 5863l104 8 63-116-105-6z" fill="#506bda"/>
<path d="m11881 5871l106 38 63-110-106-44z" fill="#516ddb"/>
<path d="m11987 5909l106 63 62-104-105-69z" fill="#4f69d9"/>
<path d="m12093 5972l105 60 63-97-106-67z" fill="#4c66d6"/>
<path d="m12198 6032l106 52 63-88-106-61z" fill="#4a63d3"/>
<path d="m12304 6084l107 50 62-83-106-55z" fill="#4961d2"/>
<path d="m12411 6134l106 47 63-79-107-51z" fill="#465ecf"/>
<path d="m12517 6181l107 45 62-75-106-49z" fill="#455cce"/>
<path d="m12624 6226l107 46 62-73-107-48z" fill="#455cce"/>
<path d="m12731 6272l107 44 62-72-107-45z" fill="#445acc"/>
<path d="m12838 6316l107 43 62-72-107-43z" fill="#4358cb"/>
<path d="m12945 6359l107 43 62-71-107-44z" fill="#4257c9"/>
<path d="m13052 6402l108 43 62-70-108-44z" fill="#4257c9"/>
<path d="m13160 6445l108 42 62-69-108-43z" fill="#4055c8"/>
<path d="m13268 6487l108 42 62-68-108-43z" fill="#3f53c6"/>
<path d="m13376 6529l109 42 61-67-108-43z" fill="#3f53c6"/>
<path d="m13485 6571l109 42 61-67-109-42z" fill="#3e51c5"/>
<path d="m13594 6613l109 41 60-66-108-42z" fill="#3e51c5"/>
<path d="m13703 6654l109 40 60-65-109-41z" fill="#3d50c3"/>
<path d="m13812 6694l109 41 61-65-110-41z" fill="#3d50c3"/>
<path d="m13921 6735l110 39 60-64-109-40z" fill="#3d50c3"/>
<path d="m14031 6774l110 39 60-63-110-40z" fill="#3c4ec2"/>
<path d="m14141 6813l110 39 60-63-110-39z" fill="#3c4ec2"/>
<path d="m14251 6852l110 38 60-63-110-38z" fill="#3c4ec2"/>
<path d="m10068 5564l101 25 65-63-101-25z" fill="#3f53c6"/>
<path d="m10169 5589l101 25 65-64-101-24z" fill="#4055c8"/>
<path d="m10270 5614l102 25 65-65-102-24z" fill="#4055c8"/>
<path d="m10372 5639l101 25 65-66-101-24z" fill="#4257c9"/>
<path d="m10473 5664l102 25 65-67-102-24z" fill="#4257c9"/>
<path d="m10575 5689l102 25 65-67-102-25z" fill="#4358cb"/>
<path d="m10677 5714l103 25 64-68-102-24z" fill="#4358cb"/>
<path d="m10780 5739l103 26 64-69-103-25z" fill="#445acc"/>
<path d="m10883 5765l103 26 64-71-103-24z" fill="#445acc"/>
<path d="m10986 5791l103 25 64-73-103-23z" fill="#455cce"/>
<path d="m11089 5816l103 26 64-75-103-24z" fill="#465ecf"/>
<path d="m11192 5842l104 25 64-78-104-22z" fill="#465ecf"/>
<path d="m11296 5867l104 24 64-81-104-21z" fill="#485fd1"/>
<path d="m11400 5891l104 22 64-81-104-22z" fill="#4961d2"/>
<path d="m11504 5913l105 18 63-81-104-18z" fill="#4961d2"/>
<path d="m11609 5931l104 16 64-84-105-13z" fill="#4b64d5"/>
<path d="m11713 5947l105 12 63-88-104-8z" fill="#4c66d6"/>
<path d="m11818 5959l106 41 63-91-106-38z" fill="#4e68d8"/>
<path d="m11924 6000l105 58 64-86-106-63z" fill="#4b64d5"/>
<path d="m12029 6058l106 55 63-81-105-60z" fill="#4a63d3"/>
<path d="m12135 6113l107 50 62-79-106-52z" fill="#485fd1"/>
<path d="m12242 6163l106 48 63-77-107-50z" fill="#465ecf"/>
<path d="m12348 6211l106 45 63-75-106-47z" fill="#455cce"/>
<path d="m12454 6256l107 43 63-73-107-45z" fill="#445acc"/>
<path d="m12561 6299l107 43 63-70-107-46z" fill="#445acc"/>
<path d="m12668 6342l107 44 63-70-107-44z" fill="#4358cb"/>
<path d="m12775 6386l108 43 62-70-107-43z" fill="#4257c9"/>
<path d="m12883 6429l108 43 61-70-107-43z" fill="#4257c9"/>
<path d="m12991 6472l107 42 62-69-108-43z" fill="#4055c8"/>
<path d="m13098 6514l109 42 61-69-108-42z" fill="#3f53c6"/>
<path d="m13207 6556l108 41 61-68-108-42z" fill="#3f53c6"/>
<path d="m13315 6597l108 41 62-67-109-42z" fill="#3e51c5"/>
<path d="m13423 6638l109 41 62-66-109-42z" fill="#3e51c5"/>
<path d="m13532 6679l109 41 62-66-109-41z" fill="#3d50c3"/>
<path d="m13641 6720l110 40 61-66-109-40z" fill="#3d50c3"/>
<path d="m13751 6760l109 39 61-64-109-41z" fill="#3d50c3"/>
<path d="m13860 6799l110 39 61-64-110-39z" fill="#3c4ec2"/>
<path d="m13970 6838l110 39 61-64-110-39z" fill="#3c4ec2"/>
<path d="m14080 6877l111 38 60-63-110-39z" fill="#3c4ec2"/>
<path d="m14191 6915l110 38 60-63-110-38z" fill="#3b4cc0"/>
<path d="m10002 5627l101 25 66-63-101-25z" fill="#3f53c6"/>
<path d="m10103 5652l102 26 65-64-101-25z" fill="#3f53c6"/>
<path d="m10205 5678l101 26 66-65-102-25z" fill="#4055c8"/>
<path d="m10306 5704l102 26 65-66-101-25z" fill="#4055c8"/>
<path d="m10408 5730l102 25 65-66-102-25z" fill="#4257c9"/>
<path d="m10510 5755l103 26 64-67-102-25z" fill="#4257c9"/>
<path d="m10613 5781l102 27 65-69-103-25z" fill="#4358cb"/>
<path d="m10715 5808l103 28 65-71-103-26z" fill="#4358cb"/>
<path d="m10818 5836l103 27 65-72-103-26z" fill="#4358cb"/>
<path d="m10921 5863l103 25 65-72-103-25z" fill="#445acc"/>
<path d="m11024 5888l104 25 64-71-103-26z" fill="#445acc"/>
<path d="m11128 5913l104 27 64-73-104-25z" fill="#455cce"/>
<path d="m11232 5940l104 27 64-76-104-24z" fill="#455cce"/>
<path d="m11336 5967l104 23 64-77-104-22z" fill="#465ecf"/>
<path d="m11440 5990l105 20 64-79-105-18z" fill="#485fd1"/>
<path d="m11545 6010l105 20 63-83-104-16z" fill="#4961d2"/>
<path d="m11650 6030l105 16 63-87-105-12z" fill="#4a63d3"/>
<path d="m11755 6046l105 37 64-83-106-41z" fill="#4b64d5"/>
<path d="m11860 6083l106 53 63-78-105-58z" fill="#4a63d3"/>
<path d="m11966 6136l106 54 63-77-106-55z" fill="#485fd1"/>
<path d="m12072 6190l106 49 64-76-107-50z" fill="#465ecf"/>
<path d="m12178 6239l107 47 63-75-106-48z" fill="#455cce"/>
<path d="m12285 6286l107 44 62-74-106-45z" fill="#445acc"/>
<path d="m12392 6330l106 42 63-73-107-43z" fill="#4358cb"/>
<path d="m12498 6372l108 42 62-72-107-43z" fill="#4358cb"/>
<path d="m12606 6414l107 43 62-71-107-44z" fill="#4257c9"/>
<path d="m12713 6457l107 42 63-70-108-43z" fill="#4055c8"/>
<path d="m12820 6499l108 42 63-69-108-43z" fill="#4055c8"/>
<path d="m12928 6541l108 41 62-68-107-42z" fill="#3f53c6"/>
<path d="m13036 6582l109 42 62-68-109-42z" fill="#3f53c6"/>
<path d="m13145 6624l108 41 62-68-108-41z" fill="#3e51c5"/>
<path d="m13253 6665l109 40 61-67-108-41z" fill="#3e51c5"/>
<path d="m13362 6705l109 40 61-66-109-41z" fill="#3d50c3"/>
<path d="m13471 6745l109 40 61-65-109-41z" fill="#3d50c3"/>
<path d="m13580 6785l110 40 61-65-110-40z" fill="#3d50c3"/>
<path d="m13690 6825l109 39 61-65-109-39z" fill="#3c4ec2"/>
<path d="m13799 6864l110 39 61-65-110-39z" fill="#3c4ec2"/>
<path d="m13909 6903l110 38 61-64-110-39z" fill="#3c4ec2"/>
<path d="m14019 6941l111 38 61-64-111-38z" fill="#3b4cc0"/>
<path d="m14130 6979l111 37 60-63-110-38z" fill="#3b4cc0"/>
<path d="m9936 5690l102 26 65-64-101-25z" fill="#3e51c5"/>
<path d="m10038 5716l101 27 66-65-102-26z" fill="#3f53c6"/>
<path d="m10139 5743l102 27 65-66-101-26z" fill="#3f53c6"/>
<path d="m10241 5770l102 26 65-66-102-26z" fill="#4055c8"/>
<path d="m10343 5796l102 27 65-68-102-25z" fill="#4055c8"/>
<path d="m10445 5823l102 26 66-68-103-26z" fill="#4055c8"/>
<path d="m10547 5849l103 28 65-69-102-27z" fill="#4257c9"/>
<path d="m10650 5877l103 28 65-69-103-28z" fill="#4257c9"/>
<path d="m10753 5905l103 27 65-69-103-27z" fill="#4358cb"/>
<path d="m10856 5932l104 27 64-71-103-25z" fill="#4358cb"/>
<path d="m10960 5959l104 27 64-73-104-25z" fill="#4358cb"/>
<path d="m11064 5986l104 28 64-74-104-27z" fill="#445acc"/>
<path d="m11168 6014l104 28 64-75-104-27z" fill="#445acc"/>
<path d="m11272 6042l104 23 64-75-104-23z" fill="#455cce"/>
<path d="m11376 6065l105 22 64-77-105-20z" fill="#465ecf"/>
<path d="m11481 6087l105 22 64-79-105-20z" fill="#465ecf"/>
<path d="m11586 6109l105 18 64-81-105-16z" fill="#485fd1"/>
<path d="m11691 6127l106 38 63-82-105-37z" fill="#4961d2"/>
<path d="m11797 6165l106 52 63-81-106-53z" fill="#485fd1"/>
<path d="m11903 6217l106 49 63-76-106-54z" fill="#465ecf"/>
<path d="m12009 6266l106 47 63-74-106-49z" fill="#455cce"/>
<path d="m12115 6313l107 46 63-73-107-47z" fill="#445acc"/>
<path d="m12222 6359l106 43 64-72-107-44z" fill="#4358cb"/>
<path d="m12328 6402l108 42 62-72-106-42z" fill="#4257c9"/>
<path d="m12436 6444l107 41 63-71-108-42z" fill="#4257c9"/>
<path d="m12543 6485l107 42 63-70-107-43z" fill="#4055c8"/>
<path d="m12650 6527l108 42 62-70-107-42z" fill="#4055c8"/>
<path d="m12758 6569l108 41 62-69-108-42z" fill="#3f53c6"/>
<path d="m12866 6610l108 41 62-69-108-41z" fill="#3f53c6"/>
<path d="m12974 6651l108 40 63-67-109-42z" fill="#3e51c5"/>
<path d="m13082 6691l109 41 62-67-108-41z" fill="#3e51c5"/>
<path d="m13191 6732l109 40 62-67-109-40z" fill="#3d50c3"/>
<path d="m13300 6772l109 39 62-66-109-40z" fill="#3d50c3"/>
<path d="m13409 6811l109 40 62-66-109-40z" fill="#3d50c3"/>
<path d="m13518 6851l110 39 62-65-110-40z" fill="#3c4ec2"/>
<path d="m13628 6890l110 38 61-64-109-39z" fill="#3c4ec2"/>
<path d="m13738 6928l110 38 61-63-110-39z" fill="#3c4ec2"/>
<path d="m13848 6966l111 38 60-63-110-38z" fill="#3b4cc0"/>
<path d="m13959 7004l110 38 61-63-111-38z" fill="#3b4cc0"/>
<path d="m14069 7042l111 37 61-63-111-37z" fill="#3b4cc0"/>
<path d="m9870 5752l102 28 66-64-102-26z" fill="#3e51c5"/>
<path d="m9972 5780l101 27 66-64-101-27z" fill="#3e51c5"/>
<path d="m10073 5807l102 27 66-64-102-27z" fill="#3f53c6"/>
<path d="m10175 5834l102 28 66-66-102-26z" fill="#3f53c6"/>
<path d="m10277 5862l103 27 65-66-102-27z" fill="#3f53c6"/>
<path d="m10380 5889l102 28 65-68-102-26z" fill="#4055c8"/>
<path d="m10482 5917l103 28 65-68-103-28z" fill="#4055c8"/>
<path d="m10585 5945l103 28 65-68-103-28z" fill="#4055c8"/>
<path d="m10688 5973l103 28 65-69-103-27z" fill="#4257c9"/>
<path d="m10791 6001l104 28 65-70-104-27z" fill="#4257c9"/>
<path d="m10895 6029l104 28 65-71-104-27z" fill="#4257c9"/>
<path d="m10999 6057l104 28 65-71-104-28z" fill="#4358cb"/>
<path d="m11103 6085l104 28 65-71-104-28z" fill="#4358cb"/>
<path d="m11207 6113l105 27 64-75-104-23z" fill="#445acc"/>
<path d="m11312 6140l105 24 64-77-105-22z" fill="#445acc"/>
<path d="m11417 6164l105 23 64-78-105-22z" fill="#455cce"/>
<path d="m11522 6187l105 19 64-79-105-18z" fill="#465ecf"/>
<path d="m11627 6206l106 38 64-79-106-38z" fill="#465ecf"/>
<path d="m11733 6244l106 51 64-78-106-52z" fill="#455cce"/>
<path d="m11839 6295l106 47 64-76-106-49z" fill="#445acc"/>
<path d="m11945 6342l107 45 63-74-106-47z" fill="#4358cb"/>
<path d="m12052 6387l106 44 64-72-107-46z" fill="#4358cb"/>
<path d="m12158 6431l107 43 63-72-106-43z" fill="#4257c9"/>
<path d="m12265 6474l107 41 64-71-108-42z" fill="#4055c8"/>
<path d="m12372 6515l108 41 63-71-107-41z" fill="#4055c8"/>
<path d="m12480 6556l107 41 63-70-107-42z" fill="#3f53c6"/>
<path d="m12587 6597l108 41 63-69-108-42z" fill="#3f53c6"/>
<path d="m12695 6638l108 41 63-69-108-41z" fill="#3e51c5"/>
<path d="m12803 6679l108 40 63-68-108-41z" fill="#3e51c5"/>
<path d="m12911 6719l109 40 62-68-108-40z" fill="#3e51c5"/>
<path d="m13020 6759l109 39 62-66-109-41z" fill="#3d50c3"/>
<path d="m13129 6798l109 40 62-66-109-40z" fill="#3d50c3"/>
<path d="m13238 6838l109 39 62-66-109-39z" fill="#3d50c3"/>
<path d="m13347 6877l110 39 61-65-109-40z" fill="#3c4ec2"/>
<path d="m13457 6916l109 38 62-64-110-39z" fill="#3c4ec2"/>
<path d="m13566 6954l110 38 62-64-110-38z" fill="#3c4ec2"/>
<path d="m13676 6992l111 38 61-64-110-38z" fill="#3c4ec2"/>
<path d="m13787 7030l110 38 62-64-111-38z" fill="#3b4cc0"/>
<path d="m13897 7068l111 37 61-63-110-38z" fill="#3b4cc0"/>
<path d="m14008 7105l111 37 61-63-111-37z" fill="#3b4cc0"/>
<path d="m9804 5814l101 29 67-63-102-28z" fill="#3d50c3"/>
<path d="m9905 5843l102 28 66-64-101-27z" fill="#3e51c5"/>
<path d="m10007 5871l102 28 66-65-102-27z" fill="#3e51c5"/>
<path d="m10109 5899l102 28 66-65-102-28z" fill="#3e51c5"/>
<path d="m10211 5927l103 28 66-66-103-27z" fill="#3f53c6"/>
<path d="m10314 5955l103 29 65-67-102-28z" fill="#3f53c6"/>
<path d="m10417 5984l102 29 66-68-103-28z" fill="#3f53c6"/>
<path d="m10519 6013l104 28 65-68-103-28z" fill="#4055c8"/>
<path d="m10623 6041l103 28 65-68-103-28z" fill="#4055c8"/>
<path d="m10726 6069l104 29 65-69-104-28z" fill="#4055c8"/>
<path d="m10830 6098l104 30 65-71-104-28z" fill="#4257c9"/>
<path d="m10934 6128l104 28 65-71-104-28z" fill="#4257c9"/>
<path d="m11038 6156l104 29 65-72-104-28z" fill="#4257c9"/>
<path d="m11142 6185l105 28 65-73-105-27z" fill="#4358cb"/>
<path d="m11247 6213l105 25 65-74-105-24z" fill="#4358cb"/>
<path d="m11352 6238l105 24 65-75-105-23z" fill="#445acc"/>
<path d="m11457 6262l106 21 64-77-105-19z" fill="#455cce"/>
<path d="m11563 6283l105 37 65-76-106-38z" fill="#455cce"/>
<path d="m11668 6320l107 50 64-75-106-51z" fill="#445acc"/>
<path d="m11775 6370l106 45 64-73-106-47z" fill="#4358cb"/>
<path d="m11881 6415l107 44 64-72-107-45z" fill="#4257c9"/>
<path d="m11988 6459l107 43 63-71-106-44z" fill="#4257c9"/>
<path d="m12095 6502l107 43 63-71-107-43z" fill="#4055c8"/>
<path d="m12202 6545l107 41 63-71-107-41z" fill="#4055c8"/>
<path d="m12309 6586l107 40 64-70-108-41z" fill="#3f53c6"/>
<path d="m12416 6626l108 41 63-70-107-41z" fill="#3f53c6"/>
<path d="m12524 6667l108 40 63-69-108-41z" fill="#3e51c5"/>
<path d="m12632 6707l108 40 63-68-108-41z" fill="#3e51c5"/>
<path d="m12740 6747l109 39 62-67-108-40z" fill="#3d50c3"/>
<path d="m12849 6786l108 40 63-67-109-40z" fill="#3d50c3"/>
<path d="m12957 6826l109 39 63-67-109-39z" fill="#3d50c3"/>
<path d="m13066 6865l109 39 63-66-109-40z" fill="#3c4ec2"/>
<path d="m13175 6904l110 38 62-65-109-39z" fill="#3c4ec2"/>
<path d="m13285 6942l110 39 62-65-110-39z" fill="#3c4ec2"/>
<path d="m13395 6981l110 38 61-65-109-38z" fill="#3c4ec2"/>
<path d="m13505 7019l110 37 61-64-110-38z" fill="#3b4cc0"/>
<path d="m13615 7056l110 38 62-64-111-38z" fill="#3b4cc0"/>
<path d="m13725 7094l111 37 61-63-110-38z" fill="#3b4cc0"/>
<path d="m13836 7131l111 37 61-63-111-37z" fill="#3b4cc0"/>
<path d="m13947 7168l111 37 61-63-111-37z" fill="#3b4cc0"/>
</g></g>
<line x1="931.4" y1="593.6" x2="1420.5" y2="751.4" stroke="#000" stroke-width="1.7" />
<line x1="1420.5" y1="751.4" x2="1678.1" y2="487.1" stroke="#000" stroke-width="1.7" />
<line x1="1678.1" y1="487.1" x2="1696.6" y2="127.8" stroke="#000" stroke-width="1.7" />
<line x1="963.5" y1="601.1" x2="954.8" y2="608.4" stroke="#000" stroke-width="1.5"/>
<text x="955.6" y="640.5" font-size="31" text-anchor="middle" font-weight="normal" >−10</text>
<line x1="1066.4" y1="634.3" x2="1057.9" y2="641.8" stroke="#000" stroke-width="1.5"/>
<text x="1058.6" y="673.7" font-size="31" text-anchor="middle" font-weight="normal" >−5</text>
<line x1="1171.8" y1="668.2" x2="1163.5" y2="675.9" stroke="#000" stroke-width="1.5"/>
<text x="1164" y="707.7" font-size="31" text-anchor="middle" font-weight="normal" >0</text>
<line x1="1279.6" y1="703" x2="1271.5" y2="710.8" stroke="#000" stroke-width="1.5"/>
<text x="1271.9" y="742.5" font-size="31" text-anchor="middle" font-weight="normal" >5</text>
<line x1="1390.1" y1="738.6" x2="1382.1" y2="746.6" stroke="#000" stroke-width="1.5"/>
<text x="1382.4" y="778.1" font-size="31" text-anchor="middle" font-weight="normal" >10</text>
<line x1="1435.3" y1="732.1" x2="1446.6" y2="735.7" stroke="#000" stroke-width="1.5"/>
<text x="1446.9" y="767.9" font-size="31" text-anchor="middle" font-weight="normal" >−10</text>
<line x1="1494.9" y1="671.1" x2="1506" y2="674.5" stroke="#000" stroke-width="1.5"/>
<text x="1506.4" y="706.8" font-size="31" text-anchor="middle" font-weight="normal" >−5</text>
<line x1="1552.1" y1="612.4" x2="1563.1" y2="615.8" stroke="#000" stroke-width="1.5"/>
<text x="1563.6" y="648.1" font-size="31" text-anchor="middle" font-weight="normal" >0</text>
<line x1="1607.2" y1="556" x2="1618" y2="559.2" stroke="#000" stroke-width="1.5"/>
<text x="1618.6" y="591.7" font-size="31" text-anchor="middle" font-weight="normal" >5</text>
<line x1="1660.1" y1="501.7" x2="1670.8" y2="504.8" stroke="#000" stroke-width="1.5"/>
<text x="1671.5" y="537.4" font-size="31" text-anchor="middle" font-weight="normal" >10</text>
<line x1="1675.5" y1="479.4" x2="1686.2" y2="482.5" stroke="#000" stroke-width="1.5"/>
<text x="1709.3" y="497.1" font-size="28" text-anchor="middle" font-weight="normal" >0.00</text>
<line x1="1679.8" y1="395.9" x2="1690.6" y2="398.9" stroke="#000" stroke-width="1.5"/>
<text x="1713.6" y="413.6" font-size="28" text-anchor="middle" font-weight="normal" >0.06</text>
<line x1="1684.2" y1="310.6" x2="1695.1" y2="313.5" stroke="#000" stroke-width="1.5"/>
<text x="1717.9" y="328.3" font-size="28" text-anchor="middle" font-weight="normal" >0.12</text>
<line x1="1688.6" y1="223.5" x2="1699.7" y2="226.4" stroke="#000" stroke-width="1.5"/>
<text x="1722.4" y="241.2" font-size="28" text-anchor="middle" font-weight="normal" >0.19</text>
<line x1="1693.2" y1="134.6" x2="1704.3" y2="137.3" stroke="#000" stroke-width="1.5"/>
<text x="1727" y="152.2" font-size="28" text-anchor="middle" font-weight="normal" >0.25</text>
<text x="1130.2" y="764.6" font-size="43" text-anchor="middle" font-weight="normal" transform="rotate(18 1130.2 764.6)" ><tspan font-style="italic">X</tspan> (mm)</text>
<text x="1624.6" y="685.1" font-size="43" text-anchor="middle" font-weight="normal" transform="rotate(-45.8 1624.6 685.1)" ><tspan font-style="italic">Y</tspan> (mm)</text>
<text x="1782.5" y="301.7" font-size="34.7" text-anchor="middle" font-weight="normal" transform="rotate(-87.6 1782.5 301.7)" >Quantum efficiency (%)</text>
</g>
<defs>
<clipPath id="ca"><rect x="545" y="13.3" width="219.4" height="205.6"/></clipPath>
<filter id="b1" x="-20%" y="-20%" width="140%" height="140%"><feGaussianBlur stdDeviation="1"/></filter>
<filter id="b2" x="-30%" y="-30%" width="160%" height="160%"><feGaussianBlur stdDeviation="2.5"/></filter>
<filter id="b6" x="-50%" y="-50%" width="200%" height="200%"><feGaussianBlur stdDeviation="7"/></filter>
<linearGradient id="abg" x1="0" y1="0" x2="1" y2="1"><stop offset="0" stop-color="#58405a"/><stop offset="0.35" stop-color="#3c2c38"/><stop offset="0.7" stop-color="#33292c"/><stop offset="1" stop-color="#2b2a30"/></linearGradient>
<linearGradient id="arb" x1="0" y1="0" x2="0" y2="1"><stop offset="0" stop-color="#2a221f"/><stop offset="0.3" stop-color="#4c3a2e"/><stop offset="0.5" stop-color="#66503e"/><stop offset="0.75" stop-color="#40332c"/><stop offset="1" stop-color="#2c2628"/></linearGradient>
<linearGradient id="af1" x1="0" y1="0.2" x2="1" y2="0.5"><stop offset="0" stop-color="#e6b48c"/><stop offset="0.12" stop-color="#d29a72"/><stop offset="0.3" stop-color="#9c6448"/><stop offset="0.5" stop-color="#8a563e"/><stop offset="0.8" stop-color="#b47c58"/><stop offset="1" stop-color="#c08a64"/></linearGradient>
<linearGradient id="af2" x1="0" y1="0.2" x2="1" y2="0.5"><stop offset="0" stop-color="#f2c8a2"/><stop offset="0.12" stop-color="#cf9870"/><stop offset="0.32" stop-color="#8e5a40"/><stop offset="0.55" stop-color="#74442f"/><stop offset="1" stop-color="#a87050"/></linearGradient>
<linearGradient id="af3" x1="0" y1="0.2" x2="1" y2="0.5"><stop offset="0" stop-color="#e8b88e"/><stop offset="0.15" stop-color="#b88058"/><stop offset="0.4" stop-color="#6e4030"/><stop offset="0.7" stop-color="#5a3426"/><stop offset="1" stop-color="#8a583c"/></linearGradient>
<linearGradient id="an" x1="0" y1="0.1" x2="1" y2="0.4"><stop offset="0" stop-color="#a06c4a"/><stop offset="0.25" stop-color="#5c3626"/><stop offset="0.55" stop-color="#46281c"/><stop offset="0.8" stop-color="#7a4a32"/><stop offset="1" stop-color="#b07a54"/></linearGradient>
<linearGradient id="aff" x1="0" y1="0" x2="1" y2="1"><stop offset="0" stop-color="#f0c6a0"/><stop offset="0.35" stop-color="#d9a27a"/><stop offset="0.7" stop-color="#c48c66"/><stop offset="1" stop-color="#b07a56"/></linearGradient>
<linearGradient id="afc" x1="1" y1="0" x2="0" y2="1"><stop offset="0" stop-color="#6f5f58"/><stop offset="0.5" stop-color="#52423c"/><stop offset="1" stop-color="#3d2f2b"/></linearGradient>
</defs>
<g clip-path="url(#ca)">
<rect x="545" y="13" width="220" height="206" fill="url(#abg)"/>
<ellipse cx="579.2" cy="27.5" rx="48.0" ry="24.0" fill="#7a5680" filter="url(#b6)" opacity=".8"/>
<ellipse cx="651.7" cy="20.3" rx="45.0" ry="14.0" fill="#4c3850" filter="url(#b6)" opacity=".9"/>
<ellipse cx="703.8" cy="46.3" rx="34.0" ry="30.0" fill="#4d4753" filter="url(#b1)"/>
<ellipse cx="699.8" cy="52.3" rx="22.0" ry="20.0" fill="#3a353f" filter="url(#b1)"/>
<ellipse cx="697.8" cy="55.3" rx="13.0" ry="12.0" fill="#55505c" filter="url(#b1)"/>
<rect x="737.1" y="13" width="27.9" height="206" fill="url(#arb)"/>
<rect x="735.6" y="13" width="3" height="206" fill="#241d1c" opacity=".7" filter="url(#b1)"/>
<ellipse cx="602.4" cy="208.6" rx="40.0" ry="16.0" fill="#3b3d45" filter="url(#b2)"/>
<ellipse cx="645.9" cy="199.9" rx="24.0" ry="14.0" fill="#45464e" filter="url(#b2)"/>
<ellipse cx="715.4" cy="202.8" rx="40.0" ry="20.0" fill="#35323a" filter="url(#b2)"/>
<ellipse cx="556.1" cy="173.8" rx="14.0" ry="30.0" fill="#2a2a30" filter="url(#b2)"/>
<ellipse cx="612.6" cy="115.9" rx="66.0" ry="80.0" fill="#1e1718" filter="url(#b2)" opacity=".7"/>
<ellipse cx="614.0" cy="111.5" rx="62.3" ry="78.2" fill="url(#af1)" stroke="#f6d3b2" stroke-width="1.3" />
<ellipse cx="620.4" cy="112.1" rx="58.0" ry="73.0" fill="#8e5a3c" stroke="#7a4a30" stroke-width="1" />
<ellipse cx="623.3" cy="112.1" rx="56.5" ry="70.5" fill="url(#af2)" stroke="#f8dcc0" stroke-width="1.2" />
<ellipse cx="629.9" cy="113.0" rx="52.0" ry="65.0" fill="#7a4a32" stroke="#6a3c28" stroke-width="1" />
<ellipse cx="633.1" cy="113.0" rx="50.5" ry="62.5" fill="url(#af3)" stroke="#f0c6a0" stroke-width="1.1" />
<ellipse cx="645.9" cy="114.4" rx="46.0" ry="57.0" fill="url(#an)" />
<ellipse cx="625.6" cy="62.3" rx="16.0" ry="3.5" fill="#fff1de" transform="rotate(-28 625.6 62.3)" filter="url(#b1)" opacity=".95"/>
<ellipse cx="589.4" cy="43.5" rx="10.0" ry="3.0" fill="#fff1de" transform="rotate(-40 589.4 43.5)" filter="url(#b1)" opacity=".9"/>
<ellipse cx="564.2" cy="95.6" rx="2.5" ry="22.0" fill="#ffdcb8" transform="rotate(8 564.2 95.6)" filter="url(#b1)" opacity=".7"/>
<ellipse cx="666.2" cy="118.8" rx="68.0" ry="70.0" fill="#3a2016" filter="url(#b2)" opacity=".6"/>
<ellipse cx="674.6" cy="119.1" rx="65.8" ry="69.2" fill="url(#aff)" stroke="#fbe2c8" stroke-width="1.2" />
<ellipse cx="685.3" cy="121.7" rx="53.9" ry="55.6" fill="url(#afc)" stroke="#f1cfac" stroke-width="1.1" />
<polygon points="686.4,102.4 695.2,110.4 687.0,119.4 678.0,111.6" fill="#b8a99d"/>
<polygon points="684.4,119.7 693.2,127.7 685.0,136.7 676.0,128.9" fill="#b8a99d"/>
</g>
<rect x="542.2" y="11" width="224.8" height="210.6" rx="2.5" fill="none" stroke="#a8dddd" stroke-width="5.8"/>
<defs>
<clipPath id="cb"><rect x="1457" y="12.8" width="218.4" height="205.2"/></clipPath>
<clipPath id="cbf"><ellipse cx="1593.5" cy="149.5" rx="55.5" ry="53"/></clipPath>
<linearGradient id="bbg" x1="0" y1="0" x2="1" y2="1"><stop offset="0" stop-color="#261a1a"/><stop offset="0.5" stop-color="#1d1416"/><stop offset="1" stop-color="#1a1214"/></linearGradient>
<linearGradient id="brb" x1="0" y1="0" x2="0" y2="1"><stop offset="0" stop-color="#33211a"/><stop offset="0.3" stop-color="#5c3c26"/><stop offset="0.6" stop-color="#3c271c"/><stop offset="1" stop-color="#241714"/></linearGradient>
<linearGradient id="bf1" x1="0" y1="0.3" x2="1" y2="0.6"><stop offset="0" stop-color="#7a4a2c"/><stop offset="0.08" stop-color="#e0aa7c"/><stop offset="0.2" stop-color="#f2c8a0"/><stop offset="0.4" stop-color="#d09868"/><stop offset="0.7" stop-color="#b07a4e"/><stop offset="1" stop-color="#8e5a34"/></linearGradient>
<linearGradient id="bf2" x1="0" y1="0.3" x2="1" y2="0.6"><stop offset="0" stop-color="#6a3e24"/><stop offset="0.1" stop-color="#d8a070"/><stop offset="0.25" stop-color="#f6d2ac"/><stop offset="0.45" stop-color="#c88e60"/><stop offset="1" stop-color="#8a5632"/></linearGradient>
<linearGradient id="bf3" x1="0" y1="0.3" x2="1" y2="0.6"><stop offset="0" stop-color="#5a341e"/><stop offset="0.1" stop-color="#c08658"/><stop offset="0.3" stop-color="#eec096"/><stop offset="0.5" stop-color="#b47c50"/><stop offset="1" stop-color="#7c4a2a"/></linearGradient>
<linearGradient id="bn" x1="0" y1="0.2" x2="1" y2="0.5"><stop offset="0" stop-color="#4a2a18"/><stop offset="0.2" stop-color="#6a3e22"/><stop offset="0.4" stop-color="#8a5632"/><stop offset="0.6" stop-color="#5e3620"/><stop offset="1" stop-color="#b88052"/></linearGradient>
<linearGradient id="bff" x1="0.2" y1="0" x2="0.7" y2="1"><stop offset="0" stop-color="#f8d4ae"/><stop offset="0.35" stop-color="#e6b084"/><stop offset="0.7" stop-color="#d09a6c"/><stop offset="1" stop-color="#b88054"/></linearGradient>
<linearGradient id="bsh" x1="0.65" y1="0" x2="0.35" y2="1"><stop offset="0" stop-color="#3a2420" stop-opacity="0.1"/><stop offset="0.5" stop-color="#2a1818" stop-opacity="0.12"/><stop offset="0.8" stop-color="#1a0c0c" stop-opacity="0.25"/><stop offset="1" stop-color="#120808" stop-opacity="0.45"/></linearGradient>
<pattern id="chk" width="25.6" height="25.6" patternUnits="userSpaceOnUse" patternTransform="translate(1590.5 144.5) rotate(-8) skewX(-4)"><rect width="25.6" height="25.6" fill="#adb5cc"/><rect width="12.8" height="12.8" fill="#985a58"/><rect x="12.8" y="12.8" width="12.8" height="12.8" fill="#985a58"/></pattern>
<pattern id="chk2" width="25.6" height="25.6" patternUnits="userSpaceOnUse" patternTransform="translate(1590.5 144.5) rotate(-8) skewX(-4)"><rect width="25.6" height="25.6" fill="#4a4446"/><rect width="12.8" height="12.8" fill="#7c5850"/><rect x="12.8" y="12.8" width="12.8" height="12.8" fill="#7c5850"/></pattern>
<linearGradient id="mkg" x1="0.62" y1="0" x2="0.38" y2="1"><stop offset="0" stop-color="#000"/><stop offset="0.48" stop-color="#000"/><stop offset="0.66" stop-color="#fff"/><stop offset="1" stop-color="#fff"/></linearGradient>
<mask id="mk"><rect x="1528.5" y="87.5" width="130" height="125" fill="url(#mkg)"/></mask>
</defs>
<g clip-path="url(#cb)">
<rect x="1457" y="12" width="219" height="207" fill="url(#bbg)"/>
<ellipse cx="1628.3" cy="34.8" rx="40.0" ry="22.0" fill="#33211b" filter="url(#b6)"/>
<rect x="1663.6" y="12" width="12.4" height="207" fill="url(#brb)"/>
<ellipse cx="1483.5" cy="185.4" rx="30.0" ry="14.0" fill="#2a2024" filter="url(#b6)"/>
<ellipse cx="1537.7" cy="97.8" rx="78.0" ry="84.0" fill="url(#bf1)" stroke="#f6d0a8" stroke-width="1.0" />
<ellipse cx="1544.0" cy="99.5" rx="71.5" ry="77.5" fill="#7c4a2a" stroke="#6a3c20" stroke-width="1" />
<ellipse cx="1546.7" cy="100.0" rx="69.5" ry="75.0" fill="url(#bf2)" stroke="#ffe6cc" stroke-width="1.2" />
<ellipse cx="1553.8" cy="102.7" rx="63.0" ry="68.5" fill="#6e4024" stroke="#5c341c" stroke-width="1" />
<ellipse cx="1556.5" cy="103.3" rx="61.0" ry="66.0" fill="url(#bf3)" stroke="#f6cca4" stroke-width="1.1" />
<ellipse cx="1566.3" cy="110.9" rx="53.0" ry="58.0" fill="url(#bn)" />
<ellipse cx="1545.9" cy="71.1" rx="21.0" ry="8.5" fill="#fff4e0" transform="rotate(-35 1545.9 71.1)" filter="url(#b1)"/>
<ellipse cx="1510.5" cy="28.4" rx="15.0" ry="4.5" fill="#fff0da" transform="rotate(-28 1510.5 28.4)" filter="url(#b1)" opacity=".95"/>
<ellipse cx="1521.4" cy="61.1" rx="14.0" ry="4.0" fill="#ffeccc" transform="rotate(-35 1521.4 61.1)" filter="url(#b1)" opacity=".9"/>
<ellipse cx="1533.7" cy="89.7" rx="4.0" ry="20.0" fill="#ffdcb4" transform="rotate(30 1533.7 89.7)" filter="url(#b2)" opacity=".55"/>
<ellipse cx="1578.6" cy="138.6" rx="70.0" ry="68.0" fill="#2e160a" filter="url(#b2)" opacity=".65"/>
<ellipse cx="1585.4" cy="144.1" rx="69.0" ry="67.5" fill="url(#bff)" stroke="#ffe4c8" stroke-width="1.2" />
<ellipse cx="1591.9" cy="148.4" rx="60.0" ry="57.5" fill="#d29a70" stroke="#a86c44" stroke-width="1.2" />
<g clip-path="url(#cbf)"><rect x="1528.5" y="87.5" width="130" height="125" fill="url(#chk)"/><rect x="1528.5" y="87.5" width="130" height="125" fill="url(#chk2)" mask="url(#mk)"/><rect x="1528.5" y="87.5" width="130" height="125" fill="url(#bsh)"/>
<ellipse cx="1599.5" cy="105.5" rx="50.0" ry="14.0" fill="#8a5a52" filter="url(#b2)" opacity=".75"/>
</g>
<ellipse cx="1593.5" cy="149.5" rx="55.5" ry="53.0" fill="none" stroke="#f2caa4" stroke-width="1.2" />
</g>
<rect x="1454" y="10.2" width="225" height="210.4" rx="2.5" fill="none" stroke="#a8dddd" stroke-width="5.8"/>
<text x="7.5" y="36.8" font-size="41" text-anchor="start" font-weight="bold" >(a)</text>
<text x="964.5" y="36.8" font-size="41" text-anchor="start" font-weight="bold" >(b)</text>
</svg>
</body></html>
